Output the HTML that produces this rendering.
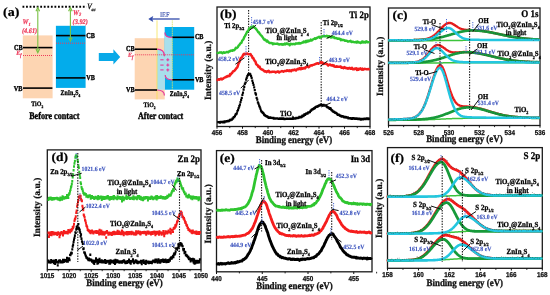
<!DOCTYPE html>
<html><head><meta charset="utf-8"><title>XPS figure</title>
<style>
html,body{margin:0;padding:0;background:#fff;}
body{width:550px;height:295px;overflow:hidden;}
svg{display:block;}
</style></head>
<body>
<svg width="550" height="295" viewBox="0 0 550 295" text-rendering="geometricPrecision">
<rect width="550" height="295" fill="#fff"/>
<text transform="translate(3,16.4) scale(1,0.9)" font-size="14" text-anchor="start" fill="#000" font-family="'Liberation Serif', 'Times New Roman', serif" font-weight="bold" font-style="normal"  stroke="#000" stroke-width="0.25">(a)</text>
<line x1="22.5" y1="6.8" x2="86.5" y2="6.8" stroke="#000" stroke-width="1.9" stroke-dasharray="1.8 1.75"/>
<text transform="translate(87.2,8.6) scale(1,1.12)" font-size="7.2" text-anchor="start" fill="#000" font-family="'Liberation Serif', 'Times New Roman', serif" font-weight="normal" font-style="italic"  stroke="#000" stroke-width="0.25">V<tspan font-size="4.2" dy="2.1">ac</tspan></text>
<rect x="22.8" y="35.4" width="29.8" height="62.9" fill="#fdd5b2"/>
<rect x="55.9" y="25.8" width="29.7" height="62.1" fill="#03aceb"/>
<line x1="22.9" y1="47.6" x2="52.4" y2="47.6" stroke="#000" stroke-width="1.6" />
<line x1="22.9" y1="88.1" x2="52.4" y2="88.1" stroke="#000" stroke-width="1.6" />
<line x1="56" y1="35.6" x2="85.4" y2="35.6" stroke="#000" stroke-width="1.6" />
<line x1="56" y1="77.9" x2="85.4" y2="77.9" stroke="#000" stroke-width="1.6" />
<line x1="23" y1="55.5" x2="52" y2="55.5" stroke="#ee3a5a" stroke-width="1.0" stroke-dasharray="1 1"/>
<line x1="56" y1="43.2" x2="85.4" y2="43.2" stroke="#ee3a5a" stroke-width="1.0" stroke-dasharray="1 1"/>
<line x1="37.8" y1="9.5" x2="37.8" y2="50.6" stroke="#79c143" stroke-width="1.1" />
<polyline points="36,11.3 37.8,7.6 39.6,11.3" fill="none" stroke="#79c143" stroke-width="1.2"/>
<polyline points="36,49 37.8,52.6 39.6,49" fill="none" stroke="#79c143" stroke-width="1.2"/>
<line x1="70.4" y1="9.5" x2="70.4" y2="39" stroke="#79c143" stroke-width="1.1" />
<polyline points="68.6,11.3 70.4,7.6 72.2,11.3" fill="none" stroke="#79c143" stroke-width="1.2"/>
<polyline points="68.6,37.4 70.4,41 72.2,37.4" fill="none" stroke="#79c143" stroke-width="1.2"/>
<text transform="translate(22.6,24) scale(1,1.12)" font-size="6.6" text-anchor="start" fill="#ee3a5a" font-family="'Liberation Serif', 'Times New Roman', serif" font-weight="bold" font-style="italic"  stroke="#ee3a5a" stroke-width="0.2">W<tspan font-size="4.4" dy="1.4">1</tspan></text>
<text transform="translate(22,33) scale(1,1.12)" font-size="6.3" text-anchor="start" fill="#ee3a5a" font-family="'Liberation Serif', 'Times New Roman', serif" font-weight="bold" font-style="italic"  stroke="#ee3a5a" stroke-width="0.2">(4.61)</text>
<text transform="translate(73,14.8) scale(1,1.12)" font-size="6.6" text-anchor="start" fill="#ee3a5a" font-family="'Liberation Serif', 'Times New Roman', serif" font-weight="bold" font-style="italic"  stroke="#ee3a5a" stroke-width="0.2">W<tspan font-size="4.4" dy="1.4">2</tspan></text>
<text transform="translate(72.6,24) scale(1,1.12)" font-size="6.3" text-anchor="start" fill="#ee3a5a" font-family="'Liberation Serif', 'Times New Roman', serif" font-weight="bold" font-style="italic"  stroke="#ee3a5a" stroke-width="0.2">(3.92)</text>
<text transform="translate(22.6,49.9) scale(1,1.22)" font-size="6.2" text-anchor="end" fill="#000" font-family="'Liberation Serif', 'Times New Roman', serif" font-weight="bold" font-style="normal"  stroke="#000" stroke-width="0.3">CB</text>
<text transform="translate(16.2,55) scale(1,1.12)" font-size="5.8" text-anchor="start" fill="#ee3a5a" font-family="'Liberation Serif', 'Times New Roman', serif" font-weight="bold" font-style="italic"  stroke="#ee3a5a" stroke-width="0.2">E<tspan font-size="4.6" dy="1.8">f</tspan></text>
<text transform="translate(22.3,90.6) scale(1,1.22)" font-size="6.2" text-anchor="end" fill="#000" font-family="'Liberation Serif', 'Times New Roman', serif" font-weight="bold" font-style="normal"  stroke="#000" stroke-width="0.3">VB</text>
<text transform="translate(86.2,37.9) scale(1,1.22)" font-size="6.2" text-anchor="start" fill="#000" font-family="'Liberation Serif', 'Times New Roman', serif" font-weight="bold" font-style="normal"  stroke="#000" stroke-width="0.3">CB</text>
<text transform="translate(86.2,80.3) scale(1,1.22)" font-size="6.2" text-anchor="start" fill="#000" font-family="'Liberation Serif', 'Times New Roman', serif" font-weight="bold" font-style="normal"  stroke="#000" stroke-width="0.3">VB</text>
<text transform="translate(60.6,95) scale(1,1.25)" font-size="5.9" text-anchor="start" fill="#000" font-family="'Liberation Serif', 'Times New Roman', serif" font-weight="bold" font-style="normal"  stroke="#000" stroke-width="0.25">ZnIn<tspan font-size="3.54" dy="1.77">2</tspan><tspan dy="-1.77">S</tspan><tspan font-size="3.54" dy="1.77">4</tspan></text>
<text transform="translate(31.2,106.2) scale(1,1.12)" font-size="6.0" text-anchor="start" fill="#000" font-family="'Liberation Serif', 'Times New Roman', serif" font-weight="bold" font-style="normal"  stroke="#000" stroke-width="0.25">TiO<tspan font-size="3.6" dy="1.8">2</tspan></text>
<text transform="translate(29.2,118.7) scale(1,1.22)" font-size="8.15" text-anchor="start" fill="#000" font-family="'Liberation Serif', 'Times New Roman', serif" font-weight="bold" font-style="normal"  stroke="#000" stroke-width="0.3">Before contact</text>
<polygon points="98.8,52.9 113.4,52.9 113.4,49.2 120.2,56.9 113.4,64.6 113.4,60.9 98.8,60.9" fill="#08a9e8"/>
<rect x="134.7" y="38.2" width="30" height="61.2" fill="#fdd5b2"/>
<rect x="164.7" y="27.0" width="29.5" height="62.7" fill="#03aceb"/>
<path d="M157,49.2 Q164.7,49.2 164.7,56 L164.7,89.7 L157,89.7 Z" fill="#a8dfec"/>
<path d="M164.7,32.5 Q164.7,37.3 172.3,37.3 L172.3,80 Q164.7,80 164.7,75 Z" fill="#a8dfec"/>
<line x1="157" y1="20.4" x2="157" y2="99.4" stroke="#f6e24c" stroke-width="0.75" />
<line x1="172.3" y1="20.4" x2="172.3" y2="89.7" stroke="#d8e36a" stroke-width="0.9" stroke-dasharray="1.2 0.6"/>
<line x1="134.8" y1="49.2" x2="157" y2="49.2" stroke="#000" stroke-width="1.6" />
<line x1="134.8" y1="90" x2="157" y2="90" stroke="#000" stroke-width="1.6" />
<line x1="172.3" y1="37.3" x2="194.1" y2="37.3" stroke="#000" stroke-width="1.6" />
<line x1="172.3" y1="79.8" x2="194.1" y2="79.8" stroke="#000" stroke-width="1.6" />
<path d="M157,49.2 Q164.4,49.2 164.4,56.2" fill="none" stroke="#e4399b" stroke-width="1.2"/>
<path d="M157,90 Q164.4,90 164.4,95.6" fill="none" stroke="#e4399b" stroke-width="1.2"/>
<path d="M164.9,32.4 Q164.9,37.3 172.3,37.3" fill="none" stroke="#e4399b" stroke-width="1.2"/>
<path d="M165.2,75 Q165.2,79.8 172.3,79.8" fill="none" stroke="#e4399b" stroke-width="1.2"/>
<line x1="134.8" y1="54.8" x2="194.1" y2="54.8" stroke="#ee3a5a" stroke-width="1.0" stroke-dasharray="1 1"/>
<line x1="160.3" y1="59.8" x2="163.6" y2="59.8" stroke="#e4399b" stroke-width="1.1" />
<line x1="166.3" y1="59.8" x2="169.3" y2="59.8" stroke="#e4399b" stroke-width="1.1" />
<line x1="167.8" y1="58.3" x2="167.8" y2="61.3" stroke="#e4399b" stroke-width="1.1" />
<line x1="160.3" y1="65.1" x2="163.6" y2="65.1" stroke="#e4399b" stroke-width="1.1" />
<line x1="166.3" y1="65.1" x2="169.3" y2="65.1" stroke="#e4399b" stroke-width="1.1" />
<line x1="167.8" y1="63.6" x2="167.8" y2="66.6" stroke="#e4399b" stroke-width="1.1" />
<line x1="160.3" y1="69.9" x2="163.6" y2="69.9" stroke="#e4399b" stroke-width="1.1" />
<line x1="166.3" y1="69.9" x2="169.3" y2="69.9" stroke="#e4399b" stroke-width="1.1" />
<line x1="167.8" y1="68.4" x2="167.8" y2="71.4" stroke="#e4399b" stroke-width="1.1" />
<line x1="151" y1="19" x2="179.6" y2="19" stroke="#3049aa" stroke-width="1.3" />
<polygon points="148.8,19 152.8,16.6 151.8,19 152.8,21.4" fill="#3049aa" stroke="#3049aa" stroke-width="0.6"/>
<text transform="translate(159.9,17) scale(1,1.12)" font-size="6.4" text-anchor="start" fill="#3049aa" font-family="'Liberation Serif', 'Times New Roman', serif" font-weight="normal" font-style="normal"  stroke="#3049aa" stroke-width="0.1">IEF</text>
<text transform="translate(134.6,51) scale(1,1.22)" font-size="6.2" text-anchor="end" fill="#000" font-family="'Liberation Serif', 'Times New Roman', serif" font-weight="bold" font-style="normal"  stroke="#000" stroke-width="0.3">CB</text>
<text transform="translate(127.9,57.2) scale(1,1.12)" font-size="5.8" text-anchor="start" fill="#ee3a5a" font-family="'Liberation Serif', 'Times New Roman', serif" font-weight="bold" font-style="italic"  stroke="#ee3a5a" stroke-width="0.2">E<tspan font-size="4.6" dy="1.8">f</tspan></text>
<text transform="translate(134.6,92.4) scale(1,1.22)" font-size="6.2" text-anchor="end" fill="#000" font-family="'Liberation Serif', 'Times New Roman', serif" font-weight="bold" font-style="normal"  stroke="#000" stroke-width="0.3">VB</text>
<text transform="translate(194.9,39.2) scale(1,1.22)" font-size="6.2" text-anchor="start" fill="#000" font-family="'Liberation Serif', 'Times New Roman', serif" font-weight="bold" font-style="normal"  stroke="#000" stroke-width="0.3">CB</text>
<text transform="translate(194.9,82) scale(1,1.22)" font-size="6.2" text-anchor="start" fill="#000" font-family="'Liberation Serif', 'Times New Roman', serif" font-weight="bold" font-style="normal"  stroke="#000" stroke-width="0.3">VB</text>
<text transform="translate(169.8,96.2) scale(1,1.25)" font-size="5.8" text-anchor="start" fill="#000" font-family="'Liberation Serif', 'Times New Roman', serif" font-weight="bold" font-style="normal"  stroke="#000" stroke-width="0.25">ZnIn<tspan font-size="3.48" dy="1.74">2</tspan><tspan dy="-1.74">S</tspan><tspan font-size="3.48" dy="1.74">4</tspan></text>
<text transform="translate(143.6,106.5) scale(1,1.12)" font-size="6.0" text-anchor="start" fill="#000" font-family="'Liberation Serif', 'Times New Roman', serif" font-weight="bold" font-style="normal"  stroke="#000" stroke-width="0.25">TiO<tspan font-size="3.6" dy="1.8">2</tspan></text>
<text transform="translate(138,119.3) scale(1,1.22)" font-size="8.05" text-anchor="start" fill="#000" font-family="'Liberation Serif', 'Times New Roman', serif" font-weight="bold" font-style="normal"  stroke="#000" stroke-width="0.3">After contact</text>
<rect x="217" y="7" width="153" height="119.5" fill="none" stroke="#1a1a1a" stroke-width="1.3"/>
<line x1="217" y1="126.5" x2="217" y2="128.7" stroke="#111" stroke-width="1" />
<line x1="242.5" y1="126.5" x2="242.5" y2="128.7" stroke="#111" stroke-width="1" />
<line x1="268" y1="126.5" x2="268" y2="128.7" stroke="#111" stroke-width="1" />
<line x1="293.5" y1="126.5" x2="293.5" y2="128.7" stroke="#111" stroke-width="1" />
<line x1="319" y1="126.5" x2="319" y2="128.7" stroke="#111" stroke-width="1" />
<line x1="344.5" y1="126.5" x2="344.5" y2="128.7" stroke="#111" stroke-width="1" />
<line x1="370" y1="126.5" x2="370" y2="128.7" stroke="#111" stroke-width="1" />
<line x1="229.75" y1="126.5" x2="229.75" y2="128.1" stroke="#111" stroke-width="0.9" />
<line x1="255.25" y1="126.5" x2="255.25" y2="128.1" stroke="#111" stroke-width="0.9" />
<line x1="280.75" y1="126.5" x2="280.75" y2="128.1" stroke="#111" stroke-width="0.9" />
<line x1="306.25" y1="126.5" x2="306.25" y2="128.1" stroke="#111" stroke-width="0.9" />
<line x1="331.75" y1="126.5" x2="331.75" y2="128.1" stroke="#111" stroke-width="0.9" />
<line x1="357.25" y1="126.5" x2="357.25" y2="128.1" stroke="#111" stroke-width="0.9" />
<text transform="translate(217,135.4) scale(1,1.12)" font-size="6.3" text-anchor="middle" fill="#111" font-family="'Liberation Sans', Arial, sans-serif" font-weight="bold" font-style="normal"  stroke="#111" stroke-width="0.25">456</text>
<text transform="translate(242.5,135.4) scale(1,1.12)" font-size="6.3" text-anchor="middle" fill="#111" font-family="'Liberation Sans', Arial, sans-serif" font-weight="bold" font-style="normal"  stroke="#111" stroke-width="0.25">458</text>
<text transform="translate(268,135.4) scale(1,1.12)" font-size="6.3" text-anchor="middle" fill="#111" font-family="'Liberation Sans', Arial, sans-serif" font-weight="bold" font-style="normal"  stroke="#111" stroke-width="0.25">460</text>
<text transform="translate(293.5,135.4) scale(1,1.12)" font-size="6.3" text-anchor="middle" fill="#111" font-family="'Liberation Sans', Arial, sans-serif" font-weight="bold" font-style="normal"  stroke="#111" stroke-width="0.25">462</text>
<text transform="translate(319,135.4) scale(1,1.12)" font-size="6.3" text-anchor="middle" fill="#111" font-family="'Liberation Sans', Arial, sans-serif" font-weight="bold" font-style="normal"  stroke="#111" stroke-width="0.25">464</text>
<text transform="translate(344.5,135.4) scale(1,1.12)" font-size="6.3" text-anchor="middle" fill="#111" font-family="'Liberation Sans', Arial, sans-serif" font-weight="bold" font-style="normal"  stroke="#111" stroke-width="0.25">466</text>
<text transform="translate(370,135.4) scale(1,1.12)" font-size="6.3" text-anchor="middle" fill="#111" font-family="'Liberation Sans', Arial, sans-serif" font-weight="bold" font-style="normal"  stroke="#111" stroke-width="0.25">468</text>
<text transform="translate(294,142.9) scale(1,1.12)" font-size="8.9" text-anchor="middle" fill="#111" font-family="'Liberation Serif', 'Times New Roman', serif" font-weight="bold" font-style="normal"  stroke="#111" stroke-width="0.3">Binding energy (eV)</text>
<text x="0" y="0" font-size="9.5" text-anchor="middle" fill="#111" stroke="#111" stroke-width="0.25" font-family="'Liberation Serif', 'Times New Roman', serif" font-weight="bold" transform="translate(211.3,70.4) rotate(-90)">Intensity (a.u.)</text>
<line x1="248.6" y1="10" x2="248.6" y2="75" stroke="#1a1a1a" stroke-width="1.1" stroke-dasharray="1.4 1.3"/>
<line x1="321.2" y1="22" x2="321.2" y2="105" stroke="#1a1a1a" stroke-width="1.1" stroke-dasharray="1.4 1.3"/>
<polyline points="217.6,52.89 218.3,53 219,52.72 219.7,52.41 220.4,52.58 221.1,52.3 221.8,52.74 222.5,53.28 223.2,52.41 223.9,52.3 224.6,52.74 225.3,52.62 226,52.43 226.7,51.88 227.4,52.19 228.1,52.41 228.8,51.36 229.5,51.61 230.2,50.79 230.9,50.86 231.6,50.39 232.3,50.84 233,50.07 233.7,50.41 234.4,49.96 235.1,49.35 235.8,47.79 236.5,48.1 237.2,47.68 237.9,47.04 238.6,45.52 239.3,45.13 240,43.97 240.7,43.05 241.4,42.82 242.1,40.85 242.8,40.01 243.5,39.18 244.2,37.25 244.9,36.17 245.6,34.97 246.3,33.67 247,31.84 247.7,31.24 248.4,30.72 249.1,28.43 249.8,28.67 250.5,27.65 251.2,26.8 251.9,27.68 252.6,27.02 253.3,26.24 254,27.12 254.7,27.82 255.4,28.1 256.1,29.23 256.8,29.73 257.5,30.97 258.2,32.26 258.9,32.28 259.6,33.65 260.3,34.31 261,35.52 261.7,35.82 262.4,36.94 263.1,37.91 263.8,39.15 264.5,39.93 265.2,39.44 265.9,40.23 266.6,41.38 267.3,40.63 268,41.7 268.7,42.21 269.4,43.11 270.1,43.11 270.8,42.87 271.5,43.03 272.2,43.24 272.9,44.18 273.6,43.41 274.3,43.57 275,43.95 275.7,43.8 276.4,43.83 277.1,43.47 277.8,44.01 278.5,43.86 279.2,44.61 279.9,44.41 280.6,44.13 281.3,44.46 282,44.03 282.7,44.67 283.4,44.21 284.1,44.48 284.8,43.64 285.5,44.38 286.2,43.47 286.9,43.31 287.6,44.08 288.3,43.8 289,44.27 289.7,45.18 290.4,43.78 291.1,43.84 291.8,44.19 292.5,44.28 293.2,43.93 293.9,43.87 294.6,44.23 295.3,44.08 296,43.31 296.7,43.67 297.4,43.63 298.1,43.05 298.8,43.54 299.5,42.93 300.2,43.63 300.9,43.15 301.6,42.97 302.3,42.51 303,42.56 303.7,41.55 304.4,41.76 305.1,42.24 305.8,40.92 306.5,42.06 307.2,40.67 307.9,41.57 308.6,40.62 309.3,41.11 310,40.57 310.7,39.57 311.4,40.57 312.1,40.39 312.8,39.45 313.5,39.1 314.2,38.89 314.9,38.26 315.6,38.94 316.3,37.96 317,37.94 317.7,37.38 318.4,37.23 319.1,36.74 319.8,37.69 320.5,36.88 321.2,37.23 321.9,36.67 322.6,36.25 323.3,36.32 324,36.16 324.7,36.37 325.4,36.18 326.1,36.22 326.8,35.76 327.5,36.07 328.2,37.25 328.9,36.29 329.6,36.23 330.3,36.98 331,37.59 331.7,36.46 332.4,37.18 333.1,37.16 333.8,36.83 334.5,38.14 335.2,37.99 335.9,38.23 336.6,38.06 337.3,38.8 338,38.55 338.7,38.92 339.4,38.68 340.1,38.82 340.8,40.15 341.5,39.5 342.2,40.03 342.9,40.06 343.6,40.03 344.3,40.16 345,40.81 345.7,40.53 346.4,40.73 347.1,40.93 347.8,41.57 348.5,41.46 349.2,41.42 349.9,41.09 350.6,40.81 351.3,41.94 352,42.03 352.7,41.6 353.4,41.97 354.1,42.13 354.8,42.21 355.5,42.3 356.2,41.72 356.9,42.65 357.6,41.44 358.3,42.43 359,42.29 359.7,42.49 360.4,42.97 361.1,42.81 361.8,41.65 362.5,41.42 363.2,42.57 363.9,41.76 364.6,42.22 365.3,42.62 366,41.51 366.7,41.31 367.4,42.39 368.1,42.3 368.8,42.18" fill="none" stroke="#2ec52e" stroke-width="2.4" stroke-linejoin="round" stroke-linecap="round" />
<polyline points="217.6,80.09 218.3,79.58 219,79.16 219.7,79.62 220.4,79.1 221.1,78.64 221.8,79.4 222.5,78.88 223.2,78.79 223.9,77.84 224.6,77.66 225.3,77.16 226,76.85 226.7,76.95 227.4,76.1 228.1,76.18 228.8,75.71 229.5,75.98 230.2,73.93 230.9,74.39 231.6,73.34 232.3,72.73 233,71.41 233.7,71.14 234.4,70.95 235.1,69.82 235.8,69.08 236.5,68 237.2,67.59 237.9,65.72 238.6,63.19 239.3,62.25 240,60.12 240.7,58.04 241.4,57.73 242.1,57.21 242.8,55.62 243.5,54.21 244.2,53.71 244.9,54.4 245.6,53.81 246.3,53.66 247,53.58 247.7,53.66 248.4,54.14 249.1,54.23 249.8,54.33 250.5,54.11 251.2,55.53 251.9,56.02 252.6,57.98 253.3,58.03 254,59.63 254.7,60.85 255.4,61.43 256.1,63.92 256.8,64.84 257.5,65 258.2,66.54 258.9,67.23 259.6,66.62 260.3,68.56 261,69 261.7,69.57 262.4,69.47 263.1,70.17 263.8,70.53 264.5,71.44 265.2,71.29 265.9,71.31 266.6,72.1 267.3,71.22 268,71.34 268.7,70.75 269.4,72.32 270.1,72.08 270.8,72.1 271.5,72.02 272.2,71.79 272.9,71.86 273.6,71.67 274.3,71.7 275,71.82 275.7,72.48 276.4,72.05 277.1,71.76 277.8,71.5 278.5,71.45 279.2,72.42 279.9,71.88 280.6,71.64 281.3,71.39 282,70.99 282.7,71.4 283.4,71.75 284.1,71.11 284.8,71.11 285.5,71.03 286.2,71.1 286.9,70.25 287.6,70.78 288.3,70.42 289,71.12 289.7,70.29 290.4,70.81 291.1,71.15 291.8,70.22 292.5,69.99 293.2,70.23 293.9,70.03 294.6,69.46 295.3,69.99 296,70.55 296.7,69.39 297.4,69.27 298.1,68.74 298.8,69.2 299.5,68.34 300.2,68.24 300.9,69.15 301.6,67.99 302.3,68.71 303,68.74 303.7,67.99 304.4,67.94 305.1,68.39 305.8,67.23 306.5,66.87 307.2,66.34 307.9,66.76 308.6,67.18 309.3,66.71 310,65.61 310.7,65.4 311.4,65.3 312.1,65.4 312.8,64.92 313.5,64.87 314.2,64.66 314.9,64.13 315.6,63.94 316.3,63.75 317,63.33 317.7,63.35 318.4,63.77 319.1,63.08 319.8,62.83 320.5,62.11 321.2,63.15 321.9,62.24 322.6,62.65 323.3,63.83 324,63.92 324.7,63.68 325.4,63.13 326.1,63.9 326.8,63.93 327.5,64.7 328.2,65.61 328.9,64.87 329.6,64.6 330.3,64.6 331,65.28 331.7,65.4 332.4,65.12 333.1,65.85 333.8,65.42 334.5,66.58 335.2,66.69 335.9,66.84 336.6,66.27 337.3,66.85 338,66.69 338.7,66.71 339.4,66.86 340.1,66.56 340.8,66.62 341.5,67.75 342.2,67.42 342.9,67.72 343.6,68.18 344.3,67.06 345,67.58 345.7,68.11 346.4,68.29 347.1,68.03 347.8,68.73 348.5,68.43 349.2,67.85 349.9,68.03 350.6,68.86 351.3,68.75 352,67.74 352.7,69.25 353.4,68.96 354.1,69.34 354.8,68.61 355.5,68.7 356.2,68.37 356.9,70.06 357.6,68.88 358.3,69.71 359,68.75 359.7,69.15 360.4,68.36 361.1,68.97 361.8,69.62 362.5,68.65 363.2,69.72 363.9,69.42 364.6,68.82 365.3,69.08 366,69.12 366.7,69.33 367.4,69.12 368.1,69 368.8,69.25" fill="none" stroke="#f51d1d" stroke-width="2.5" stroke-linejoin="round" stroke-linecap="round" />
<path d="M217.15,121.04h2.1v2.3h-2.1zM217.77,120.91h2.1v2.3h-2.1zM218.39,121.23h2.1v2.3h-2.1zM219.01,121.45h2.1v2.3h-2.1zM219.63,120.67h2.1v2.3h-2.1zM220.25,121.06h2.1v2.3h-2.1zM220.87,120.8h2.1v2.3h-2.1zM221.49,120.63h2.1v2.3h-2.1zM222.11,121.1h2.1v2.3h-2.1zM222.73,120.6h2.1v2.3h-2.1zM223.35,121.11h2.1v2.3h-2.1zM223.97,120.32h2.1v2.3h-2.1zM224.59,120.56h2.1v2.3h-2.1zM225.21,120.26h2.1v2.3h-2.1zM225.83,119.96h2.1v2.3h-2.1zM226.45,120.21h2.1v2.3h-2.1zM227.07,119.81h2.1v2.3h-2.1zM227.69,119.85h2.1v2.3h-2.1zM228.31,119.43h2.1v2.3h-2.1zM228.93,118.86h2.1v2.3h-2.1zM229.55,118.86h2.1v2.3h-2.1zM230.17,118.56h2.1v2.3h-2.1zM230.79,118.44h2.1v2.3h-2.1zM231.41,117.42h2.1v2.3h-2.1zM232.03,117.15h2.1v2.3h-2.1zM232.65,116.03h2.1v2.3h-2.1zM233.27,116.04h2.1v2.3h-2.1zM233.89,114.7h2.1v2.3h-2.1zM234.51,113.55h2.1v2.3h-2.1zM235.13,113.01h2.1v2.3h-2.1zM235.75,112.15h2.1v2.3h-2.1zM236.37,110.01h2.1v2.3h-2.1zM236.99,108.63h2.1v2.3h-2.1zM237.61,107.05h2.1v2.3h-2.1zM238.23,105.09h2.1v2.3h-2.1zM238.85,103.54h2.1v2.3h-2.1zM239.47,101.01h2.1v2.3h-2.1zM240.09,98.72h2.1v2.3h-2.1zM240.71,96.67h2.1v2.3h-2.1zM241.33,93.71h2.1v2.3h-2.1zM241.95,91.43h2.1v2.3h-2.1zM242.57,88.33h2.1v2.3h-2.1zM243.19,85.58h2.1v2.3h-2.1zM243.81,82.78h2.1v2.3h-2.1zM244.43,81.41h2.1v2.3h-2.1zM245.05,78.47h2.1v2.3h-2.1zM245.67,76.64h2.1v2.3h-2.1zM246.29,74.91h2.1v2.3h-2.1zM246.91,73.76h2.1v2.3h-2.1zM247.53,73h2.1v2.3h-2.1zM248.15,73.35h2.1v2.3h-2.1zM248.77,72.82h2.1v2.3h-2.1zM249.39,73.54h2.1v2.3h-2.1zM250.01,75.06h2.1v2.3h-2.1zM250.63,76.72h2.1v2.3h-2.1zM251.25,79.43h2.1v2.3h-2.1zM251.87,81.77h2.1v2.3h-2.1zM252.49,83.71h2.1v2.3h-2.1zM253.11,86.14h2.1v2.3h-2.1zM253.73,89.04h2.1v2.3h-2.1zM254.35,92.12h2.1v2.3h-2.1zM254.97,93.34h2.1v2.3h-2.1zM255.59,96.73h2.1v2.3h-2.1zM256.21,98.5h2.1v2.3h-2.1zM256.83,101.24h2.1v2.3h-2.1zM257.45,102.55h2.1v2.3h-2.1zM258.07,104.57h2.1v2.3h-2.1zM258.69,105.83h2.1v2.3h-2.1zM259.31,107.44h2.1v2.3h-2.1zM259.93,109.44h2.1v2.3h-2.1zM260.55,110.41h2.1v2.3h-2.1zM261.17,111.05h2.1v2.3h-2.1zM261.79,111.79h2.1v2.3h-2.1zM262.41,112.24h2.1v2.3h-2.1zM263.03,113.34h2.1v2.3h-2.1zM263.65,114.01h2.1v2.3h-2.1zM264.27,114.48h2.1v2.3h-2.1zM264.89,114.89h2.1v2.3h-2.1zM265.51,114.93h2.1v2.3h-2.1zM266.13,115.55h2.1v2.3h-2.1zM266.75,115.82h2.1v2.3h-2.1zM267.37,116.44h2.1v2.3h-2.1zM267.99,116.81h2.1v2.3h-2.1zM268.61,116.37h2.1v2.3h-2.1zM269.23,116.33h2.1v2.3h-2.1zM269.85,116.67h2.1v2.3h-2.1zM270.47,116.63h2.1v2.3h-2.1zM271.09,116.69h2.1v2.3h-2.1zM271.71,116.99h2.1v2.3h-2.1zM272.33,116.78h2.1v2.3h-2.1zM272.95,117.35h2.1v2.3h-2.1zM273.57,117.21h2.1v2.3h-2.1zM274.19,117.38h2.1v2.3h-2.1zM274.81,117.31h2.1v2.3h-2.1zM275.43,117.2h2.1v2.3h-2.1zM276.05,117.18h2.1v2.3h-2.1zM276.67,117.44h2.1v2.3h-2.1zM277.29,117.39h2.1v2.3h-2.1zM277.91,117.67h2.1v2.3h-2.1zM278.53,117.63h2.1v2.3h-2.1zM279.15,117.25h2.1v2.3h-2.1zM279.77,117.71h2.1v2.3h-2.1zM280.39,117.32h2.1v2.3h-2.1zM281.01,117.56h2.1v2.3h-2.1zM281.63,117.67h2.1v2.3h-2.1zM282.25,117.16h2.1v2.3h-2.1zM282.87,117.82h2.1v2.3h-2.1zM283.49,117.85h2.1v2.3h-2.1zM284.11,117.77h2.1v2.3h-2.1zM284.73,117.69h2.1v2.3h-2.1zM285.35,117.71h2.1v2.3h-2.1zM285.97,117.52h2.1v2.3h-2.1zM286.59,117.73h2.1v2.3h-2.1zM287.21,117.63h2.1v2.3h-2.1zM287.83,117.81h2.1v2.3h-2.1zM288.45,117.4h2.1v2.3h-2.1zM289.07,117.8h2.1v2.3h-2.1zM289.69,117.74h2.1v2.3h-2.1zM290.31,117.61h2.1v2.3h-2.1zM290.93,117.48h2.1v2.3h-2.1zM291.55,117.72h2.1v2.3h-2.1zM292.17,116.99h2.1v2.3h-2.1zM292.79,117.56h2.1v2.3h-2.1zM293.41,117.41h2.1v2.3h-2.1zM294.03,117.33h2.1v2.3h-2.1zM294.65,117.25h2.1v2.3h-2.1zM295.27,116.82h2.1v2.3h-2.1zM295.89,116.81h2.1v2.3h-2.1zM296.51,116.94h2.1v2.3h-2.1zM297.13,116.72h2.1v2.3h-2.1zM297.75,116.48h2.1v2.3h-2.1zM298.37,115.77h2.1v2.3h-2.1zM298.99,116.18h2.1v2.3h-2.1zM299.61,116.15h2.1v2.3h-2.1zM300.23,115.86h2.1v2.3h-2.1zM300.85,115.36h2.1v2.3h-2.1zM301.47,114.55h2.1v2.3h-2.1zM302.09,115h2.1v2.3h-2.1zM302.71,114.36h2.1v2.3h-2.1zM303.33,113.31h2.1v2.3h-2.1zM303.95,113.82h2.1v2.3h-2.1zM304.57,112.89h2.1v2.3h-2.1zM305.19,112.56h2.1v2.3h-2.1zM305.81,112.35h2.1v2.3h-2.1zM306.43,112.5h2.1v2.3h-2.1zM307.05,111.57h2.1v2.3h-2.1zM307.67,111.32h2.1v2.3h-2.1zM308.29,111.3h2.1v2.3h-2.1zM308.91,110.79h2.1v2.3h-2.1zM309.53,109.8h2.1v2.3h-2.1zM310.15,109.28h2.1v2.3h-2.1zM310.77,108.5h2.1v2.3h-2.1zM311.39,108.19h2.1v2.3h-2.1zM312.01,108.05h2.1v2.3h-2.1zM312.63,107.58h2.1v2.3h-2.1zM313.25,107.04h2.1v2.3h-2.1zM313.87,106.87h2.1v2.3h-2.1zM314.49,105.92h2.1v2.3h-2.1zM315.11,105.74h2.1v2.3h-2.1zM315.73,105.62h2.1v2.3h-2.1zM316.35,105.24h2.1v2.3h-2.1zM316.97,105.09h2.1v2.3h-2.1zM317.59,104.63h2.1v2.3h-2.1zM318.21,104.2h2.1v2.3h-2.1zM318.83,104.23h2.1v2.3h-2.1zM319.45,103.7h2.1v2.3h-2.1zM320.07,103.44h2.1v2.3h-2.1zM320.69,104.08h2.1v2.3h-2.1zM321.31,103.92h2.1v2.3h-2.1zM321.93,104.11h2.1v2.3h-2.1zM322.55,103.64h2.1v2.3h-2.1zM323.17,104.21h2.1v2.3h-2.1zM323.79,104.36h2.1v2.3h-2.1zM324.41,104.54h2.1v2.3h-2.1zM325.03,104.42h2.1v2.3h-2.1zM325.65,105.33h2.1v2.3h-2.1zM326.27,106.06h2.1v2.3h-2.1zM326.89,106.29h2.1v2.3h-2.1zM327.51,106.4h2.1v2.3h-2.1zM328.13,107h2.1v2.3h-2.1zM328.75,107.67h2.1v2.3h-2.1zM329.37,107.07h2.1v2.3h-2.1zM329.99,108.32h2.1v2.3h-2.1zM330.61,108.98h2.1v2.3h-2.1zM331.23,109.48h2.1v2.3h-2.1zM331.85,110.25h2.1v2.3h-2.1zM332.47,110.53h2.1v2.3h-2.1zM333.09,110.73h2.1v2.3h-2.1zM333.71,111.17h2.1v2.3h-2.1zM334.33,111.74h2.1v2.3h-2.1zM334.95,111.76h2.1v2.3h-2.1zM335.57,112.31h2.1v2.3h-2.1zM336.19,112.98h2.1v2.3h-2.1zM336.81,113.67h2.1v2.3h-2.1zM337.43,113.38h2.1v2.3h-2.1zM338.05,113.75h2.1v2.3h-2.1zM338.67,114.14h2.1v2.3h-2.1zM339.29,114.79h2.1v2.3h-2.1zM339.91,114.66h2.1v2.3h-2.1zM340.53,115.37h2.1v2.3h-2.1zM341.15,114.89h2.1v2.3h-2.1zM341.77,115.35h2.1v2.3h-2.1zM342.39,115.56h2.1v2.3h-2.1zM343.01,116.06h2.1v2.3h-2.1zM343.63,116.32h2.1v2.3h-2.1zM344.25,115.72h2.1v2.3h-2.1zM344.87,116.05h2.1v2.3h-2.1zM345.49,116.57h2.1v2.3h-2.1zM346.11,116.4h2.1v2.3h-2.1zM346.73,116.25h2.1v2.3h-2.1zM347.35,117.13h2.1v2.3h-2.1zM347.97,117.06h2.1v2.3h-2.1zM348.59,117.15h2.1v2.3h-2.1zM349.21,116.94h2.1v2.3h-2.1zM349.83,117.46h2.1v2.3h-2.1zM350.45,117.14h2.1v2.3h-2.1zM351.07,117.6h2.1v2.3h-2.1zM351.69,117.05h2.1v2.3h-2.1zM352.31,117.12h2.1v2.3h-2.1zM352.93,117.48h2.1v2.3h-2.1zM353.55,117.24h2.1v2.3h-2.1zM354.17,117.69h2.1v2.3h-2.1zM354.79,117.6h2.1v2.3h-2.1zM355.41,117.27h2.1v2.3h-2.1zM356.03,117.59h2.1v2.3h-2.1zM356.65,117.49h2.1v2.3h-2.1zM357.27,117.89h2.1v2.3h-2.1zM357.89,117.45h2.1v2.3h-2.1zM358.51,117.52h2.1v2.3h-2.1zM359.13,118.03h2.1v2.3h-2.1zM359.75,118.36h2.1v2.3h-2.1zM360.37,118.3h2.1v2.3h-2.1zM360.99,117.73h2.1v2.3h-2.1zM361.61,117.79h2.1v2.3h-2.1zM362.23,118.2h2.1v2.3h-2.1zM362.85,117.71h2.1v2.3h-2.1zM363.47,117.46h2.1v2.3h-2.1zM364.09,117.8h2.1v2.3h-2.1zM364.71,117.91h2.1v2.3h-2.1zM365.33,117.54h2.1v2.3h-2.1zM365.95,117.3h2.1v2.3h-2.1zM366.57,117.37h2.1v2.3h-2.1zM367.19,118.01h2.1v2.3h-2.1zM367.81,117.59h2.1v2.3h-2.1z" fill="#000"/>
<line x1="251.6" y1="17" x2="251.6" y2="27" stroke="#3b5bd0" stroke-width="0.9" stroke-dasharray="1.2 1.2"/>
<line x1="246" y1="46" x2="246" y2="57" stroke="#3b5bd0" stroke-width="0.9" stroke-dasharray="1.2 1.2"/>
<line x1="324" y1="29" x2="324" y2="37" stroke="#3b5bd0" stroke-width="0.9" stroke-dasharray="1.2 1.2"/>
<line x1="319.5" y1="57" x2="319.5" y2="64" stroke="#3b5bd0" stroke-width="0.9" stroke-dasharray="1.2 1.2"/>
<text transform="translate(220,18.2) scale(1,0.9)" font-size="13.5" text-anchor="start" fill="#000" font-family="'Liberation Serif', 'Times New Roman', serif" font-weight="bold" font-style="normal"  stroke="#000" stroke-width="0.25">(b)</text>
<text transform="translate(368.8,18.4) scale(1,1.12)" font-size="8.8" text-anchor="end" fill="#000" font-family="'Liberation Serif', 'Times New Roman', serif" font-weight="bold" font-style="normal"  stroke="#000" stroke-width="0.25">Ti 2p</text>
<text transform="translate(224.2,27.8) scale(1,1.12)" font-size="6.7" text-anchor="start" fill="#000" font-family="'Liberation Serif', 'Times New Roman', serif" font-weight="bold" font-style="normal"  stroke="#000" stroke-width="0.25">Ti 2p<tspan font-size="4.02" dy="2.01">3/2</tspan></text>
<text transform="translate(252.7,24.2) scale(1,1.12)" font-size="5.8" text-anchor="start" fill="#3a52bd" font-family="'Liberation Serif', 'Times New Roman', serif" font-weight="bold" font-style="normal"  stroke="#3a52bd" stroke-width="0.12">458.7 eV</text>
<line x1="249.2" y1="30.5" x2="256" y2="25.2" stroke="#111" stroke-width="1.0" />
<text transform="translate(265.6,33.2) scale(1,1.12)" font-size="6.9" text-anchor="start" fill="#000" font-family="'Liberation Serif', 'Times New Roman', serif" font-weight="bold" font-style="normal"  stroke="#000" stroke-width="0.25">TiO<tspan font-size="4.14" dy="2.07">2</tspan><tspan dy="-2.07">@ZnIn</tspan><tspan font-size="4.14" dy="2.07">2</tspan><tspan dy="-2.07">S</tspan><tspan font-size="4.14" dy="2.07">4</tspan></text>
<text transform="translate(276.4,40.4) scale(1,1.12)" font-size="6.8" text-anchor="start" fill="#000" font-family="'Liberation Serif', 'Times New Roman', serif" font-weight="bold" font-style="normal"  stroke="#000" stroke-width="0.25">in light</text>
<text transform="translate(322.8,24.9) scale(1,1.12)" font-size="6.7" text-anchor="start" fill="#000" font-family="'Liberation Serif', 'Times New Roman', serif" font-weight="bold" font-style="normal"  stroke="#000" stroke-width="0.25">Ti 2p<tspan font-size="4.02" dy="2.01">1/2</tspan></text>
<text transform="translate(331.7,35) scale(1,1.12)" font-size="5.8" text-anchor="start" fill="#3a52bd" font-family="'Liberation Serif', 'Times New Roman', serif" font-weight="bold" font-style="normal"  stroke="#3a52bd" stroke-width="0.12">464.4 eV</text>
<line x1="326.6" y1="38.5" x2="332.6" y2="35.4" stroke="#111" stroke-width="1.0" />
<text transform="translate(218,60.6) scale(1,1.12)" font-size="5.8" text-anchor="start" fill="#3a52bd" font-family="'Liberation Serif', 'Times New Roman', serif" font-weight="bold" font-style="normal"  stroke="#3a52bd" stroke-width="0.12">458.2 eV</text>
<line x1="235.4" y1="64.2" x2="244.5" y2="57.8" stroke="#111" stroke-width="1.0" />
<text transform="translate(265.2,63.8) scale(1,1.12)" font-size="6.9" text-anchor="start" fill="#000" font-family="'Liberation Serif', 'Times New Roman', serif" font-weight="bold" font-style="normal"  stroke="#000" stroke-width="0.25">TiO<tspan font-size="4.14" dy="2.07">2</tspan><tspan dy="-2.07">@ZnIn</tspan><tspan font-size="4.14" dy="2.07">2</tspan><tspan dy="-2.07">S</tspan><tspan font-size="4.14" dy="2.07">4</tspan></text>
<text transform="translate(328.7,61.6) scale(1,1.12)" font-size="5.8" text-anchor="start" fill="#3a52bd" font-family="'Liberation Serif', 'Times New Roman', serif" font-weight="bold" font-style="normal"  stroke="#3a52bd" stroke-width="0.12">463.9 eV</text>
<line x1="320.5" y1="66.2" x2="327.7" y2="60.9" stroke="#111" stroke-width="1.0" />
<text transform="translate(219,94.6) scale(1,1.12)" font-size="5.8" text-anchor="start" fill="#3a52bd" font-family="'Liberation Serif', 'Times New Roman', serif" font-weight="bold" font-style="normal"  stroke="#3a52bd" stroke-width="0.12">458.5 eV</text>
<line x1="240.8" y1="88.2" x2="248.6" y2="80" stroke="#111" stroke-width="1.0" />
<text transform="translate(326.6,101.2) scale(1,1.12)" font-size="5.8" text-anchor="start" fill="#3a52bd" font-family="'Liberation Serif', 'Times New Roman', serif" font-weight="bold" font-style="normal"  stroke="#3a52bd" stroke-width="0.12">464.2 eV</text>
<line x1="321.2" y1="107" x2="330.7" y2="102.9" stroke="#111" stroke-width="1.0" />
<text transform="translate(280,116.2) scale(1,1.12)" font-size="6.9" text-anchor="start" fill="#000" font-family="'Liberation Serif', 'Times New Roman', serif" font-weight="bold" font-style="normal"  stroke="#000" stroke-width="0.25">TiO<tspan font-size="4.14" dy="2.07">2</tspan></text>
<rect x="388.5" y="8" width="151.5" height="117.5" fill="none" stroke="#1a1a1a" stroke-width="1.3"/>
<line x1="388.5" y1="125.5" x2="388.5" y2="127.7" stroke="#111" stroke-width="1" />
<line x1="418.8" y1="125.5" x2="418.8" y2="127.7" stroke="#111" stroke-width="1" />
<line x1="449.1" y1="125.5" x2="449.1" y2="127.7" stroke="#111" stroke-width="1" />
<line x1="479.4" y1="125.5" x2="479.4" y2="127.7" stroke="#111" stroke-width="1" />
<line x1="509.7" y1="125.5" x2="509.7" y2="127.7" stroke="#111" stroke-width="1" />
<line x1="540" y1="125.5" x2="540" y2="127.7" stroke="#111" stroke-width="1" />
<line x1="403.65" y1="125.5" x2="403.65" y2="127.1" stroke="#111" stroke-width="0.9" />
<line x1="433.95" y1="125.5" x2="433.95" y2="127.1" stroke="#111" stroke-width="0.9" />
<line x1="464.25" y1="125.5" x2="464.25" y2="127.1" stroke="#111" stroke-width="0.9" />
<line x1="494.55" y1="125.5" x2="494.55" y2="127.1" stroke="#111" stroke-width="0.9" />
<line x1="524.85" y1="125.5" x2="524.85" y2="127.1" stroke="#111" stroke-width="0.9" />
<text transform="translate(388.5,134.8) scale(1,1.12)" font-size="6.3" text-anchor="middle" fill="#111" font-family="'Liberation Sans', Arial, sans-serif" font-weight="bold" font-style="normal"  stroke="#111" stroke-width="0.25">526</text>
<text transform="translate(418.8,134.8) scale(1,1.12)" font-size="6.3" text-anchor="middle" fill="#111" font-family="'Liberation Sans', Arial, sans-serif" font-weight="bold" font-style="normal"  stroke="#111" stroke-width="0.25">528</text>
<text transform="translate(449.1,134.8) scale(1,1.12)" font-size="6.3" text-anchor="middle" fill="#111" font-family="'Liberation Sans', Arial, sans-serif" font-weight="bold" font-style="normal"  stroke="#111" stroke-width="0.25">530</text>
<text transform="translate(479.4,134.8) scale(1,1.12)" font-size="6.3" text-anchor="middle" fill="#111" font-family="'Liberation Sans', Arial, sans-serif" font-weight="bold" font-style="normal"  stroke="#111" stroke-width="0.25">532</text>
<text transform="translate(509.7,134.8) scale(1,1.12)" font-size="6.3" text-anchor="middle" fill="#111" font-family="'Liberation Sans', Arial, sans-serif" font-weight="bold" font-style="normal"  stroke="#111" stroke-width="0.25">534</text>
<text transform="translate(540,134.8) scale(1,1.12)" font-size="6.3" text-anchor="middle" fill="#111" font-family="'Liberation Sans', Arial, sans-serif" font-weight="bold" font-style="normal"  stroke="#111" stroke-width="0.25">536</text>
<text transform="translate(464.4,142.2) scale(1,1.12)" font-size="8.9" text-anchor="middle" fill="#111" font-family="'Liberation Serif', 'Times New Roman', serif" font-weight="bold" font-style="normal"  stroke="#111" stroke-width="0.3">Binding energy (eV)</text>
<text x="0" y="0" font-size="9.5" text-anchor="middle" fill="#111" stroke="#111" stroke-width="0.25" font-family="'Liberation Serif', 'Times New Roman', serif" font-weight="bold" transform="translate(382.6,66.2) rotate(-90)">Intensity (a.u.)</text>
<polyline points="389.3,40.34 389.9,40.34 390.5,40.34 391.1,40.34 391.7,40.34 392.3,40.34 392.9,40.33 393.5,40.33 394.1,40.33 394.7,40.33 395.3,40.33 395.9,40.32 396.5,40.32 397.1,40.32 397.7,40.31 398.3,40.31 398.9,40.31 399.5,40.3 400.1,40.3 400.7,40.3 401.3,40.29 401.9,40.29 402.5,40.28 403.1,40.28 403.7,40.27 404.3,40.26 404.9,40.26 405.5,40.25 406.1,40.24 406.7,40.23 407.3,40.23 407.9,40.22 408.5,40.21 409.1,40.2 409.7,40.18 410.3,40.17 410.9,40.16 411.5,40.14 412.1,40.13 412.7,40.11 413.3,40.09 413.9,40.07 414.5,40.05 415.1,40.03 415.7,40 416.3,39.98 416.9,39.95 417.5,39.92 418.1,39.88 418.7,39.85 419.3,39.8 419.9,39.76 420.5,39.71 421.1,39.66 421.7,39.6 422.3,39.53 422.9,39.46 423.5,39.38 424.1,39.29 424.7,39.18 425.3,39.07 425.9,38.95 426.5,38.81 427.1,38.66 427.7,38.49 428.3,38.3 428.9,38.09 429.5,37.86 430.1,37.61 430.7,37.33 431.3,37.03 431.9,36.7 432.5,36.34 433.1,35.96 433.7,35.54 434.3,35.1 434.9,34.62 435.5,34.12 436.1,33.59 436.7,33.03 437.3,32.46 437.9,31.86 438.5,31.24 439.1,30.61 439.7,29.97 440.3,29.32 440.9,28.67 441.5,28.03 442.1,27.4 442.7,26.79 443.3,26.2 443.9,25.64 444.5,25.12 445.1,24.65 445.7,24.22 446.3,23.84 446.9,23.52 447.5,23.27 448.1,23.07 448.7,22.95 449.3,22.91 449.9,22.94 450.5,23.05 451.1,23.22 451.7,23.44 452.3,23.71 452.9,24.03 453.5,24.37 454.1,24.74 454.7,25.13 455.3,25.53 455.9,25.93 456.5,26.32 457.1,26.71 457.7,27.08 458.3,27.43 458.9,27.76 459.5,28.07 460.1,28.35 460.7,28.61 461.3,28.84 461.9,29.04 462.5,29.22 463.1,29.38 463.7,29.51 464.3,29.62 464.9,29.71 465.5,29.79 466.1,29.85 466.7,29.9 467.3,29.94 467.9,29.97 468.5,30 469.1,30.02 469.7,30.05 470.3,30.07 470.9,30.09 471.5,30.11 472.1,30.13 472.7,30.16 473.3,30.19 473.9,30.22 474.5,30.25 475.1,30.28 475.7,30.32 476.3,30.36 476.9,30.4 477.5,30.45 478.1,30.5 478.7,30.56 479.3,30.61 479.9,30.68 480.5,30.74 481.1,30.81 481.7,30.88 482.3,30.96 482.9,31.04 483.5,31.12 484.1,31.21 484.7,31.3 485.3,31.39 485.9,31.49 486.5,31.59 487.1,31.69 487.7,31.79 488.3,31.9 488.9,32.01 489.5,32.12 490.1,32.23 490.7,32.35 491.3,32.47 491.9,32.59 492.5,32.71 493.1,32.83 493.7,32.96 494.3,33.08 494.9,33.21 495.5,33.33 496.1,33.46 496.7,33.59 497.3,33.72 497.9,33.85 498.5,33.98 499.1,34.11 499.7,34.24 500.3,34.37 500.9,34.5 501.5,34.62 502.1,34.75 502.7,34.88 503.3,35.01 503.9,35.13 504.5,35.26 505.1,35.38 505.7,35.51 506.3,35.63 506.9,35.75 507.5,35.87 508.1,35.99 508.7,36.1 509.3,36.22 509.9,36.33 510.5,36.44 511.1,36.55 511.7,36.66 512.3,36.77 512.9,36.87 513.5,36.97 514.1,37.07 514.7,37.17 515.3,37.27 515.9,37.36 516.5,37.46 517.1,37.55 517.7,37.64 518.3,37.72 518.9,37.81 519.5,37.89 520.1,37.97 520.7,38.04 521.3,38.12 521.9,38.19 522.5,38.27 523.1,38.33 523.7,38.4 524.3,38.47 524.9,38.53 525.5,38.59 526.1,38.65 526.7,38.71 527.3,38.77 527.9,38.82 528.5,38.87 529.1,38.92 529.7,38.97 530.3,39.02 530.9,39.06 531.5,39.1 532.1,39.15 532.7,39.19 533.3,39.23 533.9,39.26 534.5,39.3 535.1,39.33 535.7,39.37 536.3,39.4 536.9,39.43 537.5,39.46 538.1,39.48 538.7,39.51" fill="none" stroke="#f51d1d" stroke-width="2.4" stroke-linejoin="round" stroke-linecap="round" />
<polyline points="389.3,40.7 389.9,40.7 390.5,40.7 391.1,40.7 391.7,40.7 392.3,40.7 392.9,40.7 393.5,40.7 394.1,40.7 394.7,40.7 395.3,40.7 395.9,40.7 396.5,40.7 397.1,40.7 397.7,40.7 398.3,40.7 398.9,40.7 399.5,40.7 400.1,40.7 400.7,40.7 401.3,40.7 401.9,40.7 402.5,40.7 403.1,40.7 403.7,40.7 404.3,40.7 404.9,40.69 405.5,40.69 406.1,40.69 406.7,40.69 407.3,40.69 407.9,40.69 408.5,40.69 409.1,40.69 409.7,40.69 410.3,40.69 410.9,40.69 411.5,40.69 412.1,40.69 412.7,40.69 413.3,40.69 413.9,40.69 414.5,40.69 415.1,40.69 415.7,40.68 416.3,40.68 416.9,40.68 417.5,40.68 418.1,40.68 418.7,40.68 419.3,40.68 419.9,40.68 420.5,40.68 421.1,40.67 421.7,40.67 422.3,40.67 422.9,40.67 423.5,40.67 424.1,40.67 424.7,40.66 425.3,40.66 425.9,40.66 426.5,40.66 427.1,40.66 427.7,40.65 428.3,40.65 428.9,40.65 429.5,40.65 430.1,40.64 430.7,40.64 431.3,40.64 431.9,40.63 432.5,40.63 433.1,40.63 433.7,40.62 434.3,40.62 434.9,40.62 435.5,40.61 436.1,40.61 436.7,40.6 437.3,40.6 437.9,40.59 438.5,40.59 439.1,40.58 439.7,40.58 440.3,40.57 440.9,40.57 441.5,40.56 442.1,40.56 442.7,40.55 443.3,40.55 443.9,40.54 444.5,40.53 445.1,40.53 445.7,40.52 446.3,40.52 446.9,40.51 447.5,40.5 448.1,40.5 448.7,40.49 449.3,40.49 449.9,40.48 450.5,40.48 451.1,40.47 451.7,40.46 452.3,40.46 452.9,40.45 453.5,40.45 454.1,40.44 454.7,40.44 455.3,40.43 455.9,40.42 456.5,40.42 457.1,40.41 457.7,40.41 458.3,40.41 458.9,40.4 459.5,40.4 460.1,40.39 460.7,40.39 461.3,40.38 461.9,40.38 462.5,40.38 463.1,40.37 463.7,40.37 464.3,40.37 464.9,40.36 465.5,40.36 466.1,40.36 466.7,40.35 467.3,40.35 467.9,40.35 468.5,40.35 469.1,40.34 469.7,40.34 470.3,40.34 470.9,40.34 471.5,40.33 472.1,40.33 472.7,40.33 473.3,40.33 473.9,40.33 474.5,40.33 475.1,40.32 475.7,40.32 476.3,40.32 476.9,40.32 477.5,40.32 478.1,40.32 478.7,40.32 479.3,40.32 479.9,40.32 480.5,40.31 481.1,40.31 481.7,40.31 482.3,40.31 482.9,40.31 483.5,40.31 484.1,40.31 484.7,40.31 485.3,40.31 485.9,40.31 486.5,40.31 487.1,40.31 487.7,40.31 488.3,40.31 488.9,40.31 489.5,40.31 490.1,40.31 490.7,40.31 491.3,40.31 491.9,40.3 492.5,40.3 493.1,40.3 493.7,40.3 494.3,40.3 494.9,40.3 495.5,40.3 496.1,40.3 496.7,40.3 497.3,40.3 497.9,40.3 498.5,40.3 499.1,40.3 499.7,40.3 500.3,40.3 500.9,40.3 501.5,40.3 502.1,40.3 502.7,40.3 503.3,40.3 503.9,40.3 504.5,40.3 505.1,40.3 505.7,40.3 506.3,40.3 506.9,40.3 507.5,40.3 508.1,40.3 508.7,40.3 509.3,40.3 509.9,40.3 510.5,40.3 511.1,40.3 511.7,40.3 512.3,40.3 512.9,40.3 513.5,40.3 514.1,40.3 514.7,40.3 515.3,40.3 515.9,40.3 516.5,40.3 517.1,40.3 517.7,40.3 518.3,40.3 518.9,40.3 519.5,40.3 520.1,40.3 520.7,40.3 521.3,40.3 521.9,40.3 522.5,40.3 523.1,40.3 523.7,40.3 524.3,40.3 524.9,40.3 525.5,40.3 526.1,40.3 526.7,40.3 527.3,40.3 527.9,40.3 528.5,40.3 529.1,40.3 529.7,40.3 530.3,40.3 530.9,40.3 531.5,40.3 532.1,40.3 532.7,40.3 533.3,40.3 533.9,40.3 534.5,40.3 535.1,40.3 535.7,40.3 536.3,40.3 536.9,40.3 537.5,40.3 538.1,40.3 538.7,40.3" fill="none" stroke="#3cc43c" stroke-width="1.5" stroke-linejoin="round" stroke-linecap="round" />
<polyline points="389.3,40.4 389.9,40.4 390.5,40.4 391.1,40.4 391.7,40.39 392.3,40.39 392.9,40.39 393.5,40.39 394.1,40.39 394.7,40.39 395.3,40.39 395.9,40.39 396.5,40.39 397.1,40.39 397.7,40.38 398.3,40.38 398.9,40.38 399.5,40.38 400.1,40.38 400.7,40.38 401.3,40.37 401.9,40.37 402.5,40.37 403.1,40.36 403.7,40.36 404.3,40.36 404.9,40.35 405.5,40.35 406.1,40.34 406.7,40.34 407.3,40.33 407.9,40.32 408.5,40.32 409.1,40.31 409.7,40.3 410.3,40.29 410.9,40.28 411.5,40.27 412.1,40.26 412.7,40.25 413.3,40.24 413.9,40.22 414.5,40.21 415.1,40.19 415.7,40.17 416.3,40.15 416.9,40.13 417.5,40.11 418.1,40.09 418.7,40.07 419.3,40.04 419.9,40.01 420.5,39.98 421.1,39.95 421.7,39.92 422.3,39.88 422.9,39.84 423.5,39.8 424.1,39.76 424.7,39.71 425.3,39.67 425.9,39.62 426.5,39.56 427.1,39.51 427.7,39.45 428.3,39.39 428.9,39.32 429.5,39.25 430.1,39.18 430.7,39.11 431.3,39.03 431.9,38.95 432.5,38.86 433.1,38.77 433.7,38.68 434.3,38.58 434.9,38.48 435.5,38.38 436.1,38.27 436.7,38.16 437.3,38.04 437.9,37.92 438.5,37.8 439.1,37.67 439.7,37.54 440.3,37.41 440.9,37.27 441.5,37.13 442.1,36.98 442.7,36.84 443.3,36.68 443.9,36.53 444.5,36.37 445.1,36.21 445.7,36.05 446.3,35.88 446.9,35.71 447.5,35.54 448.1,35.37 448.7,35.2 449.3,35.02 449.9,34.85 450.5,34.67 451.1,34.49 451.7,34.32 452.3,34.14 452.9,33.96 453.5,33.79 454.1,33.61 454.7,33.44 455.3,33.27 455.9,33.1 456.5,32.93 457.1,32.77 457.7,32.6 458.3,32.45 458.9,32.29 459.5,32.14 460.1,32 460.7,31.86 461.3,31.72 461.9,31.59 462.5,31.46 463.1,31.35 463.7,31.23 464.3,31.13 464.9,31.03 465.5,30.94 466.1,30.85 466.7,30.77 467.3,30.7 467.9,30.64 468.5,30.59 469.1,30.54 469.7,30.5 470.3,30.47 470.9,30.45 471.5,30.44 472.1,30.43 472.7,30.43 473.3,30.44 473.9,30.45 474.5,30.47 475.1,30.49 475.7,30.51 476.3,30.54 476.9,30.58 477.5,30.61 478.1,30.66 478.7,30.71 479.3,30.76 479.9,30.81 480.5,30.87 481.1,30.94 481.7,31.01 482.3,31.08 482.9,31.15 483.5,31.23 484.1,31.32 484.7,31.4 485.3,31.49 485.9,31.59 486.5,31.68 487.1,31.78 487.7,31.88 488.3,31.99 488.9,32.09 489.5,32.2 490.1,32.32 490.7,32.43 491.3,32.54 491.9,32.66 492.5,32.78 493.1,32.9 493.7,33.02 494.3,33.15 494.9,33.27 495.5,33.4 496.1,33.52 496.7,33.65 497.3,33.78 497.9,33.91 498.5,34.03 499.1,34.16 499.7,34.29 500.3,34.42 500.9,34.55 501.5,34.68 502.1,34.8 502.7,34.93 503.3,35.06 503.9,35.18 504.5,35.31 505.1,35.43 505.7,35.55 506.3,35.67 506.9,35.79 507.5,35.91 508.1,36.03 508.7,36.14 509.3,36.26 509.9,36.37 510.5,36.48 511.1,36.59 511.7,36.7 512.3,36.8 512.9,36.91 513.5,37.01 514.1,37.11 514.7,37.21 515.3,37.3 515.9,37.4 516.5,37.49 517.1,37.58 517.7,37.67 518.3,37.75 518.9,37.83 519.5,37.92 520.1,38 520.7,38.07 521.3,38.15 521.9,38.22 522.5,38.29 523.1,38.36 523.7,38.43 524.3,38.49 524.9,38.56 525.5,38.62 526.1,38.68 526.7,38.73 527.3,38.79 527.9,38.84 528.5,38.89 529.1,38.94 529.7,38.99 530.3,39.04 530.9,39.08 531.5,39.13 532.1,39.17 532.7,39.21 533.3,39.25 533.9,39.28 534.5,39.32 535.1,39.35 535.7,39.38 536.3,39.42 536.9,39.45 537.5,39.47 538.1,39.5 538.7,39.53" fill="none" stroke="#179a3a" stroke-width="2.7" stroke-linejoin="round" stroke-linecap="round" />
<polyline points="389.3,40.35 389.9,40.35 390.5,40.34 391.1,40.34 391.7,40.34 392.3,40.34 392.9,40.34 393.5,40.34 394.1,40.34 394.7,40.34 395.3,40.33 395.9,40.33 396.5,40.33 397.1,40.33 397.7,40.33 398.3,40.33 398.9,40.32 399.5,40.32 400.1,40.32 400.7,40.32 401.3,40.32 401.9,40.31 402.5,40.31 403.1,40.31 403.7,40.31 404.3,40.3 404.9,40.3 405.5,40.3 406.1,40.29 406.7,40.29 407.3,40.29 407.9,40.28 408.5,40.28 409.1,40.28 409.7,40.27 410.3,40.27 410.9,40.26 411.5,40.26 412.1,40.26 412.7,40.25 413.3,40.24 413.9,40.24 414.5,40.23 415.1,40.22 415.7,40.22 416.3,40.21 416.9,40.2 417.5,40.19 418.1,40.17 418.7,40.16 419.3,40.14 419.9,40.13 420.5,40.11 421.1,40.08 421.7,40.05 422.3,40.02 422.9,39.98 423.5,39.94 424.1,39.89 424.7,39.83 425.3,39.77 425.9,39.69 426.5,39.61 427.1,39.51 427.7,39.39 428.3,39.26 428.9,39.12 429.5,38.95 430.1,38.77 430.7,38.56 431.3,38.34 431.9,38.09 432.5,37.81 433.1,37.51 433.7,37.18 434.3,36.83 434.9,36.45 435.5,36.05 436.1,35.63 436.7,35.18 437.3,34.71 437.9,34.22 438.5,33.73 439.1,33.22 439.7,32.7 440.3,32.18 440.9,31.67 441.5,31.16 442.1,30.68 442.7,30.21 443.3,29.76 443.9,29.36 444.5,28.99 445.1,28.66 445.7,28.39 446.3,28.18 446.9,28.02 447.5,27.93 448.1,27.9 448.7,27.95 449.3,28.07 449.9,28.28 450.5,28.55 451.1,28.89 451.7,29.29 452.3,29.73 452.9,30.22 453.5,30.73 454.1,31.27 454.7,31.83 455.3,32.39 455.9,32.95 456.5,33.51 457.1,34.06 457.7,34.58 458.3,35.09 458.9,35.57 459.5,36.02 460.1,36.45 460.7,36.84 461.3,37.2 461.9,37.53 462.5,37.83 463.1,38.1 463.7,38.34 464.3,38.56 464.9,38.75 465.5,38.91 466.1,39.06 466.7,39.18 467.3,39.29 467.9,39.38 468.5,39.46 469.1,39.53 469.7,39.58 470.3,39.63 470.9,39.67 471.5,39.71 472.1,39.73 472.7,39.76 473.3,39.78 473.9,39.8 474.5,39.81 475.1,39.82 475.7,39.83 476.3,39.84 476.9,39.85 477.5,39.86 478.1,39.86 478.7,39.87 479.3,39.87 479.9,39.88 480.5,39.88 481.1,39.89 481.7,39.89 482.3,39.89 482.9,39.9 483.5,39.9 484.1,39.9 484.7,39.91 485.3,39.91 485.9,39.91 486.5,39.91 487.1,39.92 487.7,39.92 488.3,39.92 488.9,39.92 489.5,39.92 490.1,39.93 490.7,39.93 491.3,39.93 491.9,39.93 492.5,39.93 493.1,39.93 493.7,39.94 494.3,39.94 494.9,39.94 495.5,39.94 496.1,39.94 496.7,39.94 497.3,39.94 497.9,39.94 498.5,39.95 499.1,39.95 499.7,39.95 500.3,39.95 500.9,39.95 501.5,39.95 502.1,39.95 502.7,39.95 503.3,39.95 503.9,39.95 504.5,39.96 505.1,39.96 505.7,39.96 506.3,39.96 506.9,39.96 507.5,39.96 508.1,39.96 508.7,39.96 509.3,39.96 509.9,39.96 510.5,39.96 511.1,39.96 511.7,39.96 512.3,39.97 512.9,39.97 513.5,39.97 514.1,39.97 514.7,39.97 515.3,39.97 515.9,39.97 516.5,39.97 517.1,39.97 517.7,39.97 518.3,39.97 518.9,39.97 519.5,39.97 520.1,39.97 520.7,39.97 521.3,39.97 521.9,39.97 522.5,39.97 523.1,39.97 523.7,39.97 524.3,39.97 524.9,39.98 525.5,39.98 526.1,39.98 526.7,39.98 527.3,39.98 527.9,39.98 528.5,39.98 529.1,39.98 529.7,39.98 530.3,39.98 530.9,39.98 531.5,39.98 532.1,39.98 532.7,39.98 533.3,39.98 533.9,39.98 534.5,39.98 535.1,39.98 535.7,39.98 536.3,39.98 536.9,39.98 537.5,39.98 538.1,39.98 538.7,39.98" fill="none" stroke="#24c6e0" stroke-width="2.5" stroke-linejoin="round" stroke-linecap="round" />
<g fill="#333"><circle cx="389.3" cy="40.26" r="0.4"/><circle cx="391.1" cy="40.47" r="0.4"/><circle cx="392.9" cy="40.71" r="0.4"/><circle cx="394.7" cy="40.13" r="0.4"/><circle cx="396.5" cy="40.62" r="0.4"/><circle cx="398.3" cy="39.78" r="0.4"/><circle cx="400.1" cy="40.08" r="0.4"/><circle cx="401.9" cy="39.67" r="0.4"/><circle cx="403.7" cy="40.95" r="0.4"/><circle cx="405.5" cy="40.23" r="0.4"/><circle cx="407.3" cy="39.78" r="0.4"/><circle cx="409.1" cy="39.98" r="0.4"/><circle cx="410.9" cy="40.02" r="0.4"/><circle cx="412.7" cy="40.53" r="0.4"/><circle cx="414.5" cy="39.09" r="0.4"/><circle cx="416.3" cy="39.36" r="0.4"/><circle cx="418.1" cy="39.66" r="0.4"/><circle cx="419.9" cy="41.28" r="0.4"/><circle cx="421.7" cy="40.17" r="0.4"/><circle cx="423.5" cy="39.31" r="0.4"/><circle cx="425.3" cy="39.5" r="0.4"/><circle cx="427.1" cy="39.89" r="0.4"/><circle cx="428.9" cy="37.95" r="0.4"/><circle cx="430.7" cy="37.11" r="0.4"/><circle cx="432.5" cy="37.07" r="0.4"/><circle cx="434.3" cy="35.39" r="0.4"/><circle cx="436.1" cy="33.99" r="0.4"/><circle cx="437.9" cy="31.55" r="0.4"/><circle cx="439.7" cy="31.12" r="0.4"/><circle cx="441.5" cy="29.06" r="0.4"/><circle cx="443.3" cy="26.54" r="0.4"/><circle cx="445.1" cy="25.06" r="0.4"/><circle cx="446.9" cy="22.31" r="0.4"/><circle cx="448.7" cy="23.34" r="0.4"/><circle cx="450.5" cy="22.93" r="0.4"/><circle cx="452.3" cy="23.97" r="0.4"/><circle cx="454.1" cy="25.15" r="0.4"/><circle cx="455.9" cy="25.72" r="0.4"/><circle cx="457.7" cy="26.06" r="0.4"/><circle cx="459.5" cy="28.29" r="0.4"/><circle cx="461.3" cy="28.39" r="0.4"/><circle cx="463.1" cy="29.18" r="0.4"/><circle cx="464.9" cy="29.35" r="0.4"/><circle cx="466.7" cy="29.7" r="0.4"/><circle cx="468.5" cy="28.62" r="0.4"/><circle cx="470.3" cy="30.8" r="0.4"/><circle cx="472.1" cy="30.29" r="0.4"/><circle cx="473.9" cy="30.89" r="0.4"/><circle cx="475.7" cy="31.51" r="0.4"/><circle cx="477.5" cy="30.46" r="0.4"/><circle cx="479.3" cy="29.53" r="0.4"/><circle cx="481.1" cy="30.27" r="0.4"/><circle cx="482.9" cy="30.31" r="0.4"/><circle cx="484.7" cy="31" r="0.4"/><circle cx="486.5" cy="31.63" r="0.4"/><circle cx="488.3" cy="30.7" r="0.4"/><circle cx="490.1" cy="32.44" r="0.4"/><circle cx="491.9" cy="31.68" r="0.4"/><circle cx="493.7" cy="33.13" r="0.4"/><circle cx="495.5" cy="33.27" r="0.4"/><circle cx="497.3" cy="33.53" r="0.4"/><circle cx="499.1" cy="34.06" r="0.4"/><circle cx="500.9" cy="34.17" r="0.4"/><circle cx="502.7" cy="34.51" r="0.4"/><circle cx="504.5" cy="34.25" r="0.4"/><circle cx="506.3" cy="35.61" r="0.4"/><circle cx="508.1" cy="37.09" r="0.4"/><circle cx="509.9" cy="37.52" r="0.4"/><circle cx="511.7" cy="37.45" r="0.4"/><circle cx="513.5" cy="37.4" r="0.4"/><circle cx="515.3" cy="36.86" r="0.4"/><circle cx="517.1" cy="38.41" r="0.4"/><circle cx="518.9" cy="37.77" r="0.4"/><circle cx="520.7" cy="38" r="0.4"/><circle cx="522.5" cy="38.09" r="0.4"/><circle cx="524.3" cy="38.52" r="0.4"/><circle cx="526.1" cy="38.39" r="0.4"/><circle cx="527.9" cy="38.77" r="0.4"/><circle cx="529.7" cy="38.32" r="0.4"/><circle cx="531.5" cy="38.88" r="0.4"/><circle cx="533.3" cy="40.59" r="0.4"/><circle cx="535.1" cy="39.29" r="0.4"/><circle cx="536.9" cy="39.28" r="0.4"/><circle cx="538.7" cy="39.83" r="0.4"/></g>
<polyline points="389.3,62.82 389.9,62.81 390.5,62.81 391.1,62.81 391.7,62.81 392.3,62.8 392.9,62.8 393.5,62.8 394.1,62.79 394.7,62.79 395.3,62.79 395.9,62.78 396.5,62.78 397.1,62.77 397.7,62.77 398.3,62.76 398.9,62.76 399.5,62.75 400.1,62.74 400.7,62.74 401.3,62.73 401.9,62.72 402.5,62.71 403.1,62.7 403.7,62.69 404.3,62.68 404.9,62.67 405.5,62.65 406.1,62.64 406.7,62.62 407.3,62.61 407.9,62.59 408.5,62.57 409.1,62.54 409.7,62.52 410.3,62.49 410.9,62.45 411.5,62.41 412.1,62.37 412.7,62.32 413.3,62.26 413.9,62.2 414.5,62.12 415.1,62.04 415.7,61.94 416.3,61.83 416.9,61.7 417.5,61.55 418.1,61.38 418.7,61.18 419.3,60.96 419.9,60.71 420.5,60.43 421.1,60.12 421.7,59.77 422.3,59.38 422.9,58.96 423.5,58.49 424.1,57.98 424.7,57.44 425.3,56.85 425.9,56.22 426.5,55.56 427.1,54.87 427.7,54.15 428.3,53.41 428.9,52.64 429.5,51.87 430.1,51.1 430.7,50.34 431.3,49.59 431.9,48.87 432.5,48.18 433.1,47.54 433.7,46.96 434.3,46.44 434.9,45.99 435.5,45.63 436.1,45.35 436.7,45.17 437.3,45.06 437.9,45.04 438.5,45.09 439.1,45.22 439.7,45.41 440.3,45.66 440.9,45.96 441.5,46.3 442.1,46.68 442.7,47.09 443.3,47.51 443.9,47.94 444.5,48.38 445.1,48.81 445.7,49.23 446.3,49.64 446.9,50.03 447.5,50.39 448.1,50.73 448.7,51.04 449.3,51.32 449.9,51.57 450.5,51.78 451.1,51.97 451.7,52.12 452.3,52.25 452.9,52.35 453.5,52.43 454.1,52.48 454.7,52.51 455.3,52.52 455.9,52.52 456.5,52.5 457.1,52.48 457.7,52.44 458.3,52.4 458.9,52.35 459.5,52.31 460.1,52.26 460.7,52.21 461.3,52.16 461.9,52.12 462.5,52.08 463.1,52.05 463.7,52.03 464.3,52.01 464.9,52 465.5,52 466.1,52.01 466.7,52.02 467.3,52.04 467.9,52.06 468.5,52.09 469.1,52.12 469.7,52.16 470.3,52.2 470.9,52.25 471.5,52.3 472.1,52.36 472.7,52.42 473.3,52.49 473.9,52.56 474.5,52.63 475.1,52.72 475.7,52.8 476.3,52.89 476.9,52.99 477.5,53.08 478.1,53.19 478.7,53.29 479.3,53.4 479.9,53.52 480.5,53.63 481.1,53.75 481.7,53.88 482.3,54 482.9,54.13 483.5,54.26 484.1,54.4 484.7,54.53 485.3,54.67 485.9,54.81 486.5,54.95 487.1,55.09 487.7,55.23 488.3,55.38 488.9,55.52 489.5,55.67 490.1,55.81 490.7,55.96 491.3,56.11 491.9,56.26 492.5,56.4 493.1,56.55 493.7,56.69 494.3,56.84 494.9,56.98 495.5,57.13 496.1,57.27 496.7,57.41 497.3,57.55 497.9,57.69 498.5,57.83 499.1,57.97 499.7,58.1 500.3,58.23 500.9,58.36 501.5,58.49 502.1,58.62 502.7,58.74 503.3,58.86 503.9,58.98 504.5,59.1 505.1,59.22 505.7,59.33 506.3,59.44 506.9,59.55 507.5,59.65 508.1,59.76 508.7,59.86 509.3,59.96 509.9,60.05 510.5,60.15 511.1,60.24 511.7,60.32 512.3,60.41 512.9,60.49 513.5,60.57 514.1,60.65 514.7,60.73 515.3,60.8 515.9,60.87 516.5,60.94 517.1,61.01 517.7,61.07 518.3,61.13 518.9,61.19 519.5,61.25 520.1,61.3 520.7,61.35 521.3,61.41 521.9,61.45 522.5,61.5 523.1,61.55 523.7,61.59 524.3,61.63 524.9,61.67 525.5,61.71 526.1,61.74 526.7,61.78 527.3,61.81 527.9,61.84 528.5,61.87 529.1,61.9 529.7,61.93 530.3,61.96 530.9,61.98 531.5,62 532.1,62.03 532.7,62.05 533.3,62.07 533.9,62.09 534.5,62.1 535.1,62.12 535.7,62.14 536.3,62.15 536.9,62.17 537.5,62.18 538.1,62.19 538.7,62.21" fill="none" stroke="#f51d1d" stroke-width="2.4" stroke-linejoin="round" stroke-linecap="round" />
<polyline points="389.3,63.2 389.9,63.2 390.5,63.2 391.1,63.19 391.7,63.19 392.3,63.19 392.9,63.19 393.5,63.19 394.1,63.19 394.7,63.19 395.3,63.19 395.9,63.19 396.5,63.19 397.1,63.19 397.7,63.19 398.3,63.19 398.9,63.19 399.5,63.19 400.1,63.19 400.7,63.19 401.3,63.19 401.9,63.18 402.5,63.18 403.1,63.18 403.7,63.18 404.3,63.18 404.9,63.18 405.5,63.18 406.1,63.18 406.7,63.18 407.3,63.17 407.9,63.17 408.5,63.17 409.1,63.17 409.7,63.17 410.3,63.17 410.9,63.16 411.5,63.16 412.1,63.16 412.7,63.16 413.3,63.16 413.9,63.15 414.5,63.15 415.1,63.15 415.7,63.14 416.3,63.14 416.9,63.14 417.5,63.14 418.1,63.13 418.7,63.13 419.3,63.12 419.9,63.12 420.5,63.12 421.1,63.11 421.7,63.11 422.3,63.1 422.9,63.1 423.5,63.09 424.1,63.09 424.7,63.08 425.3,63.08 425.9,63.07 426.5,63.07 427.1,63.06 427.7,63.05 428.3,63.05 428.9,63.04 429.5,63.04 430.1,63.03 430.7,63.02 431.3,63.01 431.9,63.01 432.5,63 433.1,62.99 433.7,62.99 434.3,62.98 434.9,62.97 435.5,62.96 436.1,62.96 436.7,62.95 437.3,62.94 437.9,62.93 438.5,62.93 439.1,62.92 439.7,62.91 440.3,62.9 440.9,62.9 441.5,62.89 442.1,62.88 442.7,62.88 443.3,62.87 443.9,62.86 444.5,62.86 445.1,62.85 445.7,62.84 446.3,62.84 446.9,62.83 447.5,62.83 448.1,62.82 448.7,62.81 449.3,62.81 449.9,62.8 450.5,62.8 451.1,62.8 451.7,62.79 452.3,62.79 452.9,62.78 453.5,62.78 454.1,62.77 454.7,62.77 455.3,62.77 455.9,62.76 456.5,62.76 457.1,62.76 457.7,62.75 458.3,62.75 458.9,62.75 459.5,62.75 460.1,62.74 460.7,62.74 461.3,62.74 461.9,62.74 462.5,62.73 463.1,62.73 463.7,62.73 464.3,62.73 464.9,62.73 465.5,62.73 466.1,62.72 466.7,62.72 467.3,62.72 467.9,62.72 468.5,62.72 469.1,62.72 469.7,62.72 470.3,62.72 470.9,62.72 471.5,62.71 472.1,62.71 472.7,62.71 473.3,62.71 473.9,62.71 474.5,62.71 475.1,62.71 475.7,62.71 476.3,62.71 476.9,62.71 477.5,62.71 478.1,62.71 478.7,62.71 479.3,62.71 479.9,62.71 480.5,62.71 481.1,62.71 481.7,62.71 482.3,62.71 482.9,62.7 483.5,62.7 484.1,62.7 484.7,62.7 485.3,62.7 485.9,62.7 486.5,62.7 487.1,62.7 487.7,62.7 488.3,62.7 488.9,62.7 489.5,62.7 490.1,62.7 490.7,62.7 491.3,62.7 491.9,62.7 492.5,62.7 493.1,62.7 493.7,62.7 494.3,62.7 494.9,62.7 495.5,62.7 496.1,62.7 496.7,62.7 497.3,62.7 497.9,62.7 498.5,62.7 499.1,62.7 499.7,62.7 500.3,62.7 500.9,62.7 501.5,62.7 502.1,62.7 502.7,62.7 503.3,62.7 503.9,62.7 504.5,62.7 505.1,62.7 505.7,62.7 506.3,62.7 506.9,62.7 507.5,62.7 508.1,62.7 508.7,62.7 509.3,62.7 509.9,62.7 510.5,62.7 511.1,62.7 511.7,62.7 512.3,62.7 512.9,62.7 513.5,62.7 514.1,62.7 514.7,62.7 515.3,62.7 515.9,62.7 516.5,62.7 517.1,62.7 517.7,62.7 518.3,62.7 518.9,62.7 519.5,62.7 520.1,62.7 520.7,62.7 521.3,62.7 521.9,62.7 522.5,62.7 523.1,62.7 523.7,62.7 524.3,62.7 524.9,62.7 525.5,62.7 526.1,62.7 526.7,62.7 527.3,62.7 527.9,62.7 528.5,62.7 529.1,62.7 529.7,62.7 530.3,62.7 530.9,62.7 531.5,62.7 532.1,62.7 532.7,62.7 533.3,62.7 533.9,62.7 534.5,62.7 535.1,62.7 535.7,62.7 536.3,62.7 536.9,62.7 537.5,62.7 538.1,62.7 538.7,62.7" fill="none" stroke="#3cc43c" stroke-width="1.5" stroke-linejoin="round" stroke-linecap="round" />
<polyline points="389.3,62.89 389.9,62.89 390.5,62.89 391.1,62.89 391.7,62.89 392.3,62.89 392.9,62.89 393.5,62.89 394.1,62.89 394.7,62.89 395.3,62.88 395.9,62.88 396.5,62.88 397.1,62.88 397.7,62.88 398.3,62.87 398.9,62.87 399.5,62.87 400.1,62.87 400.7,62.86 401.3,62.86 401.9,62.86 402.5,62.85 403.1,62.85 403.7,62.84 404.3,62.84 404.9,62.83 405.5,62.82 406.1,62.82 406.7,62.81 407.3,62.8 407.9,62.79 408.5,62.78 409.1,62.77 409.7,62.76 410.3,62.75 410.9,62.73 411.5,62.72 412.1,62.7 412.7,62.68 413.3,62.66 413.9,62.64 414.5,62.62 415.1,62.6 415.7,62.57 416.3,62.55 416.9,62.52 417.5,62.48 418.1,62.45 418.7,62.41 419.3,62.38 419.9,62.33 420.5,62.29 421.1,62.24 421.7,62.19 422.3,62.14 422.9,62.09 423.5,62.03 424.1,61.96 424.7,61.9 425.3,61.83 425.9,61.75 426.5,61.67 427.1,61.59 427.7,61.51 428.3,61.42 428.9,61.32 429.5,61.22 430.1,61.12 430.7,61.01 431.3,60.9 431.9,60.78 432.5,60.66 433.1,60.53 433.7,60.4 434.3,60.26 434.9,60.12 435.5,59.97 436.1,59.82 436.7,59.67 437.3,59.51 437.9,59.34 438.5,59.17 439.1,59 439.7,58.82 440.3,58.64 440.9,58.46 441.5,58.27 442.1,58.08 442.7,57.89 443.3,57.69 443.9,57.49 444.5,57.29 445.1,57.09 445.7,56.89 446.3,56.69 446.9,56.48 447.5,56.28 448.1,56.07 448.7,55.87 449.3,55.67 449.9,55.47 450.5,55.27 451.1,55.07 451.7,54.88 452.3,54.69 452.9,54.5 453.5,54.32 454.1,54.15 454.7,53.97 455.3,53.81 455.9,53.65 456.5,53.5 457.1,53.35 457.7,53.21 458.3,53.08 458.9,52.96 459.5,52.84 460.1,52.74 460.7,52.64 461.3,52.56 461.9,52.48 462.5,52.41 463.1,52.36 463.7,52.31 464.3,52.27 464.9,52.25 465.5,52.23 466.1,52.22 466.7,52.23 467.3,52.24 467.9,52.25 468.5,52.27 469.1,52.29 469.7,52.32 470.3,52.36 470.9,52.4 471.5,52.45 472.1,52.5 472.7,52.56 473.3,52.62 473.9,52.69 474.5,52.76 475.1,52.84 475.7,52.92 476.3,53.01 476.9,53.1 477.5,53.2 478.1,53.3 478.7,53.4 479.3,53.51 479.9,53.62 480.5,53.73 481.1,53.85 481.7,53.97 482.3,54.09 482.9,54.22 483.5,54.35 484.1,54.48 484.7,54.61 485.3,54.75 485.9,54.88 486.5,55.02 487.1,55.16 487.7,55.31 488.3,55.45 488.9,55.59 489.5,55.74 490.1,55.88 490.7,56.03 491.3,56.17 491.9,56.32 492.5,56.46 493.1,56.61 493.7,56.75 494.3,56.9 494.9,57.04 495.5,57.18 496.1,57.32 496.7,57.47 497.3,57.6 497.9,57.74 498.5,57.88 499.1,58.01 499.7,58.15 500.3,58.28 500.9,58.41 501.5,58.54 502.1,58.66 502.7,58.79 503.3,58.91 503.9,59.03 504.5,59.14 505.1,59.26 505.7,59.37 506.3,59.48 506.9,59.59 507.5,59.69 508.1,59.8 508.7,59.9 509.3,59.99 509.9,60.09 510.5,60.18 511.1,60.27 511.7,60.36 512.3,60.44 512.9,60.53 513.5,60.61 514.1,60.68 514.7,60.76 515.3,60.83 515.9,60.9 516.5,60.97 517.1,61.03 517.7,61.1 518.3,61.16 518.9,61.22 519.5,61.27 520.1,61.33 520.7,61.38 521.3,61.43 521.9,61.48 522.5,61.53 523.1,61.57 523.7,61.61 524.3,61.66 524.9,61.7 525.5,61.73 526.1,61.77 526.7,61.8 527.3,61.84 527.9,61.87 528.5,61.9 529.1,61.92 529.7,61.95 530.3,61.98 530.9,62 531.5,62.03 532.1,62.05 532.7,62.07 533.3,62.09 533.9,62.11 534.5,62.13 535.1,62.14 535.7,62.16 536.3,62.17 536.9,62.19 537.5,62.2 538.1,62.21 538.7,62.23" fill="none" stroke="#179a3a" stroke-width="2.7" stroke-linejoin="round" stroke-linecap="round" />
<polyline points="389.3,62.82 389.9,62.82 390.5,62.82 391.1,62.81 391.7,62.81 392.3,62.81 392.9,62.81 393.5,62.8 394.1,62.8 394.7,62.8 395.3,62.79 395.9,62.79 396.5,62.79 397.1,62.78 397.7,62.78 398.3,62.78 398.9,62.77 399.5,62.77 400.1,62.76 400.7,62.76 401.3,62.75 401.9,62.75 402.5,62.74 403.1,62.74 403.7,62.73 404.3,62.72 404.9,62.72 405.5,62.71 406.1,62.7 406.7,62.69 407.3,62.68 407.9,62.67 408.5,62.65 409.1,62.64 409.7,62.62 410.3,62.61 410.9,62.58 411.5,62.56 412.1,62.53 412.7,62.5 413.3,62.45 413.9,62.41 414.5,62.35 415.1,62.29 415.7,62.21 416.3,62.12 416.9,62.02 417.5,61.9 418.1,61.76 418.7,61.6 419.3,61.41 419.9,61.2 420.5,60.96 421.1,60.69 421.7,60.38 422.3,60.04 422.9,59.67 423.5,59.26 424.1,58.81 424.7,58.32 425.3,57.8 425.9,57.24 426.5,56.66 427.1,56.04 427.7,55.4 428.3,54.74 428.9,54.07 429.5,53.39 430.1,52.71 430.7,52.05 431.3,51.41 431.9,50.8 432.5,50.23 433.1,49.71 433.7,49.25 434.3,48.86 434.9,48.55 435.5,48.32 436.1,48.19 436.7,48.15 437.3,48.2 437.9,48.33 438.5,48.55 439.1,48.84 439.7,49.2 440.3,49.62 440.9,50.1 441.5,50.62 442.1,51.18 442.7,51.77 443.3,52.39 443.9,53.01 444.5,53.64 445.1,54.27 445.7,54.88 446.3,55.49 446.9,56.08 447.5,56.64 448.1,57.17 448.7,57.68 449.3,58.16 449.9,58.6 450.5,59.01 451.1,59.39 451.7,59.73 452.3,60.05 452.9,60.33 453.5,60.58 454.1,60.81 454.7,61.01 455.3,61.18 455.9,61.33 456.5,61.47 457.1,61.58 457.7,61.68 458.3,61.77 458.9,61.84 459.5,61.91 460.1,61.96 460.7,62.01 461.3,62.04 461.9,62.08 462.5,62.11 463.1,62.13 463.7,62.15 464.3,62.17 464.9,62.18 465.5,62.19 466.1,62.21 466.7,62.21 467.3,62.22 467.9,62.23 468.5,62.24 469.1,62.24 469.7,62.25 470.3,62.25 470.9,62.26 471.5,62.26 472.1,62.27 472.7,62.27 473.3,62.28 473.9,62.28 474.5,62.28 475.1,62.29 475.7,62.29 476.3,62.29 476.9,62.29 477.5,62.3 478.1,62.3 478.7,62.3 479.3,62.3 479.9,62.31 480.5,62.31 481.1,62.31 481.7,62.31 482.3,62.32 482.9,62.32 483.5,62.32 484.1,62.32 484.7,62.32 485.3,62.32 485.9,62.33 486.5,62.33 487.1,62.33 487.7,62.33 488.3,62.33 488.9,62.33 489.5,62.33 490.1,62.34 490.7,62.34 491.3,62.34 491.9,62.34 492.5,62.34 493.1,62.34 493.7,62.34 494.3,62.34 494.9,62.35 495.5,62.35 496.1,62.35 496.7,62.35 497.3,62.35 497.9,62.35 498.5,62.35 499.1,62.35 499.7,62.35 500.3,62.35 500.9,62.35 501.5,62.36 502.1,62.36 502.7,62.36 503.3,62.36 503.9,62.36 504.5,62.36 505.1,62.36 505.7,62.36 506.3,62.36 506.9,62.36 507.5,62.36 508.1,62.36 508.7,62.36 509.3,62.36 509.9,62.36 510.5,62.36 511.1,62.37 511.7,62.37 512.3,62.37 512.9,62.37 513.5,62.37 514.1,62.37 514.7,62.37 515.3,62.37 515.9,62.37 516.5,62.37 517.1,62.37 517.7,62.37 518.3,62.37 518.9,62.37 519.5,62.37 520.1,62.37 520.7,62.37 521.3,62.37 521.9,62.37 522.5,62.37 523.1,62.37 523.7,62.37 524.3,62.37 524.9,62.38 525.5,62.38 526.1,62.38 526.7,62.38 527.3,62.38 527.9,62.38 528.5,62.38 529.1,62.38 529.7,62.38 530.3,62.38 530.9,62.38 531.5,62.38 532.1,62.38 532.7,62.38 533.3,62.38 533.9,62.38 534.5,62.38 535.1,62.38 535.7,62.38 536.3,62.38 536.9,62.38 537.5,62.38 538.1,62.38 538.7,62.38" fill="none" stroke="#24c6e0" stroke-width="2.5" stroke-linejoin="round" stroke-linecap="round" />
<g fill="#333"><circle cx="389.3" cy="63.24" r="0.4"/><circle cx="391.1" cy="62.14" r="0.4"/><circle cx="392.9" cy="62.68" r="0.4"/><circle cx="394.7" cy="63.34" r="0.4"/><circle cx="396.5" cy="62.94" r="0.4"/><circle cx="398.3" cy="62.83" r="0.4"/><circle cx="400.1" cy="63.67" r="0.4"/><circle cx="401.9" cy="62.31" r="0.4"/><circle cx="403.7" cy="62.74" r="0.4"/><circle cx="405.5" cy="62.34" r="0.4"/><circle cx="407.3" cy="63.5" r="0.4"/><circle cx="409.1" cy="61.37" r="0.4"/><circle cx="410.9" cy="62.05" r="0.4"/><circle cx="412.7" cy="62" r="0.4"/><circle cx="414.5" cy="62.52" r="0.4"/><circle cx="416.3" cy="62.19" r="0.4"/><circle cx="418.1" cy="62.21" r="0.4"/><circle cx="419.9" cy="59.77" r="0.4"/><circle cx="421.7" cy="60.22" r="0.4"/><circle cx="423.5" cy="58.31" r="0.4"/><circle cx="425.3" cy="56.45" r="0.4"/><circle cx="427.1" cy="55.19" r="0.4"/><circle cx="428.9" cy="52.09" r="0.4"/><circle cx="430.7" cy="49.09" r="0.4"/><circle cx="432.5" cy="47.96" r="0.4"/><circle cx="434.3" cy="45.54" r="0.4"/><circle cx="436.1" cy="44.96" r="0.4"/><circle cx="437.9" cy="45.26" r="0.4"/><circle cx="439.7" cy="45.6" r="0.4"/><circle cx="441.5" cy="47.26" r="0.4"/><circle cx="443.3" cy="47.39" r="0.4"/><circle cx="445.1" cy="47.89" r="0.4"/><circle cx="446.9" cy="49.57" r="0.4"/><circle cx="448.7" cy="50.49" r="0.4"/><circle cx="450.5" cy="51.05" r="0.4"/><circle cx="452.3" cy="52.51" r="0.4"/><circle cx="454.1" cy="52.09" r="0.4"/><circle cx="455.9" cy="51.33" r="0.4"/><circle cx="457.7" cy="52.86" r="0.4"/><circle cx="459.5" cy="52.24" r="0.4"/><circle cx="461.3" cy="52.38" r="0.4"/><circle cx="463.1" cy="52.11" r="0.4"/><circle cx="464.9" cy="52.38" r="0.4"/><circle cx="466.7" cy="52.04" r="0.4"/><circle cx="468.5" cy="52.83" r="0.4"/><circle cx="470.3" cy="52.45" r="0.4"/><circle cx="472.1" cy="52.59" r="0.4"/><circle cx="473.9" cy="52.8" r="0.4"/><circle cx="475.7" cy="51.93" r="0.4"/><circle cx="477.5" cy="52.99" r="0.4"/><circle cx="479.3" cy="53.25" r="0.4"/><circle cx="481.1" cy="53.88" r="0.4"/><circle cx="482.9" cy="53.32" r="0.4"/><circle cx="484.7" cy="55.51" r="0.4"/><circle cx="486.5" cy="55.01" r="0.4"/><circle cx="488.3" cy="54.65" r="0.4"/><circle cx="490.1" cy="54.79" r="0.4"/><circle cx="491.9" cy="56.09" r="0.4"/><circle cx="493.7" cy="56.64" r="0.4"/><circle cx="495.5" cy="56.7" r="0.4"/><circle cx="497.3" cy="57.61" r="0.4"/><circle cx="499.1" cy="57.58" r="0.4"/><circle cx="500.9" cy="58.69" r="0.4"/><circle cx="502.7" cy="58.31" r="0.4"/><circle cx="504.5" cy="59.08" r="0.4"/><circle cx="506.3" cy="60.03" r="0.4"/><circle cx="508.1" cy="61.3" r="0.4"/><circle cx="509.9" cy="59.45" r="0.4"/><circle cx="511.7" cy="60.05" r="0.4"/><circle cx="513.5" cy="60.07" r="0.4"/><circle cx="515.3" cy="61.27" r="0.4"/><circle cx="517.1" cy="60.32" r="0.4"/><circle cx="518.9" cy="60.9" r="0.4"/><circle cx="520.7" cy="61.34" r="0.4"/><circle cx="522.5" cy="60.91" r="0.4"/><circle cx="524.3" cy="61.06" r="0.4"/><circle cx="526.1" cy="61.46" r="0.4"/><circle cx="527.9" cy="60.58" r="0.4"/><circle cx="529.7" cy="61.06" r="0.4"/><circle cx="531.5" cy="61.76" r="0.4"/><circle cx="533.3" cy="62.16" r="0.4"/><circle cx="535.1" cy="62.01" r="0.4"/><circle cx="536.9" cy="61.1" r="0.4"/><circle cx="538.7" cy="61.93" r="0.4"/></g>
<polyline points="389.3,119.44 389.9,119.43 390.5,119.42 391.1,119.41 391.7,119.4 392.3,119.39 392.9,119.38 393.5,119.37 394.1,119.36 394.7,119.35 395.3,119.34 395.9,119.32 396.5,119.31 397.1,119.29 397.7,119.28 398.3,119.26 398.9,119.25 399.5,119.23 400.1,119.21 400.7,119.19 401.3,119.17 401.9,119.15 402.5,119.12 403.1,119.1 403.7,119.07 404.3,119.04 404.9,119 405.5,118.96 406.1,118.92 406.7,118.87 407.3,118.82 407.9,118.76 408.5,118.7 409.1,118.62 409.7,118.54 410.3,118.44 410.9,118.33 411.5,118.21 412.1,118.06 412.7,117.9 413.3,117.71 413.9,117.5 414.5,117.26 415.1,116.99 415.7,116.68 416.3,116.32 416.9,115.93 417.5,115.48 418.1,114.98 418.7,114.42 419.3,113.8 419.9,113.1 420.5,112.34 421.1,111.5 421.7,110.57 422.3,109.57 422.9,108.47 423.5,107.29 424.1,106.02 424.7,104.65 425.3,103.2 425.9,101.65 426.5,100.02 427.1,98.31 427.7,96.53 428.3,94.68 428.9,92.76 429.5,90.8 430.1,88.81 430.7,86.79 431.3,84.76 431.9,82.73 432.5,80.73 433.1,78.77 433.7,76.87 434.3,75.05 434.9,73.33 435.5,71.72 436.1,70.25 436.7,68.94 437.3,67.8 437.9,66.84 438.5,66.09 439.1,65.54 439.7,65.21 440.3,65.13 440.9,65.35 441.5,65.87 442.1,66.67 442.7,67.72 443.3,69.01 443.9,70.49 444.5,72.15 445.1,73.95 445.7,75.85 446.3,77.83 446.9,79.85 447.5,81.89 448.1,83.92 448.7,85.92 449.3,87.87 449.9,89.75 450.5,91.54 451.1,93.23 451.7,94.82 452.3,96.29 452.9,97.64 453.5,98.88 454.1,99.99 454.7,100.99 455.3,101.87 455.9,102.65 456.5,103.32 457.1,103.91 457.7,104.4 458.3,104.82 458.9,105.17 459.5,105.45 460.1,105.69 460.7,105.87 461.3,106.02 461.9,106.13 462.5,106.22 463.1,106.29 463.7,106.34 464.3,106.38 464.9,106.42 465.5,106.45 466.1,106.47 466.7,106.5 467.3,106.54 467.9,106.58 468.5,106.62 469.1,106.67 469.7,106.72 470.3,106.77 470.9,106.83 471.5,106.9 472.1,106.97 472.7,107.05 473.3,107.14 473.9,107.23 474.5,107.33 475.1,107.43 475.7,107.54 476.3,107.66 476.9,107.78 477.5,107.91 478.1,108.05 478.7,108.19 479.3,108.33 479.9,108.48 480.5,108.64 481.1,108.8 481.7,108.96 482.3,109.13 482.9,109.3 483.5,109.47 484.1,109.65 484.7,109.83 485.3,110.01 485.9,110.19 486.5,110.37 487.1,110.56 487.7,110.75 488.3,110.93 488.9,111.12 489.5,111.31 490.1,111.49 490.7,111.68 491.3,111.86 491.9,112.05 492.5,112.23 493.1,112.41 493.7,112.59 494.3,112.77 494.9,112.94 495.5,113.12 496.1,113.29 496.7,113.46 497.3,113.62 497.9,113.78 498.5,113.94 499.1,114.1 499.7,114.25 500.3,114.4 500.9,114.54 501.5,114.68 502.1,114.82 502.7,114.95 503.3,115.08 503.9,115.21 504.5,115.33 505.1,115.45 505.7,115.56 506.3,115.67 506.9,115.78 507.5,115.88 508.1,115.98 508.7,116.08 509.3,116.17 509.9,116.26 510.5,116.34 511.1,116.42 511.7,116.5 512.3,116.58 512.9,116.65 513.5,116.71 514.1,116.78 514.7,116.84 515.3,116.9 515.9,116.96 516.5,117.01 517.1,117.06 517.7,117.11 518.3,117.15 518.9,117.2 519.5,117.24 520.1,117.28 520.7,117.31 521.3,117.35 521.9,117.38 522.5,117.41 523.1,117.44 523.7,117.47 524.3,117.49 524.9,117.52 525.5,117.54 526.1,117.56 526.7,117.58 527.3,117.6 527.9,117.62 528.5,117.63 529.1,117.65 529.7,117.66 530.3,117.68 530.9,117.69 531.5,117.7 532.1,117.71 532.7,117.72 533.3,117.73 533.9,117.74 534.5,117.75 535.1,117.76 535.7,117.76 536.3,117.77 536.9,117.78 537.5,117.78 538.1,117.79 538.7,117.79" fill="none" stroke="#f51d1d" stroke-width="2.4" stroke-linejoin="round" stroke-linecap="round" />
<polyline points="389.3,120.09 389.9,120.09 390.5,120.09 391.1,120.09 391.7,120.08 392.3,120.08 392.9,120.08 393.5,120.08 394.1,120.08 394.7,120.08 395.3,120.08 395.9,120.08 396.5,120.08 397.1,120.07 397.7,120.07 398.3,120.07 398.9,120.07 399.5,120.07 400.1,120.06 400.7,120.06 401.3,120.06 401.9,120.06 402.5,120.06 403.1,120.05 403.7,120.05 404.3,120.05 404.9,120.04 405.5,120.04 406.1,120.04 406.7,120.03 407.3,120.03 407.9,120.02 408.5,120.02 409.1,120.02 409.7,120.01 410.3,120.01 410.9,120 411.5,119.99 412.1,119.99 412.7,119.98 413.3,119.97 413.9,119.97 414.5,119.96 415.1,119.95 415.7,119.94 416.3,119.93 416.9,119.93 417.5,119.92 418.1,119.91 418.7,119.89 419.3,119.88 419.9,119.87 420.5,119.86 421.1,119.85 421.7,119.83 422.3,119.82 422.9,119.8 423.5,119.79 424.1,119.77 424.7,119.76 425.3,119.74 425.9,119.72 426.5,119.7 427.1,119.68 427.7,119.66 428.3,119.64 428.9,119.62 429.5,119.6 430.1,119.58 430.7,119.55 431.3,119.53 431.9,119.51 432.5,119.48 433.1,119.46 433.7,119.43 434.3,119.4 434.9,119.38 435.5,119.35 436.1,119.32 436.7,119.3 437.3,119.27 437.9,119.24 438.5,119.21 439.1,119.18 439.7,119.15 440.3,119.13 440.9,119.1 441.5,119.07 442.1,119.04 442.7,119.01 443.3,118.99 443.9,118.96 444.5,118.93 445.1,118.9 445.7,118.88 446.3,118.85 446.9,118.83 447.5,118.8 448.1,118.78 448.7,118.75 449.3,118.73 449.9,118.71 450.5,118.69 451.1,118.66 451.7,118.64 452.3,118.62 452.9,118.6 453.5,118.58 454.1,118.57 454.7,118.55 455.3,118.53 455.9,118.52 456.5,118.5 457.1,118.49 457.7,118.47 458.3,118.46 458.9,118.45 459.5,118.43 460.1,118.42 460.7,118.41 461.3,118.4 461.9,118.39 462.5,118.38 463.1,118.37 463.7,118.36 464.3,118.35 464.9,118.34 465.5,118.34 466.1,118.33 466.7,118.32 467.3,118.31 467.9,118.31 468.5,118.3 469.1,118.3 469.7,118.29 470.3,118.29 470.9,118.28 471.5,118.28 472.1,118.27 472.7,118.27 473.3,118.26 473.9,118.26 474.5,118.26 475.1,118.25 475.7,118.25 476.3,118.25 476.9,118.25 477.5,118.24 478.1,118.24 478.7,118.24 479.3,118.24 479.9,118.23 480.5,118.23 481.1,118.23 481.7,118.23 482.3,118.23 482.9,118.23 483.5,118.22 484.1,118.22 484.7,118.22 485.3,118.22 485.9,118.22 486.5,118.22 487.1,118.22 487.7,118.22 488.3,118.21 488.9,118.21 489.5,118.21 490.1,118.21 490.7,118.21 491.3,118.21 491.9,118.21 492.5,118.21 493.1,118.21 493.7,118.21 494.3,118.21 494.9,118.21 495.5,118.21 496.1,118.21 496.7,118.21 497.3,118.21 497.9,118.21 498.5,118.21 499.1,118.21 499.7,118.2 500.3,118.2 500.9,118.2 501.5,118.2 502.1,118.2 502.7,118.2 503.3,118.2 503.9,118.2 504.5,118.2 505.1,118.2 505.7,118.2 506.3,118.2 506.9,118.2 507.5,118.2 508.1,118.2 508.7,118.2 509.3,118.2 509.9,118.2 510.5,118.2 511.1,118.2 511.7,118.2 512.3,118.2 512.9,118.2 513.5,118.2 514.1,118.2 514.7,118.2 515.3,118.2 515.9,118.2 516.5,118.2 517.1,118.2 517.7,118.2 518.3,118.2 518.9,118.2 519.5,118.2 520.1,118.2 520.7,118.2 521.3,118.2 521.9,118.2 522.5,118.2 523.1,118.2 523.7,118.2 524.3,118.2 524.9,118.2 525.5,118.2 526.1,118.2 526.7,118.2 527.3,118.2 527.9,118.2 528.5,118.2 529.1,118.2 529.7,118.2 530.3,118.2 530.9,118.2 531.5,118.2 532.1,118.2 532.7,118.2 533.3,118.2 533.9,118.2 534.5,118.2 535.1,118.2 535.7,118.2 536.3,118.2 536.9,118.2 537.5,118.2 538.1,118.2 538.7,118.2" fill="none" stroke="#3cc43c" stroke-width="1.5" stroke-linejoin="round" stroke-linecap="round" />
<polyline points="389.3,119.79 389.9,119.79 390.5,119.79 391.1,119.79 391.7,119.78 392.3,119.78 392.9,119.78 393.5,119.78 394.1,119.78 394.7,119.78 395.3,119.78 395.9,119.78 396.5,119.77 397.1,119.77 397.7,119.77 398.3,119.77 398.9,119.77 399.5,119.76 400.1,119.76 400.7,119.76 401.3,119.76 401.9,119.75 402.5,119.75 403.1,119.75 403.7,119.74 404.3,119.74 404.9,119.73 405.5,119.73 406.1,119.72 406.7,119.72 407.3,119.71 407.9,119.7 408.5,119.7 409.1,119.69 409.7,119.68 410.3,119.67 410.9,119.66 411.5,119.65 412.1,119.64 412.7,119.63 413.3,119.62 413.9,119.6 414.5,119.59 415.1,119.57 415.7,119.55 416.3,119.53 416.9,119.51 417.5,119.49 418.1,119.46 418.7,119.44 419.3,119.41 419.9,119.38 420.5,119.35 421.1,119.31 421.7,119.27 422.3,119.23 422.9,119.19 423.5,119.15 424.1,119.1 424.7,119.04 425.3,118.99 425.9,118.93 426.5,118.87 427.1,118.8 427.7,118.73 428.3,118.65 428.9,118.57 429.5,118.49 430.1,118.4 430.7,118.3 431.3,118.2 431.9,118.1 432.5,117.99 433.1,117.87 433.7,117.75 434.3,117.62 434.9,117.49 435.5,117.35 436.1,117.21 436.7,117.06 437.3,116.9 437.9,116.73 438.5,116.57 439.1,116.39 439.7,116.21 440.3,116.02 440.9,115.83 441.5,115.63 442.1,115.43 442.7,115.22 443.3,115 443.9,114.78 444.5,114.56 445.1,114.33 445.7,114.1 446.3,113.86 446.9,113.63 447.5,113.38 448.1,113.14 448.7,112.89 449.3,112.65 449.9,112.4 450.5,112.15 451.1,111.9 451.7,111.65 452.3,111.41 452.9,111.16 453.5,110.92 454.1,110.68 454.7,110.45 455.3,110.22 455.9,109.99 456.5,109.77 457.1,109.56 457.7,109.35 458.3,109.15 458.9,108.96 459.5,108.78 460.1,108.61 460.7,108.44 461.3,108.29 461.9,108.15 462.5,108.02 463.1,107.9 463.7,107.79 464.3,107.7 464.9,107.62 465.5,107.55 466.1,107.49 466.7,107.45 467.3,107.42 467.9,107.41 468.5,107.4 469.1,107.41 469.7,107.42 470.3,107.45 470.9,107.48 471.5,107.52 472.1,107.57 472.7,107.62 473.3,107.69 473.9,107.76 474.5,107.84 475.1,107.93 475.7,108.03 476.3,108.13 476.9,108.24 477.5,108.35 478.1,108.47 478.7,108.6 479.3,108.74 479.9,108.87 480.5,109.02 481.1,109.17 481.7,109.32 482.3,109.48 482.9,109.64 483.5,109.8 484.1,109.97 484.7,110.14 485.3,110.31 485.9,110.49 486.5,110.67 487.1,110.84 487.7,111.02 488.3,111.2 488.9,111.38 489.5,111.56 490.1,111.75 490.7,111.93 491.3,112.11 491.9,112.28 492.5,112.46 493.1,112.64 493.7,112.81 494.3,112.99 494.9,113.16 495.5,113.33 496.1,113.49 496.7,113.65 497.3,113.82 497.9,113.97 498.5,114.13 499.1,114.28 499.7,114.43 500.3,114.57 500.9,114.71 501.5,114.85 502.1,114.98 502.7,115.12 503.3,115.24 503.9,115.36 504.5,115.48 505.1,115.6 505.7,115.71 506.3,115.82 506.9,115.92 507.5,116.02 508.1,116.12 508.7,116.21 509.3,116.3 509.9,116.39 510.5,116.47 511.1,116.55 511.7,116.63 512.3,116.7 512.9,116.77 513.5,116.83 514.1,116.9 514.7,116.96 515.3,117.01 515.9,117.07 516.5,117.12 517.1,117.17 517.7,117.22 518.3,117.26 518.9,117.3 519.5,117.34 520.1,117.38 520.7,117.41 521.3,117.45 521.9,117.48 522.5,117.51 523.1,117.53 523.7,117.56 524.3,117.59 524.9,117.61 525.5,117.63 526.1,117.65 526.7,117.67 527.3,117.69 527.9,117.7 528.5,117.72 529.1,117.73 529.7,117.74 530.3,117.76 530.9,117.77 531.5,117.78 532.1,117.79 532.7,117.8 533.3,117.81 533.9,117.81 534.5,117.82 535.1,117.83 535.7,117.83 536.3,117.84 536.9,117.85 537.5,117.85 538.1,117.85 538.7,117.86" fill="none" stroke="#179a3a" stroke-width="2.7" stroke-linejoin="round" stroke-linecap="round" />
<polyline points="389.3,119.44 389.9,119.43 390.5,119.42 391.1,119.41 391.7,119.4 392.3,119.39 392.9,119.38 393.5,119.37 394.1,119.36 394.7,119.35 395.3,119.34 395.9,119.32 396.5,119.31 397.1,119.3 397.7,119.28 398.3,119.27 398.9,119.25 399.5,119.23 400.1,119.21 400.7,119.19 401.3,119.17 401.9,119.15 402.5,119.13 403.1,119.1 403.7,119.08 404.3,119.05 404.9,119.01 405.5,118.98 406.1,118.94 406.7,118.89 407.3,118.84 407.9,118.78 408.5,118.72 409.1,118.65 409.7,118.57 410.3,118.48 410.9,118.37 411.5,118.25 412.1,118.11 412.7,117.95 413.3,117.77 413.9,117.57 414.5,117.34 415.1,117.07 415.7,116.77 416.3,116.43 416.9,116.04 417.5,115.61 418.1,115.12 418.7,114.58 419.3,113.97 419.9,113.3 420.5,112.55 421.1,111.73 421.7,110.83 422.3,109.85 422.9,108.79 423.5,107.63 424.1,106.39 424.7,105.06 425.3,103.65 425.9,102.14 426.5,100.56 427.1,98.9 427.7,97.16 428.3,95.37 428.9,93.51 429.5,91.62 430.1,89.69 430.7,87.74 431.3,85.78 431.9,83.84 432.5,81.93 433.1,80.06 433.7,78.25 434.3,76.53 434.9,74.92 435.5,73.42 436.1,72.07 436.7,70.88 437.3,69.87 437.9,69.05 438.5,68.43 439.1,68.04 439.7,67.86 440.3,67.94 440.9,68.32 441.5,69.01 442.1,69.98 442.7,71.22 443.3,72.69 443.9,74.37 444.5,76.22 445.1,78.22 445.7,80.33 446.3,82.51 446.9,84.75 447.5,87.01 448.1,89.26 448.7,91.48 449.3,93.65 449.9,95.76 450.5,97.77 451.1,99.69 451.7,101.51 452.3,103.2 452.9,104.78 453.5,106.24 454.1,107.57 454.7,108.79 455.3,109.89 455.9,110.87 456.5,111.75 457.1,112.53 457.7,113.22 458.3,113.82 458.9,114.35 459.5,114.81 460.1,115.2 460.7,115.54 461.3,115.83 461.9,116.07 462.5,116.28 463.1,116.46 463.7,116.61 464.3,116.73 464.9,116.84 465.5,116.93 466.1,117.01 466.7,117.07 467.3,117.13 467.9,117.18 468.5,117.22 469.1,117.25 469.7,117.28 470.3,117.31 470.9,117.33 471.5,117.36 472.1,117.38 472.7,117.39 473.3,117.41 473.9,117.43 474.5,117.44 475.1,117.46 475.7,117.47 476.3,117.48 476.9,117.49 477.5,117.5 478.1,117.51 478.7,117.52 479.3,117.53 479.9,117.54 480.5,117.55 481.1,117.56 481.7,117.57 482.3,117.58 482.9,117.58 483.5,117.59 484.1,117.6 484.7,117.61 485.3,117.61 485.9,117.62 486.5,117.63 487.1,117.63 487.7,117.64 488.3,117.64 488.9,117.65 489.5,117.65 490.1,117.66 490.7,117.66 491.3,117.67 491.9,117.67 492.5,117.68 493.1,117.68 493.7,117.69 494.3,117.69 494.9,117.7 495.5,117.7 496.1,117.7 496.7,117.71 497.3,117.71 497.9,117.71 498.5,117.72 499.1,117.72 499.7,117.72 500.3,117.73 500.9,117.73 501.5,117.73 502.1,117.74 502.7,117.74 503.3,117.74 503.9,117.75 504.5,117.75 505.1,117.75 505.7,117.75 506.3,117.76 506.9,117.76 507.5,117.76 508.1,117.76 508.7,117.77 509.3,117.77 509.9,117.77 510.5,117.77 511.1,117.77 511.7,117.78 512.3,117.78 512.9,117.78 513.5,117.78 514.1,117.78 514.7,117.78 515.3,117.79 515.9,117.79 516.5,117.79 517.1,117.79 517.7,117.79 518.3,117.79 518.9,117.8 519.5,117.8 520.1,117.8 520.7,117.8 521.3,117.8 521.9,117.8 522.5,117.8 523.1,117.81 523.7,117.81 524.3,117.81 524.9,117.81 525.5,117.81 526.1,117.81 526.7,117.81 527.3,117.81 527.9,117.82 528.5,117.82 529.1,117.82 529.7,117.82 530.3,117.82 530.9,117.82 531.5,117.82 532.1,117.82 532.7,117.82 533.3,117.83 533.9,117.83 534.5,117.83 535.1,117.83 535.7,117.83 536.3,117.83 536.9,117.83 537.5,117.83 538.1,117.83 538.7,117.83" fill="none" stroke="#24c6e0" stroke-width="2.5" stroke-linejoin="round" stroke-linecap="round" />
<g fill="#333"><circle cx="389.3" cy="119.92" r="0.4"/><circle cx="391.1" cy="119.75" r="0.4"/><circle cx="392.9" cy="119.34" r="0.4"/><circle cx="394.7" cy="118.82" r="0.4"/><circle cx="396.5" cy="119.69" r="0.4"/><circle cx="398.3" cy="118.92" r="0.4"/><circle cx="400.1" cy="118.51" r="0.4"/><circle cx="401.9" cy="118.67" r="0.4"/><circle cx="403.7" cy="119.94" r="0.4"/><circle cx="405.5" cy="119.1" r="0.4"/><circle cx="407.3" cy="119.52" r="0.4"/><circle cx="409.1" cy="118.34" r="0.4"/><circle cx="410.9" cy="118.9" r="0.4"/><circle cx="412.7" cy="117.54" r="0.4"/><circle cx="414.5" cy="117.17" r="0.4"/><circle cx="416.3" cy="117.82" r="0.4"/><circle cx="418.1" cy="115.44" r="0.4"/><circle cx="419.9" cy="112.8" r="0.4"/><circle cx="421.7" cy="110.52" r="0.4"/><circle cx="423.5" cy="107.49" r="0.4"/><circle cx="425.3" cy="103.92" r="0.4"/><circle cx="427.1" cy="98.02" r="0.4"/><circle cx="428.9" cy="91.72" r="0.4"/><circle cx="430.7" cy="86.62" r="0.4"/><circle cx="432.5" cy="80.74" r="0.4"/><circle cx="434.3" cy="75.12" r="0.4"/><circle cx="436.1" cy="71.04" r="0.4"/><circle cx="437.9" cy="67.03" r="0.4"/><circle cx="439.7" cy="65.7" r="0.4"/><circle cx="441.5" cy="65.21" r="0.4"/><circle cx="443.3" cy="69.53" r="0.4"/><circle cx="445.1" cy="75.2" r="0.4"/><circle cx="446.9" cy="80.31" r="0.4"/><circle cx="448.7" cy="86.08" r="0.4"/><circle cx="450.5" cy="91.63" r="0.4"/><circle cx="452.3" cy="97.36" r="0.4"/><circle cx="454.1" cy="99.43" r="0.4"/><circle cx="455.9" cy="102.58" r="0.4"/><circle cx="457.7" cy="104.68" r="0.4"/><circle cx="459.5" cy="105.9" r="0.4"/><circle cx="461.3" cy="105.76" r="0.4"/><circle cx="463.1" cy="106.47" r="0.4"/><circle cx="464.9" cy="106.25" r="0.4"/><circle cx="466.7" cy="106.58" r="0.4"/><circle cx="468.5" cy="106.54" r="0.4"/><circle cx="470.3" cy="106.09" r="0.4"/><circle cx="472.1" cy="106.96" r="0.4"/><circle cx="473.9" cy="107.75" r="0.4"/><circle cx="475.7" cy="106.96" r="0.4"/><circle cx="477.5" cy="107.77" r="0.4"/><circle cx="479.3" cy="108.73" r="0.4"/><circle cx="481.1" cy="108.16" r="0.4"/><circle cx="482.9" cy="109.41" r="0.4"/><circle cx="484.7" cy="109.19" r="0.4"/><circle cx="486.5" cy="111.05" r="0.4"/><circle cx="488.3" cy="112.32" r="0.4"/><circle cx="490.1" cy="112.71" r="0.4"/><circle cx="491.9" cy="111.92" r="0.4"/><circle cx="493.7" cy="113.04" r="0.4"/><circle cx="495.5" cy="113.19" r="0.4"/><circle cx="497.3" cy="113.68" r="0.4"/><circle cx="499.1" cy="115.02" r="0.4"/><circle cx="500.9" cy="113.75" r="0.4"/><circle cx="502.7" cy="115.58" r="0.4"/><circle cx="504.5" cy="115.3" r="0.4"/><circle cx="506.3" cy="116.52" r="0.4"/><circle cx="508.1" cy="116.09" r="0.4"/><circle cx="509.9" cy="115.85" r="0.4"/><circle cx="511.7" cy="116.67" r="0.4"/><circle cx="513.5" cy="117.16" r="0.4"/><circle cx="515.3" cy="116.92" r="0.4"/><circle cx="517.1" cy="117.35" r="0.4"/><circle cx="518.9" cy="116.88" r="0.4"/><circle cx="520.7" cy="116.03" r="0.4"/><circle cx="522.5" cy="117.95" r="0.4"/><circle cx="524.3" cy="117.91" r="0.4"/><circle cx="526.1" cy="117.65" r="0.4"/><circle cx="527.9" cy="117.66" r="0.4"/><circle cx="529.7" cy="118.29" r="0.4"/><circle cx="531.5" cy="117.43" r="0.4"/><circle cx="533.3" cy="117.31" r="0.4"/><circle cx="535.1" cy="117.64" r="0.4"/><circle cx="536.9" cy="118.49" r="0.4"/><circle cx="538.7" cy="116.96" r="0.4"/></g>
<line x1="440" y1="23" x2="440" y2="66" stroke="#1a1a1a" stroke-width="1.1" stroke-dasharray="1.4 1.3"/>
<line x1="469.6" y1="20" x2="469.6" y2="110" stroke="#1a1a1a" stroke-width="1.1" stroke-dasharray="1.4 1.3"/>
<line x1="446.5" y1="19" x2="446.5" y2="32" stroke="#3b5bd0" stroke-width="0.9" stroke-dasharray="1.2 1.2"/>
<line x1="436" y1="42" x2="436" y2="49" stroke="#3b5bd0" stroke-width="0.9" stroke-dasharray="1.2 1.2"/>
<line x1="441" y1="62" x2="441" y2="69" stroke="#3b5bd0" stroke-width="0.9" stroke-dasharray="1.2 1.2"/>
<line x1="472.8" y1="22" x2="472.8" y2="30" stroke="#3b5bd0" stroke-width="0.9" stroke-dasharray="1.2 1.2"/>
<line x1="466" y1="46" x2="466" y2="53" stroke="#3b5bd0" stroke-width="0.9" stroke-dasharray="1.2 1.2"/>
<text transform="translate(392.6,18.9) scale(1,0.9)" font-size="13.5" text-anchor="start" fill="#000" font-family="'Liberation Serif', 'Times New Roman', serif" font-weight="bold" font-style="normal"  stroke="#000" stroke-width="0.25">(c)</text>
<text transform="translate(538.4,16.7) scale(1,1.12)" font-size="9.0" text-anchor="end" fill="#000" font-family="'Liberation Serif', 'Times New Roman', serif" font-weight="bold" font-style="normal"  stroke="#000" stroke-width="0.25">O 1s</text>
<text transform="translate(422.8,23.6) scale(1,1.12)" font-size="6.6" text-anchor="start" fill="#000" font-family="'Liberation Serif', 'Times New Roman', serif" font-weight="bold" font-style="normal"  stroke="#000" stroke-width="0.25">Ti-O</text>
<text transform="translate(414.4,31.3) scale(1,1.12)" font-size="5.8" text-anchor="start" fill="#3a52bd" font-family="'Liberation Serif', 'Times New Roman', serif" font-weight="bold" font-style="normal"  stroke="#3a52bd" stroke-width="0.12">529.8 eV</text>
<line x1="431.5" y1="24.5" x2="444.5" y2="29.5" stroke="#111" stroke-width="1.0" />
<text transform="translate(478.2,23) scale(1,1.12)" font-size="6.7" text-anchor="start" fill="#000" font-family="'Liberation Serif', 'Times New Roman', serif" font-weight="bold" font-style="normal"  stroke="#000" stroke-width="0.25">OH</text>
<text transform="translate(476.2,30.2) scale(1,1.12)" font-size="5.8" text-anchor="start" fill="#3a52bd" font-family="'Liberation Serif', 'Times New Roman', serif" font-weight="bold" font-style="normal"  stroke="#3a52bd" stroke-width="0.12">531.6 eV</text>
<line x1="479" y1="23.5" x2="472.8" y2="31.5" stroke="#111" stroke-width="1.0" />
<text transform="translate(496.6,26.8) scale(1,1.12)" font-size="6.9" text-anchor="start" fill="#000" font-family="'Liberation Serif', 'Times New Roman', serif" font-weight="bold" font-style="normal"  stroke="#000" stroke-width="0.25">TiO<tspan font-size="4.14" dy="2.07">2</tspan><tspan dy="-2.07">@ZnIn</tspan><tspan font-size="4.14" dy="2.07">2</tspan><tspan dy="-2.07">S</tspan><tspan font-size="4.14" dy="2.07">4</tspan></text>
<text transform="translate(505.8,35) scale(1,1.12)" font-size="6.8" text-anchor="start" fill="#000" font-family="'Liberation Serif', 'Times New Roman', serif" font-weight="bold" font-style="normal"  stroke="#000" stroke-width="0.25">in light</text>
<text transform="translate(413.8,48.9) scale(1,1.12)" font-size="6.6" text-anchor="start" fill="#000" font-family="'Liberation Serif', 'Times New Roman', serif" font-weight="bold" font-style="normal"  stroke="#000" stroke-width="0.25">Ti-O</text>
<text transform="translate(406.4,55) scale(1,1.12)" font-size="5.8" text-anchor="start" fill="#3a52bd" font-family="'Liberation Serif', 'Times New Roman', serif" font-weight="bold" font-style="normal"  stroke="#3a52bd" stroke-width="0.12">529.1 eV</text>
<line x1="424" y1="49.5" x2="434.5" y2="53.5" stroke="#111" stroke-width="1.0" />
<text transform="translate(477,47.8) scale(1,1.12)" font-size="6.7" text-anchor="start" fill="#000" font-family="'Liberation Serif', 'Times New Roman', serif" font-weight="bold" font-style="normal"  stroke="#000" stroke-width="0.25">OH</text>
<text transform="translate(474.2,53.6) scale(1,1.12)" font-size="5.8" text-anchor="start" fill="#3a52bd" font-family="'Liberation Serif', 'Times New Roman', serif" font-weight="bold" font-style="normal"  stroke="#3a52bd" stroke-width="0.12">531.1 eV</text>
<line x1="477.5" y1="48.8" x2="469" y2="55" stroke="#111" stroke-width="1.0" />
<text transform="translate(497.6,56.2) scale(1,1.12)" font-size="6.9" text-anchor="start" fill="#000" font-family="'Liberation Serif', 'Times New Roman', serif" font-weight="bold" font-style="normal"  stroke="#000" stroke-width="0.25">TiO<tspan font-size="4.14" dy="2.07">2</tspan><tspan dy="-2.07">@ZnIn</tspan><tspan font-size="4.14" dy="2.07">2</tspan><tspan dy="-2.07">S</tspan><tspan font-size="4.14" dy="2.07">4</tspan></text>
<text transform="translate(415.2,74.6) scale(1,1.12)" font-size="6.6" text-anchor="start" fill="#000" font-family="'Liberation Serif', 'Times New Roman', serif" font-weight="bold" font-style="normal"  stroke="#000" stroke-width="0.25">Ti-O</text>
<text transform="translate(410,81.3) scale(1,1.12)" font-size="5.8" text-anchor="start" fill="#3a52bd" font-family="'Liberation Serif', 'Times New Roman', serif" font-weight="bold" font-style="normal"  stroke="#3a52bd" stroke-width="0.12">529.4 eV</text>
<line x1="426" y1="74.6" x2="437" y2="71.5" stroke="#111" stroke-width="1.0" />
<text transform="translate(477.8,99) scale(1,1.12)" font-size="6.7" text-anchor="start" fill="#000" font-family="'Liberation Serif', 'Times New Roman', serif" font-weight="bold" font-style="normal"  stroke="#000" stroke-width="0.25">OH</text>
<text transform="translate(477.8,105.4) scale(1,1.12)" font-size="5.8" text-anchor="start" fill="#3a52bd" font-family="'Liberation Serif', 'Times New Roman', serif" font-weight="bold" font-style="normal"  stroke="#3a52bd" stroke-width="0.12">531.4 eV</text>
<line x1="479.5" y1="98.8" x2="471" y2="110" stroke="#111" stroke-width="1.0" />
<text transform="translate(514.6,112) scale(1,1.12)" font-size="6.9" text-anchor="start" fill="#000" font-family="'Liberation Serif', 'Times New Roman', serif" font-weight="bold" font-style="normal"  stroke="#000" stroke-width="0.25">TiO<tspan font-size="4.14" dy="2.07">2</tspan></text>
<rect x="47.3" y="149.9" width="153.7" height="119.7" fill="none" stroke="#1a1a1a" stroke-width="1.3"/>
<line x1="47.3" y1="269.6" x2="47.3" y2="271.8" stroke="#111" stroke-width="1" />
<line x1="69.26" y1="269.6" x2="69.26" y2="271.8" stroke="#111" stroke-width="1" />
<line x1="91.21" y1="269.6" x2="91.21" y2="271.8" stroke="#111" stroke-width="1" />
<line x1="113.17" y1="269.6" x2="113.17" y2="271.8" stroke="#111" stroke-width="1" />
<line x1="135.13" y1="269.6" x2="135.13" y2="271.8" stroke="#111" stroke-width="1" />
<line x1="157.09" y1="269.6" x2="157.09" y2="271.8" stroke="#111" stroke-width="1" />
<line x1="179.04" y1="269.6" x2="179.04" y2="271.8" stroke="#111" stroke-width="1" />
<line x1="201" y1="269.6" x2="201" y2="271.8" stroke="#111" stroke-width="1" />
<line x1="58.28" y1="269.6" x2="58.28" y2="271.2" stroke="#111" stroke-width="0.9" />
<line x1="80.24" y1="269.6" x2="80.24" y2="271.2" stroke="#111" stroke-width="0.9" />
<line x1="102.19" y1="269.6" x2="102.19" y2="271.2" stroke="#111" stroke-width="0.9" />
<line x1="124.15" y1="269.6" x2="124.15" y2="271.2" stroke="#111" stroke-width="0.9" />
<line x1="146.11" y1="269.6" x2="146.11" y2="271.2" stroke="#111" stroke-width="0.9" />
<line x1="168.06" y1="269.6" x2="168.06" y2="271.2" stroke="#111" stroke-width="0.9" />
<line x1="190.02" y1="269.6" x2="190.02" y2="271.2" stroke="#111" stroke-width="0.9" />
<text transform="translate(47.3,278.2) scale(1,1.12)" font-size="6.3" text-anchor="middle" fill="#111" font-family="'Liberation Sans', Arial, sans-serif" font-weight="bold" font-style="normal"  stroke="#111" stroke-width="0.25">1015</text>
<text transform="translate(69.26,278.2) scale(1,1.12)" font-size="6.3" text-anchor="middle" fill="#111" font-family="'Liberation Sans', Arial, sans-serif" font-weight="bold" font-style="normal"  stroke="#111" stroke-width="0.25">1020</text>
<text transform="translate(91.21,278.2) scale(1,1.12)" font-size="6.3" text-anchor="middle" fill="#111" font-family="'Liberation Sans', Arial, sans-serif" font-weight="bold" font-style="normal"  stroke="#111" stroke-width="0.25">1025</text>
<text transform="translate(113.17,278.2) scale(1,1.12)" font-size="6.3" text-anchor="middle" fill="#111" font-family="'Liberation Sans', Arial, sans-serif" font-weight="bold" font-style="normal"  stroke="#111" stroke-width="0.25">1030</text>
<text transform="translate(135.13,278.2) scale(1,1.12)" font-size="6.3" text-anchor="middle" fill="#111" font-family="'Liberation Sans', Arial, sans-serif" font-weight="bold" font-style="normal"  stroke="#111" stroke-width="0.25">1035</text>
<text transform="translate(157.09,278.2) scale(1,1.12)" font-size="6.3" text-anchor="middle" fill="#111" font-family="'Liberation Sans', Arial, sans-serif" font-weight="bold" font-style="normal"  stroke="#111" stroke-width="0.25">1040</text>
<text transform="translate(179.04,278.2) scale(1,1.12)" font-size="6.3" text-anchor="middle" fill="#111" font-family="'Liberation Sans', Arial, sans-serif" font-weight="bold" font-style="normal"  stroke="#111" stroke-width="0.25">1045</text>
<text transform="translate(201,278.2) scale(1,1.12)" font-size="6.3" text-anchor="middle" fill="#111" font-family="'Liberation Sans', Arial, sans-serif" font-weight="bold" font-style="normal"  stroke="#111" stroke-width="0.25">1050</text>
<text transform="translate(124.5,286.2) scale(1,1.12)" font-size="8.9" text-anchor="middle" fill="#111" font-family="'Liberation Serif', 'Times New Roman', serif" font-weight="bold" font-style="normal"  stroke="#111" stroke-width="0.3">Binding energy (eV)</text>
<text x="0" y="0" font-size="9.5" text-anchor="middle" fill="#111" stroke="#111" stroke-width="0.25" font-family="'Liberation Serif', 'Times New Roman', serif" font-weight="bold" transform="translate(39.9,207.4) rotate(-90)">Intensity (a.u.)</text>
<path d="M47.5,198.4h2v2.5h-2zM47.94,197.02h2v2.5h-2zM48.38,196.67h2v2.5h-2zM48.82,196.88h2v2.5h-2zM49.26,197.4h2v2.5h-2zM49.7,196.49h2v2.5h-2zM50.14,197.19h2v2.5h-2zM50.58,198.14h2v2.5h-2zM51.02,198.33h2v2.5h-2zM51.46,197.1h2v2.5h-2zM51.9,197.71h2v2.5h-2zM52.34,197.93h2v2.5h-2zM52.78,196.9h2v2.5h-2zM53.22,197.64h2v2.5h-2zM53.66,197.33h2v2.5h-2zM54.1,196.94h2v2.5h-2zM54.54,196.95h2v2.5h-2zM54.98,197.35h2v2.5h-2zM55.42,197.31h2v2.5h-2zM55.86,196.84h2v2.5h-2zM56.3,196.92h2v2.5h-2zM56.74,198.05h2v2.5h-2zM57.18,197.35h2v2.5h-2zM57.62,197.83h2v2.5h-2zM58.06,198.33h2v2.5h-2zM58.5,197.55h2v2.5h-2zM58.94,198.78h2v2.5h-2zM59.38,196.42h2v2.5h-2zM59.82,197.6h2v2.5h-2zM60.26,196.72h2v2.5h-2zM60.7,198.3h2v2.5h-2zM61.14,198.13h2v2.5h-2zM61.58,195.34h2v2.5h-2zM62.02,196.01h2v2.5h-2zM62.46,197.17h2v2.5h-2zM62.9,197.19h2v2.5h-2zM63.34,197.07h2v2.5h-2zM63.78,196.36h2v2.5h-2zM64.22,196.65h2v2.5h-2zM64.66,196.67h2v2.5h-2zM65.1,195.96h2v2.5h-2zM65.54,196.41h2v2.5h-2zM65.98,193.9h2v2.5h-2zM66.42,195.76h2v2.5h-2zM66.86,194.13h2v2.5h-2zM67.3,196.45h2v2.5h-2zM67.74,193.61h2v2.5h-2zM68.18,192.3h2v2.5h-2zM68.62,192.23h2v2.5h-2zM69.06,189.98h2v2.5h-2zM69.5,188.41h2v2.5h-2zM69.94,186.01h2v2.5h-2zM70.38,184.91h2v2.5h-2zM70.82,182.69h2v2.5h-2zM71.26,180.12h2v2.5h-2zM71.7,175.98h2v2.5h-2zM72.14,173.37h2v2.5h-2zM72.58,168.96h2v2.5h-2zM73.02,165.25h2v2.5h-2zM73.46,162.31h2v2.5h-2zM73.9,159.64h2v2.5h-2zM74.34,156.19h2v2.5h-2zM74.78,154.73h2v2.5h-2zM75.22,154.27h2v2.5h-2zM75.66,154.92h2v2.5h-2zM76.1,155.52h2v2.5h-2zM76.54,159.05h2v2.5h-2zM76.98,160.62h2v2.5h-2zM77.42,164.31h2v2.5h-2zM77.86,166.6h2v2.5h-2zM78.3,170.8h2v2.5h-2zM78.74,174.09h2v2.5h-2zM79.18,176.58h2v2.5h-2zM79.62,181.3h2v2.5h-2zM80.06,182.68h2v2.5h-2zM80.5,186.05h2v2.5h-2zM80.94,187.45h2v2.5h-2zM81.38,187.96h2v2.5h-2zM81.82,189.61h2v2.5h-2zM82.26,191.42h2v2.5h-2zM82.7,192.11h2v2.5h-2zM83.14,192.88h2v2.5h-2zM83.58,193.25h2v2.5h-2zM84.02,192.61h2v2.5h-2zM84.46,193h2v2.5h-2zM84.9,193h2v2.5h-2zM85.34,195.19h2v2.5h-2zM85.78,194.57h2v2.5h-2zM86.22,194.74h2v2.5h-2zM86.66,195.25h2v2.5h-2zM87.1,195.74h2v2.5h-2zM87.54,194.56h2v2.5h-2zM87.98,194.4h2v2.5h-2zM88.42,194.99h2v2.5h-2zM88.86,194.33h2v2.5h-2zM89.3,195.2h2v2.5h-2zM89.74,197.17h2v2.5h-2zM90.18,195.24h2v2.5h-2zM90.62,196.57h2v2.5h-2zM91.06,195.09h2v2.5h-2zM91.5,196.39h2v2.5h-2zM91.94,195.96h2v2.5h-2zM92.38,196.19h2v2.5h-2zM92.82,196.69h2v2.5h-2zM93.26,197.61h2v2.5h-2zM93.7,196.47h2v2.5h-2zM94.14,196.45h2v2.5h-2zM94.58,195.65h2v2.5h-2zM95.02,196.84h2v2.5h-2zM95.46,196.24h2v2.5h-2zM95.9,197.07h2v2.5h-2zM96.34,196.43h2v2.5h-2zM96.78,197.79h2v2.5h-2zM97.22,195.01h2v2.5h-2zM97.66,196.29h2v2.5h-2zM98.1,197.19h2v2.5h-2zM98.54,196.28h2v2.5h-2zM98.98,195.96h2v2.5h-2zM99.42,196.37h2v2.5h-2zM99.86,195.55h2v2.5h-2zM100.3,196.68h2v2.5h-2zM100.74,198.43h2v2.5h-2zM101.18,197.47h2v2.5h-2zM101.62,195.79h2v2.5h-2zM102.06,195.98h2v2.5h-2zM102.5,196.34h2v2.5h-2zM102.94,197.4h2v2.5h-2zM103.38,196.04h2v2.5h-2zM103.82,196.15h2v2.5h-2zM104.26,197.34h2v2.5h-2zM104.7,197.33h2v2.5h-2zM105.14,196.41h2v2.5h-2zM105.58,195.86h2v2.5h-2zM106.02,195.54h2v2.5h-2zM106.46,196.18h2v2.5h-2zM106.9,195.04h2v2.5h-2zM107.34,197.28h2v2.5h-2zM107.78,196.25h2v2.5h-2zM108.22,197.09h2v2.5h-2zM108.66,198.13h2v2.5h-2zM109.1,197.62h2v2.5h-2zM109.54,195.88h2v2.5h-2zM109.98,197.4h2v2.5h-2zM110.42,197.62h2v2.5h-2zM110.86,196.19h2v2.5h-2zM111.3,196.04h2v2.5h-2zM111.74,196.68h2v2.5h-2zM112.18,195.56h2v2.5h-2zM112.62,197.87h2v2.5h-2zM113.06,194.97h2v2.5h-2zM113.5,195.94h2v2.5h-2zM113.94,196.58h2v2.5h-2zM114.38,196.61h2v2.5h-2zM114.82,196.91h2v2.5h-2zM115.26,196.99h2v2.5h-2zM115.7,196.63h2v2.5h-2zM116.14,197.64h2v2.5h-2zM116.58,195.19h2v2.5h-2zM117.02,196.79h2v2.5h-2zM117.46,196.26h2v2.5h-2zM117.9,197.06h2v2.5h-2zM118.34,196.97h2v2.5h-2zM118.78,196.12h2v2.5h-2zM119.22,196.32h2v2.5h-2zM119.66,197.4h2v2.5h-2zM120.1,197.07h2v2.5h-2zM120.54,196.3h2v2.5h-2zM120.98,199.88h2v2.5h-2zM121.42,198.54h2v2.5h-2zM121.86,195.72h2v2.5h-2zM122.3,197.04h2v2.5h-2zM122.74,198.7h2v2.5h-2zM123.18,197.4h2v2.5h-2zM123.62,196.98h2v2.5h-2zM124.06,196.66h2v2.5h-2zM124.5,196.41h2v2.5h-2zM124.94,196.66h2v2.5h-2zM125.38,194.42h2v2.5h-2zM125.82,197.38h2v2.5h-2zM126.26,196.52h2v2.5h-2zM126.7,196.49h2v2.5h-2zM127.14,195.92h2v2.5h-2zM127.58,196.79h2v2.5h-2zM128.02,196.15h2v2.5h-2zM128.46,196.69h2v2.5h-2zM128.9,197.61h2v2.5h-2zM129.34,197.1h2v2.5h-2zM129.78,197.2h2v2.5h-2zM130.22,197.09h2v2.5h-2zM130.66,196.87h2v2.5h-2zM131.1,196.73h2v2.5h-2zM131.54,196.59h2v2.5h-2zM131.98,197.39h2v2.5h-2zM132.42,195.33h2v2.5h-2zM132.86,197.83h2v2.5h-2zM133.3,196.85h2v2.5h-2zM133.74,196.26h2v2.5h-2zM134.18,196.46h2v2.5h-2zM134.62,196.32h2v2.5h-2zM135.06,196.94h2v2.5h-2zM135.5,196.28h2v2.5h-2zM135.94,197.68h2v2.5h-2zM136.38,196.24h2v2.5h-2zM136.82,195.12h2v2.5h-2zM137.26,196.27h2v2.5h-2zM137.7,195.31h2v2.5h-2zM138.14,195.02h2v2.5h-2zM138.58,197.61h2v2.5h-2zM139.02,197.3h2v2.5h-2zM139.46,195.81h2v2.5h-2zM139.9,196.24h2v2.5h-2zM140.34,198.15h2v2.5h-2zM140.78,197.05h2v2.5h-2zM141.22,196.81h2v2.5h-2zM141.66,197.6h2v2.5h-2zM142.1,198.65h2v2.5h-2zM142.54,197.78h2v2.5h-2zM142.98,196.3h2v2.5h-2zM143.42,197.07h2v2.5h-2zM143.86,197.26h2v2.5h-2zM144.3,196.34h2v2.5h-2zM144.74,196h2v2.5h-2zM145.18,196.56h2v2.5h-2zM145.62,196.08h2v2.5h-2zM146.06,196.74h2v2.5h-2zM146.5,196.86h2v2.5h-2zM146.94,199.08h2v2.5h-2zM147.38,196.14h2v2.5h-2zM147.82,196.68h2v2.5h-2zM148.26,196.65h2v2.5h-2zM148.7,197.1h2v2.5h-2zM149.14,197.55h2v2.5h-2zM149.58,196.39h2v2.5h-2zM150.02,196.14h2v2.5h-2zM150.46,195.52h2v2.5h-2zM150.9,196.05h2v2.5h-2zM151.34,197.14h2v2.5h-2zM151.78,196.77h2v2.5h-2zM152.22,197.76h2v2.5h-2zM152.66,196.44h2v2.5h-2zM153.1,196.74h2v2.5h-2zM153.54,197.09h2v2.5h-2zM153.98,196.26h2v2.5h-2zM154.42,196.51h2v2.5h-2zM154.86,195.32h2v2.5h-2zM155.3,197.3h2v2.5h-2zM155.74,197.88h2v2.5h-2zM156.18,195.02h2v2.5h-2zM156.62,196.39h2v2.5h-2zM157.06,196.8h2v2.5h-2zM157.5,196.34h2v2.5h-2zM157.94,196.01h2v2.5h-2zM158.38,196.55h2v2.5h-2zM158.82,196.58h2v2.5h-2zM159.26,196.51h2v2.5h-2zM159.7,195.14h2v2.5h-2zM160.14,195.95h2v2.5h-2zM160.58,195.87h2v2.5h-2zM161.02,196.08h2v2.5h-2zM161.46,196.64h2v2.5h-2zM161.9,196.92h2v2.5h-2zM162.34,197.09h2v2.5h-2zM162.78,196.01h2v2.5h-2zM163.22,197.03h2v2.5h-2zM163.66,197.17h2v2.5h-2zM164.1,197.09h2v2.5h-2zM164.54,197.22h2v2.5h-2zM164.98,195.99h2v2.5h-2zM165.42,195.88h2v2.5h-2zM165.86,196.51h2v2.5h-2zM166.3,194.73h2v2.5h-2zM166.74,195.74h2v2.5h-2zM167.18,194.98h2v2.5h-2zM167.62,194.85h2v2.5h-2zM168.06,193.51h2v2.5h-2zM168.5,193.79h2v2.5h-2zM168.94,194h2v2.5h-2zM169.38,194.18h2v2.5h-2zM169.82,193.66h2v2.5h-2zM170.26,192.18h2v2.5h-2zM170.7,191.33h2v2.5h-2zM171.14,189.98h2v2.5h-2zM171.58,189.86h2v2.5h-2zM172.02,188.44h2v2.5h-2zM172.46,187.98h2v2.5h-2zM172.9,189.35h2v2.5h-2zM173.34,185.15h2v2.5h-2zM173.78,182.86h2v2.5h-2zM174.22,182.16h2v2.5h-2zM174.66,181.11h2v2.5h-2zM175.1,179.78h2v2.5h-2zM175.54,180.79h2v2.5h-2zM175.98,179.29h2v2.5h-2zM176.42,177.52h2v2.5h-2zM176.86,178.93h2v2.5h-2zM177.3,179.43h2v2.5h-2zM177.74,178.5h2v2.5h-2zM178.18,178.77h2v2.5h-2zM178.62,179.73h2v2.5h-2zM179.06,181.06h2v2.5h-2zM179.5,182.31h2v2.5h-2zM179.94,183.8h2v2.5h-2zM180.38,184.95h2v2.5h-2zM180.82,186.53h2v2.5h-2zM181.26,187.35h2v2.5h-2zM181.7,187.93h2v2.5h-2zM182.14,187.35h2v2.5h-2zM182.58,189.4h2v2.5h-2zM183.02,190.66h2v2.5h-2zM183.46,190.98h2v2.5h-2zM183.9,192.71h2v2.5h-2zM184.34,192.44h2v2.5h-2zM184.78,192.61h2v2.5h-2zM185.22,194.91h2v2.5h-2zM185.66,194.77h2v2.5h-2zM186.1,194.82h2v2.5h-2zM186.54,195.67h2v2.5h-2zM186.98,196.04h2v2.5h-2zM187.42,195.72h2v2.5h-2zM187.86,193.81h2v2.5h-2zM188.3,195.3h2v2.5h-2zM188.74,195.59h2v2.5h-2zM189.18,195.3h2v2.5h-2zM189.62,196.27h2v2.5h-2zM190.06,197.09h2v2.5h-2zM190.5,195.89h2v2.5h-2zM190.94,195.46h2v2.5h-2zM191.38,197.87h2v2.5h-2zM191.82,195.88h2v2.5h-2zM192.26,195.5h2v2.5h-2zM192.7,196.63h2v2.5h-2zM193.14,196.8h2v2.5h-2zM193.58,195.97h2v2.5h-2zM194.02,197.12h2v2.5h-2zM194.46,196.18h2v2.5h-2zM194.9,196.02h2v2.5h-2zM195.34,196.71h2v2.5h-2zM195.78,197.17h2v2.5h-2zM196.22,196.13h2v2.5h-2zM196.66,196.87h2v2.5h-2zM197.1,196.57h2v2.5h-2zM197.54,198.77h2v2.5h-2zM197.98,196.13h2v2.5h-2zM198.42,197.71h2v2.5h-2zM198.86,196.64h2v2.5h-2z" fill="#2ec52e"/>
<path d="M47.5,231.39h2v2.5h-2zM47.94,235.55h2v2.5h-2zM48.38,233.49h2v2.5h-2zM48.82,233.38h2v2.5h-2zM49.26,231.65h2v2.5h-2zM49.7,231.29h2v2.5h-2zM50.14,231.72h2v2.5h-2zM50.58,233.65h2v2.5h-2zM51.02,230.95h2v2.5h-2zM51.46,232.23h2v2.5h-2zM51.9,231.18h2v2.5h-2zM52.34,231.23h2v2.5h-2zM52.78,232.92h2v2.5h-2zM53.22,231.63h2v2.5h-2zM53.66,232.11h2v2.5h-2zM54.1,232.66h2v2.5h-2zM54.54,232.8h2v2.5h-2zM54.98,231.87h2v2.5h-2zM55.42,232.16h2v2.5h-2zM55.86,232.02h2v2.5h-2zM56.3,233.5h2v2.5h-2zM56.74,232.61h2v2.5h-2zM57.18,231.19h2v2.5h-2zM57.62,232.06h2v2.5h-2zM58.06,232.61h2v2.5h-2zM58.5,235.69h2v2.5h-2zM58.94,233.47h2v2.5h-2zM59.38,233.09h2v2.5h-2zM59.82,231.54h2v2.5h-2zM60.26,231.87h2v2.5h-2zM60.7,230.9h2v2.5h-2zM61.14,232.1h2v2.5h-2zM61.58,231.99h2v2.5h-2zM62.02,234h2v2.5h-2zM62.46,231.89h2v2.5h-2zM62.9,230.1h2v2.5h-2zM63.34,231.2h2v2.5h-2zM63.78,231.79h2v2.5h-2zM64.22,230.65h2v2.5h-2zM64.66,230.91h2v2.5h-2zM65.1,231.26h2v2.5h-2zM65.54,231.77h2v2.5h-2zM65.98,231.29h2v2.5h-2zM66.42,230.64h2v2.5h-2zM66.86,231.88h2v2.5h-2zM67.3,229.08h2v2.5h-2zM67.74,230.61h2v2.5h-2zM68.18,229.74h2v2.5h-2zM68.62,230.01h2v2.5h-2zM69.06,230.91h2v2.5h-2zM69.5,228.77h2v2.5h-2zM69.94,229.61h2v2.5h-2zM70.38,229.73h2v2.5h-2zM70.82,228.23h2v2.5h-2zM71.26,227.94h2v2.5h-2zM71.7,225.9h2v2.5h-2zM72.14,226.69h2v2.5h-2zM72.58,225.16h2v2.5h-2zM73.02,222.86h2v2.5h-2zM73.46,219.43h2v2.5h-2zM73.9,217.91h2v2.5h-2zM74.34,217.22h2v2.5h-2zM74.78,215.3h2v2.5h-2zM75.22,211.51h2v2.5h-2zM75.66,209.51h2v2.5h-2zM76.1,205.27h2v2.5h-2zM76.54,202.92h2v2.5h-2zM76.98,200.6h2v2.5h-2zM77.42,198.78h2v2.5h-2zM77.86,195.52h2v2.5h-2zM78.3,196.38h2v2.5h-2zM78.74,196.22h2v2.5h-2zM79.18,194.46h2v2.5h-2zM79.62,195.12h2v2.5h-2zM80.06,197.87h2v2.5h-2zM80.5,198.91h2v2.5h-2zM80.94,199.73h2v2.5h-2zM81.38,204.71h2v2.5h-2zM81.82,206.75h2v2.5h-2zM82.26,208.86h2v2.5h-2zM82.7,213.51h2v2.5h-2zM83.14,214.4h2v2.5h-2zM83.58,216.01h2v2.5h-2zM84.02,218.84h2v2.5h-2zM84.46,219.86h2v2.5h-2zM84.9,221.8h2v2.5h-2zM85.34,224.22h2v2.5h-2zM85.78,224.76h2v2.5h-2zM86.22,225.94h2v2.5h-2zM86.66,228.55h2v2.5h-2zM87.1,228.66h2v2.5h-2zM87.54,229.23h2v2.5h-2zM87.98,229.51h2v2.5h-2zM88.42,229.88h2v2.5h-2zM88.86,230.98h2v2.5h-2zM89.3,230.06h2v2.5h-2zM89.74,231.77h2v2.5h-2zM90.18,229.69h2v2.5h-2zM90.62,230.39h2v2.5h-2zM91.06,229.6h2v2.5h-2zM91.5,230.52h2v2.5h-2zM91.94,231.3h2v2.5h-2zM92.38,232.11h2v2.5h-2zM92.82,230.48h2v2.5h-2zM93.26,231.07h2v2.5h-2zM93.7,230.83h2v2.5h-2zM94.14,230.57h2v2.5h-2zM94.58,230.25h2v2.5h-2zM95.02,231.28h2v2.5h-2zM95.46,229.88h2v2.5h-2zM95.9,231.39h2v2.5h-2zM96.34,231.35h2v2.5h-2zM96.78,230.83h2v2.5h-2zM97.22,230.58h2v2.5h-2zM97.66,230.3h2v2.5h-2zM98.1,232.93h2v2.5h-2zM98.54,228.87h2v2.5h-2zM98.98,232.72h2v2.5h-2zM99.42,231.97h2v2.5h-2zM99.86,231.22h2v2.5h-2zM100.3,229.62h2v2.5h-2zM100.74,232.37h2v2.5h-2zM101.18,232.94h2v2.5h-2zM101.62,230.82h2v2.5h-2zM102.06,231.34h2v2.5h-2zM102.5,232.43h2v2.5h-2zM102.94,231.87h2v2.5h-2zM103.38,233.21h2v2.5h-2zM103.82,231.17h2v2.5h-2zM104.26,232.07h2v2.5h-2zM104.7,230.64h2v2.5h-2zM105.14,236.15h2v2.5h-2zM105.58,231.08h2v2.5h-2zM106.02,229.9h2v2.5h-2zM106.46,231.58h2v2.5h-2zM106.9,231.57h2v2.5h-2zM107.34,233.22h2v2.5h-2zM107.78,231.43h2v2.5h-2zM108.22,231.69h2v2.5h-2zM108.66,232.19h2v2.5h-2zM109.1,232.99h2v2.5h-2zM109.54,231.67h2v2.5h-2zM109.98,232.56h2v2.5h-2zM110.42,232.15h2v2.5h-2zM110.86,233.43h2v2.5h-2zM111.3,231.8h2v2.5h-2zM111.74,231.77h2v2.5h-2zM112.18,231.02h2v2.5h-2zM112.62,232.73h2v2.5h-2zM113.06,230.65h2v2.5h-2zM113.5,232.7h2v2.5h-2zM113.94,232.53h2v2.5h-2zM114.38,231.69h2v2.5h-2zM114.82,231.16h2v2.5h-2zM115.26,231.59h2v2.5h-2zM115.7,232.16h2v2.5h-2zM116.14,232.38h2v2.5h-2zM116.58,229.63h2v2.5h-2zM117.02,232.58h2v2.5h-2zM117.46,231.34h2v2.5h-2zM117.9,231.98h2v2.5h-2zM118.34,230.54h2v2.5h-2zM118.78,232.41h2v2.5h-2zM119.22,231.92h2v2.5h-2zM119.66,231.47h2v2.5h-2zM120.1,232.73h2v2.5h-2zM120.54,232.36h2v2.5h-2zM120.98,229.55h2v2.5h-2zM121.42,231.84h2v2.5h-2zM121.86,230.64h2v2.5h-2zM122.3,232.66h2v2.5h-2zM122.74,233.8h2v2.5h-2zM123.18,231.4h2v2.5h-2zM123.62,231.87h2v2.5h-2zM124.06,231.62h2v2.5h-2zM124.5,232.1h2v2.5h-2zM124.94,232.13h2v2.5h-2zM125.38,232.85h2v2.5h-2zM125.82,231.03h2v2.5h-2zM126.26,233.08h2v2.5h-2zM126.7,231.08h2v2.5h-2zM127.14,232.04h2v2.5h-2zM127.58,232.68h2v2.5h-2zM128.02,232.39h2v2.5h-2zM128.46,231.07h2v2.5h-2zM128.9,231.26h2v2.5h-2zM129.34,231.46h2v2.5h-2zM129.78,231.79h2v2.5h-2zM130.22,232.74h2v2.5h-2zM130.66,230.79h2v2.5h-2zM131.1,232.2h2v2.5h-2zM131.54,232.32h2v2.5h-2zM131.98,232.27h2v2.5h-2zM132.42,231.56h2v2.5h-2zM132.86,233.04h2v2.5h-2zM133.3,232.22h2v2.5h-2zM133.74,232.51h2v2.5h-2zM134.18,232.18h2v2.5h-2zM134.62,233.26h2v2.5h-2zM135.06,230.31h2v2.5h-2zM135.5,232.85h2v2.5h-2zM135.94,231.62h2v2.5h-2zM136.38,231.6h2v2.5h-2zM136.82,231.05h2v2.5h-2zM137.26,230.33h2v2.5h-2zM137.7,231.52h2v2.5h-2zM138.14,231.28h2v2.5h-2zM138.58,232.22h2v2.5h-2zM139.02,230.65h2v2.5h-2zM139.46,232.97h2v2.5h-2zM139.9,232.04h2v2.5h-2zM140.34,231.62h2v2.5h-2zM140.78,231.25h2v2.5h-2zM141.22,231.19h2v2.5h-2zM141.66,230.91h2v2.5h-2zM142.1,231.38h2v2.5h-2zM142.54,231.82h2v2.5h-2zM142.98,231.67h2v2.5h-2zM143.42,230.68h2v2.5h-2zM143.86,231.6h2v2.5h-2zM144.3,231.09h2v2.5h-2zM144.74,231.94h2v2.5h-2zM145.18,233.3h2v2.5h-2zM145.62,232.3h2v2.5h-2zM146.06,231.55h2v2.5h-2zM146.5,230.5h2v2.5h-2zM146.94,230.67h2v2.5h-2zM147.38,230.45h2v2.5h-2zM147.82,232.37h2v2.5h-2zM148.26,231.18h2v2.5h-2zM148.7,231.84h2v2.5h-2zM149.14,231.29h2v2.5h-2zM149.58,231.85h2v2.5h-2zM150.02,232.9h2v2.5h-2zM150.46,231.23h2v2.5h-2zM150.9,231.5h2v2.5h-2zM151.34,231.12h2v2.5h-2zM151.78,232.46h2v2.5h-2zM152.22,230.94h2v2.5h-2zM152.66,230.85h2v2.5h-2zM153.1,230.64h2v2.5h-2zM153.54,230.62h2v2.5h-2zM153.98,232.11h2v2.5h-2zM154.42,233.79h2v2.5h-2zM154.86,230.93h2v2.5h-2zM155.3,232.48h2v2.5h-2zM155.74,231.91h2v2.5h-2zM156.18,230.83h2v2.5h-2zM156.62,232.08h2v2.5h-2zM157.06,231.51h2v2.5h-2zM157.5,231.13h2v2.5h-2zM157.94,233.22h2v2.5h-2zM158.38,230.14h2v2.5h-2zM158.82,231.96h2v2.5h-2zM159.26,231.91h2v2.5h-2zM159.7,231.17h2v2.5h-2zM160.14,231.74h2v2.5h-2zM160.58,233.34h2v2.5h-2zM161.02,231.72h2v2.5h-2zM161.46,231.92h2v2.5h-2zM161.9,232.12h2v2.5h-2zM162.34,229.92h2v2.5h-2zM162.78,232.71h2v2.5h-2zM163.22,234.71h2v2.5h-2zM163.66,232.28h2v2.5h-2zM164.1,232.28h2v2.5h-2zM164.54,230.32h2v2.5h-2zM164.98,231.32h2v2.5h-2zM165.42,230.73h2v2.5h-2zM165.86,230.88h2v2.5h-2zM166.3,232.08h2v2.5h-2zM166.74,230.61h2v2.5h-2zM167.18,231.09h2v2.5h-2zM167.62,229.6h2v2.5h-2zM168.06,230.91h2v2.5h-2zM168.5,231.01h2v2.5h-2zM168.94,230.76h2v2.5h-2zM169.38,227.81h2v2.5h-2zM169.82,231.99h2v2.5h-2zM170.26,229.28h2v2.5h-2zM170.7,229.13h2v2.5h-2zM171.14,228.99h2v2.5h-2zM171.58,230.2h2v2.5h-2zM172.02,230.45h2v2.5h-2zM172.46,227.43h2v2.5h-2zM172.9,227.01h2v2.5h-2zM173.34,226.5h2v2.5h-2zM173.78,226.87h2v2.5h-2zM174.22,224.36h2v2.5h-2zM174.66,225.24h2v2.5h-2zM175.1,224.11h2v2.5h-2zM175.54,222.72h2v2.5h-2zM175.98,221.09h2v2.5h-2zM176.42,219.92h2v2.5h-2zM176.86,219.3h2v2.5h-2zM177.3,215.99h2v2.5h-2zM177.74,216.62h2v2.5h-2zM178.18,214.33h2v2.5h-2zM178.62,213.08h2v2.5h-2zM179.06,213.14h2v2.5h-2zM179.5,212.44h2v2.5h-2zM179.94,210.39h2v2.5h-2zM180.38,211.25h2v2.5h-2zM180.82,212.12h2v2.5h-2zM181.26,214.61h2v2.5h-2zM181.7,215.79h2v2.5h-2zM182.14,215.68h2v2.5h-2zM182.58,217.17h2v2.5h-2zM183.02,216.95h2v2.5h-2zM183.46,218.5h2v2.5h-2zM183.9,220h2v2.5h-2zM184.34,221.4h2v2.5h-2zM184.78,221.34h2v2.5h-2zM185.22,223.32h2v2.5h-2zM185.66,224.02h2v2.5h-2zM186.1,224.39h2v2.5h-2zM186.54,226.42h2v2.5h-2zM186.98,226.69h2v2.5h-2zM187.42,228.42h2v2.5h-2zM187.86,228.21h2v2.5h-2zM188.3,228.51h2v2.5h-2zM188.74,229.77h2v2.5h-2zM189.18,229.46h2v2.5h-2zM189.62,229.39h2v2.5h-2zM190.06,229.88h2v2.5h-2zM190.5,231.03h2v2.5h-2zM190.94,231.13h2v2.5h-2zM191.38,231.8h2v2.5h-2zM191.82,229.55h2v2.5h-2zM192.26,230.69h2v2.5h-2zM192.7,230.77h2v2.5h-2zM193.14,231.31h2v2.5h-2zM193.58,230.87h2v2.5h-2zM194.02,230.87h2v2.5h-2zM194.46,231.96h2v2.5h-2zM194.9,231.51h2v2.5h-2zM195.34,230.47h2v2.5h-2zM195.78,232.5h2v2.5h-2zM196.22,232.26h2v2.5h-2zM196.66,231.4h2v2.5h-2zM197.1,232.17h2v2.5h-2zM197.54,230.94h2v2.5h-2zM197.98,232.45h2v2.5h-2zM198.42,231.39h2v2.5h-2zM198.86,230.94h2v2.5h-2z" fill="#f51d1d"/>
<path d="M47.5,259.39h2v2.4h-2zM47.94,261.07h2v2.4h-2zM48.38,260.78h2v2.4h-2zM48.82,260.59h2v2.4h-2zM49.26,261.06h2v2.4h-2zM49.7,261.33h2v2.4h-2zM50.14,258.89h2v2.4h-2zM50.58,260.5h2v2.4h-2zM51.02,260.02h2v2.4h-2zM51.46,259.64h2v2.4h-2zM51.9,260.25h2v2.4h-2zM52.34,260.62h2v2.4h-2zM52.78,261.73h2v2.4h-2zM53.22,259.39h2v2.4h-2zM53.66,260.25h2v2.4h-2zM54.1,262.48h2v2.4h-2zM54.54,259.71h2v2.4h-2zM54.98,259.12h2v2.4h-2zM55.42,260.87h2v2.4h-2zM55.86,261.14h2v2.4h-2zM56.3,260.95h2v2.4h-2zM56.74,264.17h2v2.4h-2zM57.18,261.43h2v2.4h-2zM57.62,259.8h2v2.4h-2zM58.06,259.46h2v2.4h-2zM58.5,259.91h2v2.4h-2zM58.94,259.24h2v2.4h-2zM59.38,261.04h2v2.4h-2zM59.82,260.92h2v2.4h-2zM60.26,260.3h2v2.4h-2zM60.7,261.12h2v2.4h-2zM61.14,260.31h2v2.4h-2zM61.58,260.99h2v2.4h-2zM62.02,258.86h2v2.4h-2zM62.46,258.65h2v2.4h-2zM62.9,260.69h2v2.4h-2zM63.34,258.65h2v2.4h-2zM63.78,259.53h2v2.4h-2zM64.22,259.6h2v2.4h-2zM64.66,259.11h2v2.4h-2zM65.1,258.97h2v2.4h-2zM65.54,260.42h2v2.4h-2zM65.98,256.63h2v2.4h-2zM66.42,259.39h2v2.4h-2zM66.86,260.28h2v2.4h-2zM67.3,257.78h2v2.4h-2zM67.74,257.18h2v2.4h-2zM68.18,257.18h2v2.4h-2zM68.62,258.77h2v2.4h-2zM69.06,253.71h2v2.4h-2zM69.5,253.77h2v2.4h-2zM69.94,252.25h2v2.4h-2zM70.38,251.49h2v2.4h-2zM70.82,252.02h2v2.4h-2zM71.26,248.18h2v2.4h-2zM71.7,245.26h2v2.4h-2zM72.14,243.59h2v2.4h-2zM72.58,240.74h2v2.4h-2zM73.02,238.47h2v2.4h-2zM73.46,236.63h2v2.4h-2zM73.9,234.34h2v2.4h-2zM74.34,231.22h2v2.4h-2zM74.78,231.67h2v2.4h-2zM75.22,228.36h2v2.4h-2zM75.66,225.8h2v2.4h-2zM76.1,227h2v2.4h-2zM76.54,224.77h2v2.4h-2zM76.98,227.35h2v2.4h-2zM77.42,222.9h2v2.4h-2zM77.86,226.85h2v2.4h-2zM78.3,228.01h2v2.4h-2zM78.74,228.9h2v2.4h-2zM79.18,231.28h2v2.4h-2zM79.62,235.08h2v2.4h-2zM80.06,233.37h2v2.4h-2zM80.5,237.62h2v2.4h-2zM80.94,240.14h2v2.4h-2zM81.38,240.94h2v2.4h-2zM81.82,242.71h2v2.4h-2zM82.26,247.82h2v2.4h-2zM82.7,247.35h2v2.4h-2zM83.14,251.22h2v2.4h-2zM83.58,251.33h2v2.4h-2zM84.02,252.25h2v2.4h-2zM84.46,253.8h2v2.4h-2zM84.9,254.97h2v2.4h-2zM85.34,256.35h2v2.4h-2zM85.78,256.44h2v2.4h-2zM86.22,256.82h2v2.4h-2zM86.66,257.39h2v2.4h-2zM87.1,258.03h2v2.4h-2zM87.54,258.79h2v2.4h-2zM87.98,257.46h2v2.4h-2zM88.42,258.04h2v2.4h-2zM88.86,259.12h2v2.4h-2zM89.3,253.52h2v2.4h-2zM89.74,258.8h2v2.4h-2zM90.18,258.4h2v2.4h-2zM90.62,259.13h2v2.4h-2zM91.06,260.25h2v2.4h-2zM91.5,260.42h2v2.4h-2zM91.94,259.6h2v2.4h-2zM92.38,261.51h2v2.4h-2zM92.82,259.63h2v2.4h-2zM93.26,262.62h2v2.4h-2zM93.7,260.68h2v2.4h-2zM94.14,260.27h2v2.4h-2zM94.58,259.41h2v2.4h-2zM95.02,257.35h2v2.4h-2zM95.46,259.78h2v2.4h-2zM95.9,260.11h2v2.4h-2zM96.34,262.36h2v2.4h-2zM96.78,258.76h2v2.4h-2zM97.22,261.74h2v2.4h-2zM97.66,259.82h2v2.4h-2zM98.1,260.72h2v2.4h-2zM98.54,257.8h2v2.4h-2zM98.98,260.23h2v2.4h-2zM99.42,259.81h2v2.4h-2zM99.86,260.75h2v2.4h-2zM100.3,260.23h2v2.4h-2zM100.74,259.14h2v2.4h-2zM101.18,261.03h2v2.4h-2zM101.62,260.01h2v2.4h-2zM102.06,260.74h2v2.4h-2zM102.5,261.12h2v2.4h-2zM102.94,261.22h2v2.4h-2zM103.38,260.22h2v2.4h-2zM103.82,259.03h2v2.4h-2zM104.26,259.01h2v2.4h-2zM104.7,261.48h2v2.4h-2zM105.14,260.92h2v2.4h-2zM105.58,261.05h2v2.4h-2zM106.02,259.9h2v2.4h-2zM106.46,260.33h2v2.4h-2zM106.9,260.33h2v2.4h-2zM107.34,259.71h2v2.4h-2zM107.78,259.69h2v2.4h-2zM108.22,262.28h2v2.4h-2zM108.66,260.54h2v2.4h-2zM109.1,262.31h2v2.4h-2zM109.54,259.17h2v2.4h-2zM109.98,259.7h2v2.4h-2zM110.42,261h2v2.4h-2zM110.86,261.04h2v2.4h-2zM111.3,260.17h2v2.4h-2zM111.74,260.42h2v2.4h-2zM112.18,260.1h2v2.4h-2zM112.62,259.38h2v2.4h-2zM113.06,261.56h2v2.4h-2zM113.5,260.72h2v2.4h-2zM113.94,262.62h2v2.4h-2zM114.38,258.87h2v2.4h-2zM114.82,260.27h2v2.4h-2zM115.26,261.2h2v2.4h-2zM115.7,260.18h2v2.4h-2zM116.14,259.16h2v2.4h-2zM116.58,259.56h2v2.4h-2zM117.02,260.5h2v2.4h-2zM117.46,260.73h2v2.4h-2zM117.9,260.33h2v2.4h-2zM118.34,261.32h2v2.4h-2zM118.78,261.32h2v2.4h-2zM119.22,260.72h2v2.4h-2zM119.66,260.45h2v2.4h-2zM120.1,260.2h2v2.4h-2zM120.54,260.93h2v2.4h-2zM120.98,261.26h2v2.4h-2zM121.42,260.49h2v2.4h-2zM121.86,259.92h2v2.4h-2zM122.3,260.15h2v2.4h-2zM122.74,259.17h2v2.4h-2zM123.18,259.54h2v2.4h-2zM123.62,261.13h2v2.4h-2zM124.06,260.85h2v2.4h-2zM124.5,261.88h2v2.4h-2zM124.94,260.5h2v2.4h-2zM125.38,261.23h2v2.4h-2zM125.82,261.64h2v2.4h-2zM126.26,261.35h2v2.4h-2zM126.7,259.9h2v2.4h-2zM127.14,260.29h2v2.4h-2zM127.58,260.57h2v2.4h-2zM128.02,258.49h2v2.4h-2zM128.46,260.88h2v2.4h-2zM128.9,261.38h2v2.4h-2zM129.34,260.02h2v2.4h-2zM129.78,262.23h2v2.4h-2zM130.22,260.19h2v2.4h-2zM130.66,260.27h2v2.4h-2zM131.1,260.24h2v2.4h-2zM131.54,259.82h2v2.4h-2zM131.98,258.36h2v2.4h-2zM132.42,260.47h2v2.4h-2zM132.86,261.95h2v2.4h-2zM133.3,261.4h2v2.4h-2zM133.74,260.94h2v2.4h-2zM134.18,260.26h2v2.4h-2zM134.62,259.18h2v2.4h-2zM135.06,260.38h2v2.4h-2zM135.5,259.69h2v2.4h-2zM135.94,261.31h2v2.4h-2zM136.38,260.43h2v2.4h-2zM136.82,261.95h2v2.4h-2zM137.26,261.11h2v2.4h-2zM137.7,261.2h2v2.4h-2zM138.14,260.66h2v2.4h-2zM138.58,260.64h2v2.4h-2zM139.02,261.04h2v2.4h-2zM139.46,261.28h2v2.4h-2zM139.9,259.81h2v2.4h-2zM140.34,260.89h2v2.4h-2zM140.78,262.8h2v2.4h-2zM141.22,260.36h2v2.4h-2zM141.66,260.21h2v2.4h-2zM142.1,259.82h2v2.4h-2zM142.54,259.14h2v2.4h-2zM142.98,261.51h2v2.4h-2zM143.42,260.49h2v2.4h-2zM143.86,260.7h2v2.4h-2zM144.3,262.09h2v2.4h-2zM144.74,262.69h2v2.4h-2zM145.18,259.63h2v2.4h-2zM145.62,261.37h2v2.4h-2zM146.06,260.98h2v2.4h-2zM146.5,260.78h2v2.4h-2zM146.94,260.85h2v2.4h-2zM147.38,260.39h2v2.4h-2zM147.82,261.84h2v2.4h-2zM148.26,260.96h2v2.4h-2zM148.7,260.71h2v2.4h-2zM149.14,261.52h2v2.4h-2zM149.58,261.2h2v2.4h-2zM150.02,260.81h2v2.4h-2zM150.46,260.68h2v2.4h-2zM150.9,261.96h2v2.4h-2zM151.34,260.84h2v2.4h-2zM151.78,260.29h2v2.4h-2zM152.22,259.6h2v2.4h-2zM152.66,260.05h2v2.4h-2zM153.1,259.41h2v2.4h-2zM153.54,260.45h2v2.4h-2zM153.98,260.92h2v2.4h-2zM154.42,258.49h2v2.4h-2zM154.86,260.35h2v2.4h-2zM155.3,258.58h2v2.4h-2zM155.74,260.46h2v2.4h-2zM156.18,259.45h2v2.4h-2zM156.62,261.44h2v2.4h-2zM157.06,259.66h2v2.4h-2zM157.5,258.27h2v2.4h-2zM157.94,259.29h2v2.4h-2zM158.38,260.24h2v2.4h-2zM158.82,261.12h2v2.4h-2zM159.26,261.27h2v2.4h-2zM159.7,260.4h2v2.4h-2zM160.14,259.12h2v2.4h-2zM160.58,259.59h2v2.4h-2zM161.02,259.35h2v2.4h-2zM161.46,259.98h2v2.4h-2zM161.9,258.52h2v2.4h-2zM162.34,260.19h2v2.4h-2zM162.78,260.65h2v2.4h-2zM163.22,259.05h2v2.4h-2zM163.66,260.41h2v2.4h-2zM164.1,259.11h2v2.4h-2zM164.54,258.6h2v2.4h-2zM164.98,259.28h2v2.4h-2zM165.42,260.83h2v2.4h-2zM165.86,260.64h2v2.4h-2zM166.3,259.21h2v2.4h-2zM166.74,260.59h2v2.4h-2zM167.18,259.09h2v2.4h-2zM167.62,260.58h2v2.4h-2zM168.06,259.47h2v2.4h-2zM168.5,258.41h2v2.4h-2zM168.94,259.27h2v2.4h-2zM169.38,257.55h2v2.4h-2zM169.82,257.04h2v2.4h-2zM170.26,256.17h2v2.4h-2zM170.7,257.23h2v2.4h-2zM171.14,256.41h2v2.4h-2zM171.58,255.79h2v2.4h-2zM172.02,254.82h2v2.4h-2zM172.46,255.74h2v2.4h-2zM172.9,253.3h2v2.4h-2zM173.34,252.13h2v2.4h-2zM173.78,252.99h2v2.4h-2zM174.22,252.19h2v2.4h-2zM174.66,250.23h2v2.4h-2zM175.1,247.35h2v2.4h-2zM175.54,247.38h2v2.4h-2zM175.98,247.5h2v2.4h-2zM176.42,247.35h2v2.4h-2zM176.86,246.59h2v2.4h-2zM177.3,243.23h2v2.4h-2zM177.74,245.75h2v2.4h-2zM178.18,242.85h2v2.4h-2zM178.62,244.34h2v2.4h-2zM179.06,243.01h2v2.4h-2zM179.5,242.07h2v2.4h-2zM179.94,242.9h2v2.4h-2zM180.38,242.67h2v2.4h-2zM180.82,243.54h2v2.4h-2zM181.26,244.71h2v2.4h-2zM181.7,245.15h2v2.4h-2zM182.14,248.04h2v2.4h-2zM182.58,249.1h2v2.4h-2zM183.02,248.12h2v2.4h-2zM183.46,251.83h2v2.4h-2zM183.9,250.67h2v2.4h-2zM184.34,251.09h2v2.4h-2zM184.78,253.9h2v2.4h-2zM185.22,253.72h2v2.4h-2zM185.66,254.67h2v2.4h-2zM186.1,254.6h2v2.4h-2zM186.54,255.42h2v2.4h-2zM186.98,256.19h2v2.4h-2zM187.42,255.77h2v2.4h-2zM187.86,257.6h2v2.4h-2zM188.3,257.78h2v2.4h-2zM188.74,257.34h2v2.4h-2zM189.18,258.03h2v2.4h-2zM189.62,260.07h2v2.4h-2zM190.06,258.04h2v2.4h-2zM190.5,258.28h2v2.4h-2zM190.94,259.07h2v2.4h-2zM191.38,258.79h2v2.4h-2zM191.82,257.7h2v2.4h-2zM192.26,260.13h2v2.4h-2zM192.7,261.29h2v2.4h-2zM193.14,258.21h2v2.4h-2zM193.58,262.37h2v2.4h-2zM194.02,260.06h2v2.4h-2zM194.46,261.78h2v2.4h-2zM194.9,259.84h2v2.4h-2zM195.34,259.74h2v2.4h-2zM195.78,260.98h2v2.4h-2zM196.22,259.68h2v2.4h-2zM196.66,261.36h2v2.4h-2zM197.1,260.15h2v2.4h-2zM197.54,260.27h2v2.4h-2zM197.98,260.03h2v2.4h-2zM198.42,261.1h2v2.4h-2zM198.86,258.37h2v2.4h-2z" fill="#000"/>
<line x1="77.8" y1="153" x2="77.8" y2="262" stroke="#1a1a1a" stroke-width="1.1" stroke-dasharray="1.4 1.3"/>
<line x1="179.5" y1="175" x2="179.5" y2="262" stroke="#1a1a1a" stroke-width="1.1" stroke-dasharray="1.4 1.3"/>
<line x1="76.2" y1="153" x2="76.2" y2="160" stroke="#3b5bd0" stroke-width="0.9" stroke-dasharray="1.2 1.2"/>
<line x1="80" y1="193" x2="80" y2="201" stroke="#3b5bd0" stroke-width="0.9" stroke-dasharray="1.2 1.2"/>
<line x1="178" y1="176" x2="178" y2="183" stroke="#3b5bd0" stroke-width="0.9" stroke-dasharray="1.2 1.2"/>
<line x1="181.2" y1="212" x2="181.2" y2="219" stroke="#3b5bd0" stroke-width="0.9" stroke-dasharray="1.2 1.2"/>
<text transform="translate(51.4,161.2) scale(1,0.9)" font-size="13.5" text-anchor="start" fill="#000" font-family="'Liberation Serif', 'Times New Roman', serif" font-weight="bold" font-style="normal"  stroke="#000" stroke-width="0.25">(d)</text>
<text transform="translate(200,161.6) scale(1,1.12)" font-size="8.9" text-anchor="end" fill="#000" font-family="'Liberation Serif', 'Times New Roman', serif" font-weight="bold" font-style="normal"  stroke="#000" stroke-width="0.25">Zn 2p</text>
<text transform="translate(50.2,173.7) scale(1,1.12)" font-size="6.8" text-anchor="start" fill="#000" font-family="'Liberation Serif', 'Times New Roman', serif" font-weight="bold" font-style="normal"  stroke="#000" stroke-width="0.25">Zn 2p<tspan font-size="4.08" dy="2.04">3/2</tspan></text>
<text transform="translate(81.6,171.2) scale(1,1.12)" font-size="5.8" text-anchor="start" fill="#3a52bd" font-family="'Liberation Serif', 'Times New Roman', serif" font-weight="bold" font-style="normal"  stroke="#3a52bd" stroke-width="0.12">1021.6 eV</text>
<line x1="71.8" y1="176.2" x2="81.7" y2="173.2" stroke="#111" stroke-width="1.0" />
<text transform="translate(107.6,184.8) scale(1,1.12)" font-size="6.9" text-anchor="start" fill="#000" font-family="'Liberation Serif', 'Times New Roman', serif" font-weight="bold" font-style="normal"  stroke="#000" stroke-width="0.25">TiO<tspan font-size="4.14" dy="2.07">2</tspan><tspan dy="-2.07">@ZnIn</tspan><tspan font-size="4.14" dy="2.07">2</tspan><tspan dy="-2.07">S</tspan><tspan font-size="4.14" dy="2.07">4</tspan></text>
<text transform="translate(116.7,193.5) scale(1,1.12)" font-size="6.8" text-anchor="start" fill="#000" font-family="'Liberation Serif', 'Times New Roman', serif" font-weight="bold" font-style="normal"  stroke="#000" stroke-width="0.25">in light</text>
<text transform="translate(150.5,184.4) scale(1,1.12)" font-size="5.8" text-anchor="start" fill="#3a52bd" font-family="'Liberation Serif', 'Times New Roman', serif" font-weight="bold" font-style="normal"  stroke="#3a52bd" stroke-width="0.12">1044.7 eV</text>
<line x1="172" y1="184.5" x2="176.5" y2="190.5" stroke="#111" stroke-width="1.0" />
<text transform="translate(176.9,175.6) scale(1,1.12)" font-size="6.8" text-anchor="start" fill="#000" font-family="'Liberation Serif', 'Times New Roman', serif" font-weight="bold" font-style="normal"  stroke="#000" stroke-width="0.25">Zn 2p<tspan font-size="4.08" dy="2.04">1/2</tspan></text>
<text transform="translate(85.7,208.2) scale(1,1.12)" font-size="5.8" text-anchor="start" fill="#3a52bd" font-family="'Liberation Serif', 'Times New Roman', serif" font-weight="bold" font-style="normal"  stroke="#3a52bd" stroke-width="0.12">1022.4 eV</text>
<line x1="85.5" y1="207" x2="79.5" y2="212" stroke="#111" stroke-width="1.0" />
<text transform="translate(110,226) scale(1,1.12)" font-size="6.9" text-anchor="start" fill="#000" font-family="'Liberation Serif', 'Times New Roman', serif" font-weight="bold" font-style="normal"  stroke="#000" stroke-width="0.25">TiO<tspan font-size="4.14" dy="2.07">2</tspan><tspan dy="-2.07">@ZnIn</tspan><tspan font-size="4.14" dy="2.07">2</tspan><tspan dy="-2.07">S</tspan><tspan font-size="4.14" dy="2.07">4</tspan></text>
<text transform="translate(151.7,214.8) scale(1,1.12)" font-size="5.8" text-anchor="start" fill="#3a52bd" font-family="'Liberation Serif', 'Times New Roman', serif" font-weight="bold" font-style="normal"  stroke="#3a52bd" stroke-width="0.12">1045.5 eV</text>
<line x1="173" y1="214.5" x2="180" y2="219.5" stroke="#111" stroke-width="1.0" />
<text transform="translate(83.1,245.4) scale(1,1.12)" font-size="5.8" text-anchor="start" fill="#3a52bd" font-family="'Liberation Serif', 'Times New Roman', serif" font-weight="bold" font-style="normal"  stroke="#3a52bd" stroke-width="0.12">1022.0 eV</text>
<line x1="83" y1="246" x2="77" y2="250.5" stroke="#111" stroke-width="1.0" />
<text transform="translate(115.6,254.4) scale(1,1.12)" font-size="6.9" text-anchor="start" fill="#000" font-family="'Liberation Serif', 'Times New Roman', serif" font-weight="bold" font-style="normal"  stroke="#000" stroke-width="0.25">ZnIn<tspan font-size="4.14" dy="2.07">2</tspan><tspan dy="-2.07">S</tspan><tspan font-size="4.14" dy="2.07">4</tspan></text>
<text transform="translate(151.7,246.6) scale(1,1.12)" font-size="5.8" text-anchor="start" fill="#3a52bd" font-family="'Liberation Serif', 'Times New Roman', serif" font-weight="bold" font-style="normal"  stroke="#3a52bd" stroke-width="0.12">1045.1 eV</text>
<line x1="172" y1="246" x2="178.8" y2="251.5" stroke="#111" stroke-width="1.0" />
<rect x="216.5" y="150.6" width="155.5" height="121.2" fill="none" stroke="#1a1a1a" stroke-width="1.3"/>
<line x1="216.5" y1="271.8" x2="216.5" y2="274" stroke="#111" stroke-width="1" />
<line x1="262.25" y1="271.8" x2="262.25" y2="274" stroke="#111" stroke-width="1" />
<line x1="308" y1="271.8" x2="308" y2="274" stroke="#111" stroke-width="1" />
<line x1="353.75" y1="271.8" x2="353.75" y2="274" stroke="#111" stroke-width="1" />
<line x1="239.38" y1="271.8" x2="239.38" y2="273.4" stroke="#111" stroke-width="0.9" />
<line x1="285.12" y1="271.8" x2="285.12" y2="273.4" stroke="#111" stroke-width="0.9" />
<line x1="330.88" y1="271.8" x2="330.88" y2="273.4" stroke="#111" stroke-width="0.9" />
<line x1="376.62" y1="271.8" x2="376.62" y2="273.4" stroke="#111" stroke-width="0.9" />
<text transform="translate(216.5,280.8) scale(1,1.12)" font-size="6.3" text-anchor="middle" fill="#111" font-family="'Liberation Sans', Arial, sans-serif" font-weight="bold" font-style="normal"  stroke="#111" stroke-width="0.25">440</text>
<text transform="translate(262.25,280.8) scale(1,1.12)" font-size="6.3" text-anchor="middle" fill="#111" font-family="'Liberation Sans', Arial, sans-serif" font-weight="bold" font-style="normal"  stroke="#111" stroke-width="0.25">445</text>
<text transform="translate(308,280.8) scale(1,1.12)" font-size="6.3" text-anchor="middle" fill="#111" font-family="'Liberation Sans', Arial, sans-serif" font-weight="bold" font-style="normal"  stroke="#111" stroke-width="0.25">450</text>
<text transform="translate(353.75,280.8) scale(1,1.12)" font-size="6.3" text-anchor="middle" fill="#111" font-family="'Liberation Sans', Arial, sans-serif" font-weight="bold" font-style="normal"  stroke="#111" stroke-width="0.25">455</text>
<text transform="translate(294.5,289.2) scale(1,1.12)" font-size="8.9" text-anchor="middle" fill="#111" font-family="'Liberation Serif', 'Times New Roman', serif" font-weight="bold" font-style="normal"  stroke="#111" stroke-width="0.3">Binding energy (eV)</text>
<text x="0" y="0" font-size="9.5" text-anchor="middle" fill="#111" stroke="#111" stroke-width="0.25" font-family="'Liberation Serif', 'Times New Roman', serif" font-weight="bold" transform="translate(211.2,213.8) rotate(-90)">Intensity (a.u.)</text>
<polyline points="217.3,210.39 217.9,210.05 218.5,210.4 219.1,210.46 219.7,210.32 220.3,210.49 220.9,210.25 221.5,210.31 222.1,209.93 222.7,210.28 223.3,210.04 223.9,210.11 224.5,210.18 225.1,210.22 225.7,209.74 226.3,209.73 226.9,210.01 227.5,210.17 228.1,210.11 228.7,210.21 229.3,210.27 229.9,210.03 230.5,209.86 231.1,209.57 231.7,209.54 232.3,209.61 232.9,209.74 233.5,209.67 234.1,209.56 234.7,209.45 235.3,209.58 235.9,209.4 236.5,209.34 237.1,209.26 237.7,208.96 238.3,208.73 238.9,209.01 239.5,208.87 240.1,208.58 240.7,208.38 241.3,208.89 241.9,207.95 242.5,207.87 243.1,207.75 243.7,207.12 244.3,207.11 244.9,207.16 245.5,206.5 246.1,205.91 246.7,205.29 247.3,204.46 247.9,203.83 248.5,202.59 249.1,201.4 249.7,200.24 250.3,198.98 250.9,197.18 251.5,195.42 252.1,192.7 252.7,191.27 253.3,189.15 253.9,186.34 254.5,183.24 255.1,180.34 255.7,177.84 256.3,174.79 256.9,172.64 257.5,170 258.1,168.42 258.7,167.05 259.3,165.3 259.9,165.63 260.5,165.75 261.1,166.54 261.7,168.23 262.3,170.24 262.9,172.8 263.5,174.62 264.1,177.85 264.7,180.73 265.3,182.98 265.9,185.51 266.5,187.79 267.1,189.78 267.7,192.32 268.3,194.22 268.9,196.06 269.5,198.1 270.1,199.03 270.7,200.19 271.3,201.55 271.9,201.75 272.5,202.6 273.1,203.47 273.7,203.98 274.3,204.81 274.9,204.98 275.5,205.85 276.1,206.09 276.7,206.16 277.3,206.09 277.9,206.52 278.5,206.73 279.1,206.4 279.7,206.88 280.3,207.08 280.9,207.05 281.5,207.47 282.1,207.46 282.7,207.02 283.3,207.32 283.9,207.14 284.5,207.54 285.1,207.23 285.7,207.72 286.3,207.62 286.9,207.8 287.5,207.55 288.1,207.25 288.7,208.09 289.3,207.62 289.9,208.03 290.5,207.81 291.1,207.88 291.7,208.18 292.3,207.82 292.9,208.09 293.5,207.37 294.1,207.96 294.7,207.68 295.3,207.71 295.9,207.73 296.5,207.81 297.1,208.13 297.7,207.23 298.3,207.69 298.9,207.48 299.5,207.93 300.1,207.51 300.7,207.7 301.3,207.45 301.9,207.68 302.5,207.73 303.1,207.33 303.7,207.39 304.3,206.97 304.9,207.34 305.5,207.41 306.1,206.98 306.7,207.31 307.3,206.42 307.9,206.37 308.5,206.37 309.1,206.46 309.7,206.43 310.3,206.23 310.9,206.03 311.5,205.99 312.1,205.43 312.7,204.93 313.3,204.58 313.9,205.03 314.5,203.46 315.1,203.49 315.7,203.31 316.3,202.42 316.9,201.35 317.5,200.74 318.1,200.05 318.7,199.14 319.3,197.53 319.9,196.77 320.5,195.38 321.1,194.25 321.7,192.91 322.3,191 322.9,189.2 323.5,188.12 324.1,186.93 324.7,185.15 325.3,183.59 325.9,182.81 326.5,180.77 327.1,180.28 327.7,179.17 328.3,178.86 328.9,178.7 329.5,179.17 330.1,178.95 330.7,179.69 331.3,180.28 331.9,181.84 332.5,182.78 333.1,184.28 333.7,185.25 334.3,186.8 334.9,188.52 335.5,189.57 336.1,191.08 336.7,192.32 337.3,193.29 337.9,194.12 338.5,195.8 339.1,196.56 339.7,197.65 340.3,197.7 340.9,198.51 341.5,199.04 342.1,199.93 342.7,200.92 343.3,201.25 343.9,201.49 344.5,201.87 345.1,202.33 345.7,202.32 346.3,202.71 346.9,202.84 347.5,202.42 348.1,203.02 348.7,203.58 349.3,203.25 349.9,203.4 350.5,203.37 351.1,203.48 351.7,203.94 352.3,203.65 352.9,203.52 353.5,203.04 354.1,203.72 354.7,203.42 355.3,203.49 355.9,204.18 356.5,204.19 357.1,203.57 357.7,204.29 358.3,204.22 358.9,203.93 359.5,204.34 360.1,203.77 360.7,203.9 361.3,203.86 361.9,203.97 362.5,204.48 363.1,203.95 363.7,204.01 364.3,204.08 364.9,204.39 365.5,204.27 366.1,204.58 366.7,204.21 367.3,204.08 367.9,204.29 368.5,204.44 369.1,204.21 369.7,204.52 370.3,204.92 370.9,204.33" fill="none" stroke="#2ec52e" stroke-width="2.8" stroke-linejoin="round" stroke-linecap="round" />
<polyline points="217.3,237.29 217.9,237.6 218.5,237.09 219.1,237.02 219.7,236.95 220.3,237.3 220.9,237.32 221.5,237.13 222.1,237.17 222.7,237.46 223.3,237.34 223.9,236.75 224.5,237.08 225.1,237.09 225.7,237.22 226.3,236.96 226.9,236.83 227.5,236.85 228.1,236.49 228.7,236.91 229.3,236.73 229.9,236.97 230.5,236.57 231.1,236.68 231.7,236.51 232.3,236.45 232.9,236.85 233.5,236.52 234.1,236.71 234.7,236.27 235.3,236.52 235.9,236.03 236.5,236.27 237.1,236.21 237.7,236.42 238.3,236.25 238.9,236.09 239.5,236.26 240.1,236.02 240.7,236.01 241.3,235.96 241.9,235.64 242.5,235.46 243.1,235.47 243.7,235.13 244.3,235.15 244.9,235.13 245.5,234.84 246.1,234.26 246.7,233.73 247.3,233.69 247.9,233.28 248.5,233.13 249.1,232.23 249.7,231.68 250.3,231.24 250.9,230.17 251.5,229.4 252.1,228.9 252.7,227.78 253.3,226.39 253.9,225.01 254.5,223.31 255.1,222.18 255.7,220.45 256.3,218.79 256.9,216.82 257.5,215.11 258.1,213.19 258.7,211.43 259.3,209.86 259.9,207.81 260.5,205.65 261.1,204.35 261.7,202.95 262.3,202.19 262.9,201.91 263.5,201.61 264.1,201.47 264.7,202.15 265.3,202.69 265.9,203.61 266.5,204.94 267.1,206.6 267.7,208.83 268.3,209.9 268.9,212.35 269.5,214.19 270.1,215.62 270.7,217.41 271.3,218.96 271.9,220.73 272.5,222.42 273.1,223.69 273.7,225.25 274.3,226.52 274.9,227.42 275.5,228.42 276.1,229.23 276.7,230.15 277.3,230.51 277.9,231.53 278.5,232.04 279.1,232.27 279.7,233.46 280.3,233.06 280.9,233.41 281.5,233.98 282.1,233.68 282.7,234.19 283.3,234.19 283.9,234.5 284.5,234.85 285.1,235.09 285.7,235.4 286.3,235.43 286.9,235.62 287.5,235.55 288.1,235.36 288.7,235.82 289.3,235.48 289.9,235.5 290.5,236.08 291.1,235.94 291.7,235.84 292.3,236.01 292.9,236.07 293.5,235.54 294.1,235.89 294.7,235.64 295.3,235.98 295.9,235.8 296.5,236.32 297.1,236.13 297.7,235.8 298.3,236.01 298.9,235.72 299.5,236.03 300.1,236.15 300.7,236.08 301.3,235.53 301.9,235.91 302.5,236.11 303.1,236.05 303.7,236.24 304.3,235.61 304.9,236.04 305.5,235.72 306.1,235.9 306.7,235.91 307.3,235.94 307.9,235.58 308.5,235.72 309.1,235.33 309.7,235.2 310.3,235.62 310.9,235.39 311.5,234.91 312.1,235 312.7,235.1 313.3,235.36 313.9,235.08 314.5,234.85 315.1,234.01 315.7,234.21 316.3,234.1 316.9,233.79 317.5,233.46 318.1,232.93 318.7,233 319.3,232.44 319.9,231.51 320.5,230.68 321.1,230.76 321.7,229.36 322.3,228.97 322.9,228.25 323.5,226.56 324.1,225.82 324.7,224.55 325.3,223.59 325.9,222.31 326.5,221.45 327.1,219.82 327.7,218.38 328.3,217.39 328.9,215.82 329.5,214.67 330.1,214.3 330.7,212.68 331.3,212.1 331.9,211.79 332.5,211.31 333.1,211.09 333.7,212.14 334.3,212.16 334.9,212.88 335.5,213.74 336.1,214.53 336.7,215.53 337.3,216.93 337.9,218.6 338.5,219.3 339.1,220.41 339.7,220.93 340.3,222.33 340.9,223.03 341.5,224.45 342.1,225.06 342.7,225.93 343.3,226.63 343.9,227.17 344.5,227.54 345.1,228.6 345.7,228.59 346.3,229.06 346.9,229.66 347.5,229.88 348.1,230.41 348.7,230.84 349.3,230.86 349.9,231.03 350.5,231.15 351.1,231.5 351.7,230.94 352.3,231.6 352.9,231.36 353.5,231.36 354.1,231.74 354.7,231.7 355.3,232 355.9,232.18 356.5,231.37 357.1,231.97 357.7,232.51 358.3,232.27 358.9,232.45 359.5,232.14 360.1,231.79 360.7,231.89 361.3,232.37 361.9,232.46 362.5,232.06 363.1,232.19 363.7,232.35 364.3,231.86 364.9,232.23 365.5,232.74 366.1,232.9 366.7,232.34 367.3,232.84 367.9,232.27 368.5,232.21 369.1,231.87 369.7,232.68 370.3,232.36 370.9,233.05" fill="none" stroke="#f51d1d" stroke-width="2.8" stroke-linejoin="round" stroke-linecap="round" />
<polyline points="217.3,264.03 217.9,263.97 218.5,263.45 219.1,264.25 219.7,263.76 220.3,263.79 220.9,263.25 221.5,264 222.1,263.99 222.7,263.56 223.3,263.7 223.9,263.75 224.5,263.85 225.1,263.6 225.7,263.97 226.3,263.44 226.9,263.31 227.5,263.3 228.1,262.73 228.7,263.12 229.3,263.52 229.9,263.28 230.5,262.95 231.1,263.18 231.7,262.53 232.3,262.89 232.9,263.02 233.5,262.99 234.1,262.54 234.7,262.87 235.3,263.01 235.9,262.33 236.5,262.51 237.1,261.81 237.7,261.58 238.3,262.07 238.9,261.76 239.5,261.62 240.1,261.22 240.7,261.07 241.3,261.09 241.9,261.03 242.5,260.23 243.1,259.52 243.7,259.85 244.3,259.23 244.9,258.74 245.5,258.05 246.1,257.96 246.7,256.7 247.3,256.03 247.9,254.58 248.5,253.96 249.1,252.9 249.7,251.93 250.3,250.81 250.9,249.22 251.5,248.43 252.1,246.22 252.7,244.78 253.3,243.28 253.9,241.17 254.5,239.81 255.1,237.98 255.7,235.87 256.3,234.54 256.9,232.22 257.5,230.47 258.1,228.44 258.7,226.67 259.3,225.51 259.9,224.37 260.5,223.37 261.1,222.99 261.7,221.82 262.3,222.06 262.9,222.15 263.5,223.52 264.1,223.92 264.7,225.06 265.3,226.25 265.9,228.27 266.5,229.58 267.1,231.47 267.7,232.69 268.3,235.3 268.9,236.9 269.5,238.71 270.1,240.6 270.7,241.89 271.3,243.48 271.9,245.2 272.5,246.53 273.1,247.67 273.7,248.96 274.3,249.94 274.9,251.26 275.5,252.25 276.1,252.86 276.7,254.09 277.3,253.91 277.9,254.84 278.5,255.87 279.1,255.81 279.7,255.94 280.3,257.06 280.9,257.17 281.5,257.02 282.1,257.76 282.7,257.53 283.3,257.65 283.9,258.11 284.5,258.18 285.1,258.16 285.7,258.46 286.3,258.4 286.9,258.76 287.5,258.82 288.1,259.08 288.7,258.85 289.3,258.69 289.9,258.74 290.5,259.06 291.1,259.55 291.7,259.42 292.3,259.08 292.9,259.5 293.5,259 294.1,259.57 294.7,259.24 295.3,259.55 295.9,259.52 296.5,259.31 297.1,259.47 297.7,259.12 298.3,259.37 298.9,259.66 299.5,260.42 300.1,259.56 300.7,259.39 301.3,259.1 301.9,259.61 302.5,258.9 303.1,259.09 303.7,259.35 304.3,258.93 304.9,259.58 305.5,259.42 306.1,258.95 306.7,258.9 307.3,258.64 307.9,258.55 308.5,258.92 309.1,258.87 309.7,258.7 310.3,258.55 310.9,258.2 311.5,258.27 312.1,257.62 312.7,257.79 313.3,257.92 313.9,257.61 314.5,256.85 315.1,256.54 315.7,256.58 316.3,256.25 316.9,254.94 317.5,254.67 318.1,254.24 318.7,253.83 319.3,252.6 319.9,252.19 320.5,251.11 321.1,250.87 321.7,249.41 322.3,248.23 322.9,247.1 323.5,246.31 324.1,245.04 324.7,243.39 325.3,242.5 325.9,240.88 326.5,239.83 327.1,238.52 327.7,237.41 328.3,236.56 328.9,235.6 329.5,235.23 330.1,234.72 330.7,234.08 331.3,233.69 331.9,234.2 332.5,233.73 333.1,234.18 333.7,235.45 334.3,236.18 334.9,237.14 335.5,237.82 336.1,238.61 336.7,239.9 337.3,241.31 337.9,242.12 338.5,243.27 339.1,244.21 339.7,245.36 340.3,246.91 340.9,247.82 341.5,248.36 342.1,249.28 342.7,250.24 343.3,251.3 343.9,251.59 344.5,252.5 345.1,252.61 345.7,253.38 346.3,254.3 346.9,254.87 347.5,254.75 348.1,255.21 348.7,255.92 349.3,255.91 349.9,256.13 350.5,256.62 351.1,256.74 351.7,257.14 352.3,257.22 352.9,257.01 353.5,257.25 354.1,257.38 354.7,257.15 355.3,257.34 355.9,257.9 356.5,257.33 357.1,258.05 357.7,257.93 358.3,257.88 358.9,258.1 359.5,258.14 360.1,258.36 360.7,258 361.3,258.08 361.9,258.12 362.5,258.69 363.1,258.49 363.7,258.05 364.3,258.23 364.9,258.16 365.5,258.37 366.1,258.44 366.7,258.99 367.3,257.98 367.9,258.72 368.5,258.59 369.1,258.33 369.7,258.49 370.3,258.42 370.9,258.58" fill="none" stroke="#000" stroke-width="2.9" stroke-linejoin="round" stroke-linecap="round" />
<line x1="261.6" y1="160" x2="261.6" y2="232" stroke="#1a1a1a" stroke-width="1.1" stroke-dasharray="1.4 1.3"/>
<line x1="331.7" y1="172" x2="331.7" y2="240" stroke="#1a1a1a" stroke-width="1.1" stroke-dasharray="1.4 1.3"/>
<line x1="259.6" y1="159" x2="259.6" y2="166" stroke="#3b5bd0" stroke-width="0.9" stroke-dasharray="1.2 1.2"/>
<line x1="264.2" y1="196" x2="264.2" y2="203" stroke="#3b5bd0" stroke-width="0.9" stroke-dasharray="1.2 1.2"/>
<line x1="262" y1="217" x2="262" y2="224" stroke="#3b5bd0" stroke-width="0.9" stroke-dasharray="1.2 1.2"/>
<line x1="329" y1="170" x2="329" y2="178" stroke="#3b5bd0" stroke-width="0.9" stroke-dasharray="1.2 1.2"/>
<line x1="333.6" y1="203" x2="333.6" y2="210" stroke="#3b5bd0" stroke-width="0.9" stroke-dasharray="1.2 1.2"/>
<line x1="330.9" y1="228" x2="330.9" y2="235" stroke="#3b5bd0" stroke-width="0.9" stroke-dasharray="1.2 1.2"/>
<text transform="translate(219.7,162.3) scale(1,0.9)" font-size="13.5" text-anchor="start" fill="#000" font-family="'Liberation Serif', 'Times New Roman', serif" font-weight="bold" font-style="normal"  stroke="#000" stroke-width="0.25">(e)</text>
<text transform="translate(370.2,161.6) scale(1,1.12)" font-size="8.7" text-anchor="end" fill="#000" font-family="'Liberation Serif', 'Times New Roman', serif" font-weight="bold" font-style="normal"  stroke="#000" stroke-width="0.25">In 3d</text>
<text transform="translate(265,164.7) scale(1,1.12)" font-size="6.8" text-anchor="start" fill="#000" font-family="'Liberation Serif', 'Times New Roman', serif" font-weight="bold" font-style="normal"  stroke="#000" stroke-width="0.25">In 3d<tspan font-size="4.08" dy="2.04">5/2</tspan></text>
<text transform="translate(233.3,170.4) scale(1,1.12)" font-size="5.8" text-anchor="start" fill="#3a52bd" font-family="'Liberation Serif', 'Times New Roman', serif" font-weight="bold" font-style="normal"  stroke="#3a52bd" stroke-width="0.12">444.7 eV</text>
<line x1="254.5" y1="169" x2="259" y2="166.5" stroke="#111" stroke-width="1.0" />
<text transform="translate(305.5,174.4) scale(1,1.12)" font-size="6.8" text-anchor="start" fill="#000" font-family="'Liberation Serif', 'Times New Roman', serif" font-weight="bold" font-style="normal"  stroke="#000" stroke-width="0.25">In 3d<tspan font-size="4.08" dy="2.04">3/2</tspan></text>
<text transform="translate(335.8,178.2) scale(1,1.12)" font-size="5.8" text-anchor="start" fill="#3a52bd" font-family="'Liberation Serif', 'Times New Roman', serif" font-weight="bold" font-style="normal"  stroke="#3a52bd" stroke-width="0.12">452.3 eV</text>
<line x1="329.5" y1="182.8" x2="336" y2="179.8" stroke="#111" stroke-width="1.0" />
<text transform="translate(275.5,196.8) scale(1,1.12)" font-size="6.9" text-anchor="start" fill="#000" font-family="'Liberation Serif', 'Times New Roman', serif" font-weight="bold" font-style="normal"  stroke="#000" stroke-width="0.25">TiO<tspan font-size="4.14" dy="2.07">2</tspan><tspan dy="-2.07">@ZnIn</tspan><tspan font-size="4.14" dy="2.07">2</tspan><tspan dy="-2.07">S</tspan><tspan font-size="4.14" dy="2.07">4</tspan></text>
<text transform="translate(285.8,205.7) scale(1,1.12)" font-size="6.8" text-anchor="start" fill="#000" font-family="'Liberation Serif', 'Times New Roman', serif" font-weight="bold" font-style="normal"  stroke="#000" stroke-width="0.25">in light</text>
<text transform="translate(235.3,214.6) scale(1,1.12)" font-size="5.8" text-anchor="start" fill="#3a52bd" font-family="'Liberation Serif', 'Times New Roman', serif" font-weight="bold" font-style="normal"  stroke="#3a52bd" stroke-width="0.12">445.2 eV</text>
<line x1="255.5" y1="212.5" x2="264.2" y2="197.5" stroke="#111" stroke-width="1.0" />
<text transform="translate(339.5,215.2) scale(1,1.12)" font-size="5.8" text-anchor="start" fill="#3a52bd" font-family="'Liberation Serif', 'Times New Roman', serif" font-weight="bold" font-style="normal"  stroke="#3a52bd" stroke-width="0.12">452.8 eV</text>
<line x1="331.8" y1="209.2" x2="338.6" y2="210.6" stroke="#111" stroke-width="1.0" />
<text transform="translate(276.6,228.2) scale(1,1.12)" font-size="6.9" text-anchor="start" fill="#000" font-family="'Liberation Serif', 'Times New Roman', serif" font-weight="bold" font-style="normal"  stroke="#000" stroke-width="0.25">TiO<tspan font-size="4.14" dy="2.07">2</tspan><tspan dy="-2.07">@ZnIn</tspan><tspan font-size="4.14" dy="2.07">2</tspan><tspan dy="-2.07">S</tspan><tspan font-size="4.14" dy="2.07">4</tspan></text>
<text transform="translate(230.2,246.6) scale(1,1.12)" font-size="5.8" text-anchor="start" fill="#3a52bd" font-family="'Liberation Serif', 'Times New Roman', serif" font-weight="bold" font-style="normal"  stroke="#3a52bd" stroke-width="0.12">444.9 eV</text>
<line x1="251.5" y1="237.5" x2="260.5" y2="228.5" stroke="#111" stroke-width="1.0" />
<text transform="translate(343.3,248.6) scale(1,1.12)" font-size="5.8" text-anchor="start" fill="#3a52bd" font-family="'Liberation Serif', 'Times New Roman', serif" font-weight="bold" font-style="normal"  stroke="#3a52bd" stroke-width="0.12">452.5 eV</text>
<line x1="333.8" y1="236.4" x2="341.5" y2="242" stroke="#111" stroke-width="1.0" />
<text transform="translate(287,253.8) scale(1,1.12)" font-size="6.9" text-anchor="start" fill="#000" font-family="'Liberation Serif', 'Times New Roman', serif" font-weight="bold" font-style="normal"  stroke="#000" stroke-width="0.25">ZnIn<tspan font-size="4.14" dy="2.07">2</tspan><tspan dy="-2.07">S</tspan><tspan font-size="4.14" dy="2.07">4</tspan></text>
<rect x="387.5" y="147.6" width="154.8" height="120.7" fill="none" stroke="#1a1a1a" stroke-width="1.3"/>
<line x1="387.5" y1="268.3" x2="387.5" y2="270.5" stroke="#111" stroke-width="1" />
<line x1="418.46" y1="268.3" x2="418.46" y2="270.5" stroke="#111" stroke-width="1" />
<line x1="449.42" y1="268.3" x2="449.42" y2="270.5" stroke="#111" stroke-width="1" />
<line x1="480.38" y1="268.3" x2="480.38" y2="270.5" stroke="#111" stroke-width="1" />
<line x1="511.34" y1="268.3" x2="511.34" y2="270.5" stroke="#111" stroke-width="1" />
<line x1="542.3" y1="268.3" x2="542.3" y2="270.5" stroke="#111" stroke-width="1" />
<line x1="402.98" y1="268.3" x2="402.98" y2="269.9" stroke="#111" stroke-width="0.9" />
<line x1="433.94" y1="268.3" x2="433.94" y2="269.9" stroke="#111" stroke-width="0.9" />
<line x1="464.9" y1="268.3" x2="464.9" y2="269.9" stroke="#111" stroke-width="0.9" />
<line x1="495.86" y1="268.3" x2="495.86" y2="269.9" stroke="#111" stroke-width="0.9" />
<line x1="526.82" y1="268.3" x2="526.82" y2="269.9" stroke="#111" stroke-width="0.9" />
<text transform="translate(387.5,277.3) scale(1,1.12)" font-size="6.3" text-anchor="middle" fill="#111" font-family="'Liberation Sans', Arial, sans-serif" font-weight="bold" font-style="normal"  stroke="#111" stroke-width="0.25">158</text>
<text transform="translate(418.46,277.3) scale(1,1.12)" font-size="6.3" text-anchor="middle" fill="#111" font-family="'Liberation Sans', Arial, sans-serif" font-weight="bold" font-style="normal"  stroke="#111" stroke-width="0.25">160</text>
<text transform="translate(449.42,277.3) scale(1,1.12)" font-size="6.3" text-anchor="middle" fill="#111" font-family="'Liberation Sans', Arial, sans-serif" font-weight="bold" font-style="normal"  stroke="#111" stroke-width="0.25">162</text>
<text transform="translate(480.38,277.3) scale(1,1.12)" font-size="6.3" text-anchor="middle" fill="#111" font-family="'Liberation Sans', Arial, sans-serif" font-weight="bold" font-style="normal"  stroke="#111" stroke-width="0.25">164</text>
<text transform="translate(511.34,277.3) scale(1,1.12)" font-size="6.3" text-anchor="middle" fill="#111" font-family="'Liberation Sans', Arial, sans-serif" font-weight="bold" font-style="normal"  stroke="#111" stroke-width="0.25">166</text>
<text transform="translate(542.3,277.3) scale(1,1.12)" font-size="6.3" text-anchor="middle" fill="#111" font-family="'Liberation Sans', Arial, sans-serif" font-weight="bold" font-style="normal"  stroke="#111" stroke-width="0.25">168</text>
<text transform="translate(464.8,286.2) scale(1,1.12)" font-size="8.9" text-anchor="middle" fill="#111" font-family="'Liberation Serif', 'Times New Roman', serif" font-weight="bold" font-style="normal"  stroke="#111" stroke-width="0.3">Binding energy (eV)</text>
<text x="0" y="0" font-size="9.5" text-anchor="middle" fill="#111" stroke="#111" stroke-width="0.25" font-family="'Liberation Serif', 'Times New Roman', serif" font-weight="bold" transform="translate(381.7,208.4) rotate(-90)">Intensity (a.u.)</text>
<polyline points="387.8,196.7 388.4,196.69 389,196.69 389.6,196.69 390.2,196.69 390.8,196.69 391.4,196.69 392,196.69 392.6,196.69 393.2,196.68 393.8,196.68 394.4,196.68 395,196.67 395.6,196.67 396.2,196.66 396.8,196.66 397.4,196.65 398,196.64 398.6,196.63 399.2,196.61 399.8,196.6 400.4,196.58 401,196.56 401.6,196.54 402.2,196.51 402.8,196.48 403.4,196.44 404,196.39 404.6,196.34 405.2,196.29 405.8,196.22 406.4,196.15 407,196.07 407.6,195.97 408.2,195.86 408.8,195.74 409.4,195.61 410,195.45 410.6,195.28 411.2,195.1 411.8,194.89 412.4,194.65 413,194.4 413.6,194.11 414.2,193.8 414.8,193.47 415.4,193.1 416,192.69 416.6,192.26 417.2,191.79 417.8,191.28 418.4,190.74 419,190.15 419.6,189.53 420.2,188.87 420.8,188.16 421.4,187.42 422,186.64 422.6,185.82 423.2,184.96 423.8,184.07 424.4,183.14 425,182.17 425.6,181.18 426.2,180.16 426.8,179.12 427.4,178.06 428,176.98 428.6,175.89 429.2,174.79 429.8,173.69 430.4,172.6 431,171.51 431.6,170.44 432.2,169.39 432.8,168.36 433.4,167.36 434,166.4 434.6,165.48 435.2,164.6 435.8,163.78 436.4,163 437,162.29 437.6,161.63 438.2,161.03 438.8,160.5 439.4,160.03 440,159.63 440.6,159.28 441.2,159.03 441.8,158.94 442.4,158.99 443,159.17 443.6,159.49 444.2,159.92 444.8,160.44 445.4,161.04 446,161.7 446.6,162.41 447.2,163.13 447.8,163.86 448.4,164.58 449,165.27 449.6,165.93 450.2,166.54 450.8,167.09 451.4,167.58 452,168.02 452.6,168.4 453.2,168.73 453.8,169.02 454.4,169.27 455,169.5 455.6,169.71 456.2,169.93 456.8,170.17 457.4,170.44 458,170.75 458.6,171.11 459.2,171.53 459.8,172.02 460.4,172.54 461,173.07 461.6,173.62 462.2,174.18 462.8,174.77 463.4,175.37 464,175.99 464.6,176.64 465.2,177.3 465.8,177.98 466.4,178.67 467,179.38 467.6,180.1 468.2,180.82 468.8,181.55 469.4,182.27 470,183 470.6,183.71 471.2,184.42 471.8,185.12 472.4,185.8 473,186.46 473.6,187.1 474.2,187.72 474.8,188.31 475.4,188.88 476,189.42 476.6,189.94 477.2,190.42 477.8,190.88 478.4,191.31 479,191.71 479.6,192.08 480.2,192.43 480.8,192.75 481.4,193.04 482,193.31 482.6,193.56 483.2,193.78 483.8,193.98 484.4,194.17 485,194.33 485.6,194.48 486.2,194.61 486.8,194.73 487.4,194.83 488,194.93 488.6,195.01 489.2,195.08 489.8,195.14 490.4,195.19 491,195.24 491.6,195.28 492.2,195.32 492.8,195.35 493.4,195.37 494,195.39 494.6,195.41 495.2,195.43 495.8,195.44 496.4,195.45 497,195.46 497.6,195.47 498.2,195.48 498.8,195.48 499.4,195.49 500,195.49 500.6,195.49 501.2,195.49 501.8,195.5 502.4,195.5 503,195.5 503.6,195.5 504.2,195.5 504.8,195.5 505.4,195.5 506,195.5 506.6,195.5 507.2,195.5 507.8,195.5 508.4,195.5 509,195.5 509.6,195.5 510.2,195.5 510.8,195.5 511.4,195.5 512,195.5 512.6,195.5 513.2,195.5 513.8,195.5 514.4,195.5 515,195.5 515.6,195.5 516.2,195.5 516.8,195.5 517.4,195.5 518,195.5 518.6,195.5 519.2,195.5 519.8,195.5 520.4,195.5 521,195.5 521.6,195.5 522.2,195.5 522.8,195.5 523.4,195.5 524,195.5 524.6,195.5 525.2,195.5 525.8,195.5 526.4,195.5 527,195.5 527.6,195.5 528.2,195.5 528.8,195.5 529.4,195.5 530,195.5 530.6,195.5 531.2,195.5 531.8,195.5 532.4,195.5 533,195.5 533.6,195.5 534.2,195.5 534.8,195.5 535.4,195.5 536,195.5 536.6,195.5 537.2,195.5 537.8,195.5 538.4,195.5 539,195.5 539.6,195.5 540.2,195.5 540.8,195.5" fill="none" stroke="#f51d1d" stroke-width="2.8" stroke-linejoin="round" stroke-linecap="round" />
<polyline points="388.3,197 388.9,197 389.5,197 390.1,197 390.7,196.99 391.3,196.99 391.9,196.99 392.5,196.99 393.1,196.98 393.7,196.98 394.3,196.98 394.9,196.98 395.5,196.97 396.1,196.97 396.7,196.97 397.3,196.96 397.9,196.96 398.5,196.96 399.1,196.95 399.7,196.95 400.3,196.95 400.9,196.94 401.5,196.94 402.1,196.94 402.7,196.93 403.3,196.93 403.9,196.92 404.5,196.92 405.1,196.91 405.7,196.91 406.3,196.91 406.9,196.9 407.5,196.9 408.1,196.89 408.7,196.89 409.3,196.88 409.9,196.88 410.5,196.87 411.1,196.86 411.7,196.86 412.3,196.85 412.9,196.85 413.5,196.84 414.1,196.83 414.7,196.83 415.3,196.82 415.9,196.81 416.5,196.81 417.1,196.8 417.7,196.79 418.3,196.78 418.9,196.78 419.5,196.77 420.1,196.76 420.7,196.75 421.3,196.74 421.9,196.73 422.5,196.72 423.1,196.71 423.7,196.7 424.3,196.69 424.9,196.68 425.5,196.67 426.1,196.66 426.7,196.65 427.3,196.63 427.9,196.62 428.5,196.61 429.1,196.6 429.7,196.58 430.3,196.57 430.9,196.55 431.5,196.54 432.1,196.52 432.7,196.51 433.3,196.49 433.9,196.47 434.5,196.46 435.1,196.44 435.7,196.42 436.3,196.4 436.9,196.38 437.5,196.36 438.1,196.34 438.7,196.32 439.3,196.3 439.9,196.28 440.5,196.26 441.1,196.24 441.7,196.21 442.3,196.19 442.9,196.17 443.5,196.14 444.1,196.12 444.7,196.1 445.3,196.07 445.9,196.05 446.5,196.02 447.1,196 447.7,195.97 448.3,195.95 448.9,195.92 449.5,195.9 450.1,195.87 450.7,195.85 451.3,195.82 451.9,195.8 452.5,195.77 453.1,195.75 453.7,195.72 454.3,195.7 454.9,195.67 455.5,195.65 456.1,195.63 456.7,195.61 457.3,195.58 457.9,195.56 458.5,195.54 459.1,195.52 459.7,195.5 460.3,195.48 460.9,195.46 461.5,195.44 462.1,195.42 462.7,195.4 463.3,195.38 463.9,195.36 464.5,195.34 465.1,195.33 465.7,195.31 466.3,195.29 466.9,195.28 467.5,195.26 468.1,195.25 468.7,195.23 469.3,195.22 469.9,195.21 470.5,195.19 471.1,195.18 471.7,195.17 472.3,195.16 472.9,195.15 473.5,195.13 474.1,195.12 474.7,195.11 475.3,195.1 475.9,195.09 476.5,195.08 477.1,195.07 477.7,195.06 478.3,195.05 478.9,195.05 479.5,195.04 480.1,195.03 480.7,195.02 481.3,195.01 481.9,195.01 482.5,195 483.1,194.99 483.7,194.98 484.3,194.98 484.9,194.97 485.5,194.96 486.1,194.96 486.7,194.95 487.3,194.95 487.9,194.94 488.5,194.93 489.1,194.93 489.7,194.92 490.3,194.92 490.9,194.91 491.5,194.91 492.1,194.9 492.7,194.9 493.3,194.89 493.9,194.89 494.5,194.89 495.1,194.88 495.7,194.88 496.3,194.87 496.9,194.87 497.5,194.87 498.1,194.86 498.7,194.86 499.3,194.85 499.9,194.85 500.5,194.85 501.1,194.84 501.7,194.84 502.3,194.84 502.9,194.83 503.5,194.83 504.1,194.83 504.7,194.83 505.3,194.82 505.9,194.82 506.5,194.82 507.1,194.81 507.7,194.81 508.3,194.81 508.9,194.81 509.5,194.8 510.1,194.8 510.7,194.8 511.3,194.8 511.9,194.8 512.5,194.79 513.1,194.79 513.7,194.79 514.3,194.79 514.9,194.78 515.5,194.78 516.1,194.78 516.7,194.78 517.3,194.78 517.9,194.78 518.5,194.77 519.1,194.77 519.7,194.77 520.3,194.77 520.9,194.77 521.5,194.77 522.1,194.76 522.7,194.76 523.3,194.76 523.9,194.76 524.5,194.76 525.1,194.76 525.7,194.76 526.3,194.75 526.9,194.75 527.5,194.75 528.1,194.75 528.7,194.75 529.3,194.75 529.9,194.75 530.5,194.75 531.1,194.75 531.7,194.74 532.3,194.74 532.9,194.74 533.5,194.74 534.1,194.74 534.7,194.74 535.3,194.74 535.9,194.74 536.5,194.74 537.1,194.74 537.7,194.74 538.3,194.73 538.9,194.73 539.5,194.73 540.1,194.73 540.7,194.73 541.3,194.73" fill="none" stroke="#3cc43c" stroke-width="1.5" stroke-linejoin="round" stroke-linecap="round" />
<polyline points="388.3,196.7 388.9,196.69 389.5,196.69 390.1,196.69 390.7,196.69 391.3,196.69 391.9,196.69 392.5,196.69 393.1,196.69 393.7,196.68 394.3,196.68 394.9,196.68 395.5,196.67 396.1,196.67 396.7,196.66 397.3,196.66 397.9,196.65 398.5,196.64 399.1,196.63 399.7,196.61 400.3,196.6 400.9,196.58 401.5,196.56 402.1,196.54 402.7,196.51 403.3,196.48 403.9,196.44 404.5,196.39 405.1,196.34 405.7,196.29 406.3,196.22 406.9,196.15 407.5,196.07 408.1,195.97 408.7,195.86 409.3,195.74 409.9,195.61 410.5,195.46 411.1,195.29 411.7,195.1 412.3,194.89 412.9,194.66 413.5,194.4 414.1,194.12 414.7,193.81 415.3,193.47 415.9,193.1 416.5,192.7 417.1,192.27 417.7,191.8 418.3,191.29 418.9,190.75 419.5,190.17 420.1,189.55 420.7,188.9 421.3,188.2 421.9,187.47 422.5,186.69 423.1,185.88 423.7,185.03 424.3,184.15 424.9,183.24 425.5,182.29 426.1,181.32 426.7,180.33 427.3,179.31 427.9,178.28 428.5,177.23 429.1,176.18 429.7,175.13 430.3,174.08 430.9,173.03 431.5,172.01 432.1,171 432.7,170.02 433.3,169.07 433.9,168.16 434.5,167.3 435.1,166.48 435.7,165.72 436.3,165.03 436.9,164.39 437.5,163.83 438.1,163.35 438.7,162.94 439.3,162.61 439.9,162.36 440.5,162.2 441.1,162.13 441.7,162.18 442.3,162.41 442.9,162.82 443.5,163.4 444.1,164.15 444.7,165.04 445.3,166.08 445.9,167.23 446.5,168.49 447.1,169.84 447.7,171.26 448.3,172.72 448.9,174.21 449.5,175.72 450.1,177.22 450.7,178.71 451.3,180.16 451.9,181.56 452.5,182.91 453.1,184.2 453.7,185.41 454.3,186.54 454.9,187.6 455.5,188.57 456.1,189.46 456.7,190.27 457.3,191 457.9,191.66 458.5,192.24 459.1,192.75 459.7,193.2 460.3,193.6 460.9,193.94 461.5,194.23 462.1,194.48 462.7,194.69 463.3,194.87 463.9,195.01 464.5,195.14 465.1,195.24 465.7,195.32 466.3,195.38 466.9,195.44 467.5,195.48 468.1,195.51 468.7,195.53 469.3,195.55 469.9,195.56 470.5,195.57 471.1,195.58 471.7,195.58 472.3,195.58 472.9,195.58 473.5,195.58 474.1,195.58 474.7,195.58 475.3,195.58 475.9,195.57 476.5,195.57 477.1,195.57 477.7,195.56 478.3,195.56 478.9,195.56 479.5,195.55 480.1,195.55 480.7,195.55 481.3,195.55 481.9,195.54 482.5,195.54 483.1,195.54 483.7,195.54 484.3,195.53 484.9,195.53 485.5,195.53 486.1,195.53 486.7,195.53 487.3,195.53 487.9,195.52 488.5,195.52 489.1,195.52 489.7,195.52 490.3,195.52 490.9,195.52 491.5,195.52 492.1,195.52 492.7,195.52 493.3,195.51 493.9,195.51 494.5,195.51 495.1,195.51 495.7,195.51 496.3,195.51 496.9,195.51 497.5,195.51 498.1,195.51 498.7,195.51 499.3,195.51 499.9,195.51 500.5,195.51 501.1,195.51 501.7,195.51 502.3,195.51 502.9,195.51 503.5,195.51 504.1,195.5 504.7,195.5 505.3,195.5 505.9,195.5 506.5,195.5 507.1,195.5 507.7,195.5 508.3,195.5 508.9,195.5 509.5,195.5 510.1,195.5 510.7,195.5 511.3,195.5 511.9,195.5 512.5,195.5 513.1,195.5 513.7,195.5 514.3,195.5 514.9,195.5 515.5,195.5 516.1,195.5 516.7,195.5 517.3,195.5 517.9,195.5 518.5,195.5 519.1,195.5 519.7,195.5 520.3,195.5 520.9,195.5 521.5,195.5 522.1,195.5 522.7,195.5 523.3,195.5 523.9,195.5 524.5,195.5 525.1,195.5 525.7,195.5 526.3,195.5 526.9,195.5 527.5,195.5 528.1,195.5 528.7,195.5 529.3,195.5 529.9,195.5 530.5,195.5 531.1,195.5 531.7,195.5 532.3,195.5 532.9,195.5 533.5,195.5 534.1,195.5 534.7,195.5 535.3,195.5 535.9,195.5 536.5,195.5 537.1,195.5 537.7,195.5 538.3,195.5 538.9,195.5 539.5,195.5 540.1,195.5 540.7,195.5 541.3,195.5" fill="none" stroke="#179a3a" stroke-width="2.8" stroke-linejoin="round" stroke-linecap="round" />
<polyline points="388.3,196.7 388.9,196.7 389.5,196.7 390.1,196.7 390.7,196.7 391.3,196.7 391.9,196.7 392.5,196.7 393.1,196.7 393.7,196.7 394.3,196.7 394.9,196.69 395.5,196.69 396.1,196.69 396.7,196.69 397.3,196.69 397.9,196.69 398.5,196.69 399.1,196.69 399.7,196.69 400.3,196.69 400.9,196.69 401.5,196.69 402.1,196.69 402.7,196.69 403.3,196.69 403.9,196.69 404.5,196.69 405.1,196.69 405.7,196.68 406.3,196.68 406.9,196.68 407.5,196.68 408.1,196.68 408.7,196.68 409.3,196.68 409.9,196.68 410.5,196.68 411.1,196.67 411.7,196.67 412.3,196.67 412.9,196.67 413.5,196.67 414.1,196.67 414.7,196.66 415.3,196.66 415.9,196.66 416.5,196.66 417.1,196.65 417.7,196.65 418.3,196.65 418.9,196.64 419.5,196.64 420.1,196.64 420.7,196.63 421.3,196.63 421.9,196.63 422.5,196.62 423.1,196.62 423.7,196.61 424.3,196.61 424.9,196.6 425.5,196.6 426.1,196.59 426.7,196.58 427.3,196.58 427.9,196.57 428.5,196.56 429.1,196.56 429.7,196.55 430.3,196.54 430.9,196.53 431.5,196.52 432.1,196.5 432.7,196.49 433.3,196.47 433.9,196.45 434.5,196.43 435.1,196.41 435.7,196.38 436.3,196.34 436.9,196.3 437.5,196.25 438.1,196.19 438.7,196.12 439.3,196.04 439.9,195.94 440.5,195.82 441.1,195.68 441.7,195.51 442.3,195.32 442.9,195.1 443.5,194.84 444.1,194.54 444.7,194.19 445.3,193.81 445.9,193.37 446.5,192.88 447.1,192.34 447.7,191.75 448.3,191.1 448.9,190.39 449.5,189.64 450.1,188.84 450.7,188 451.3,187.13 451.9,186.23 452.5,185.31 453.1,184.39 453.7,183.47 454.3,182.57 454.9,181.71 455.5,180.89 456.1,180.13 456.7,179.44 457.3,178.83 457.9,178.32 458.5,177.92 459.1,177.63 459.7,177.45 460.3,177.4 460.9,177.42 461.5,177.5 462.1,177.64 462.7,177.83 463.3,178.08 463.9,178.38 464.5,178.72 465.1,179.11 465.7,179.54 466.3,180 466.9,180.5 467.5,181.03 468.1,181.59 468.7,182.16 469.3,182.75 469.9,183.35 470.5,183.96 471.1,184.58 471.7,185.19 472.3,185.8 472.9,186.4 473.5,186.99 474.1,187.57 474.7,188.13 475.3,188.68 475.9,189.2 476.5,189.7 477.1,190.18 477.7,190.63 478.3,191.06 478.9,191.46 479.5,191.84 480.1,192.2 480.7,192.53 481.3,192.83 481.9,193.11 482.5,193.37 483.1,193.61 483.7,193.82 484.3,194.02 484.9,194.2 485.5,194.36 486.1,194.5 486.7,194.63 487.3,194.74 487.9,194.84 488.5,194.93 489.1,195.01 489.7,195.08 490.3,195.14 490.9,195.2 491.5,195.24 492.1,195.28 492.7,195.32 493.3,195.35 493.9,195.37 494.5,195.4 495.1,195.41 495.7,195.43 496.3,195.44 496.9,195.45 497.5,195.46 498.1,195.47 498.7,195.48 499.3,195.48 499.9,195.49 500.5,195.49 501.1,195.49 501.7,195.5 502.3,195.5 502.9,195.5 503.5,195.5 504.1,195.5 504.7,195.5 505.3,195.5 505.9,195.5 506.5,195.5 507.1,195.5 507.7,195.5 508.3,195.5 508.9,195.5 509.5,195.5 510.1,195.5 510.7,195.5 511.3,195.5 511.9,195.5 512.5,195.5 513.1,195.5 513.7,195.5 514.3,195.5 514.9,195.5 515.5,195.5 516.1,195.5 516.7,195.5 517.3,195.5 517.9,195.5 518.5,195.5 519.1,195.5 519.7,195.5 520.3,195.5 520.9,195.5 521.5,195.5 522.1,195.5 522.7,195.5 523.3,195.5 523.9,195.5 524.5,195.5 525.1,195.5 525.7,195.5 526.3,195.5 526.9,195.5 527.5,195.5 528.1,195.5 528.7,195.5 529.3,195.5 529.9,195.5 530.5,195.5 531.1,195.5 531.7,195.5 532.3,195.5 532.9,195.5 533.5,195.5 534.1,195.5 534.7,195.5 535.3,195.5 535.9,195.5 536.5,195.5 537.1,195.5 537.7,195.5 538.3,195.5 538.9,195.5 539.5,195.5 540.1,195.5 540.7,195.5 541.3,195.5" fill="none" stroke="#24c6e0" stroke-width="2.6" stroke-linejoin="round" stroke-linecap="round" />
<g fill="#333"><circle cx="388.3" cy="196.28" r="0.4"/><circle cx="390.1" cy="194.76" r="0.4"/><circle cx="391.9" cy="196.46" r="0.4"/><circle cx="393.7" cy="195.44" r="0.4"/><circle cx="395.5" cy="196.55" r="0.4"/><circle cx="397.3" cy="195.88" r="0.4"/><circle cx="399.1" cy="196.35" r="0.4"/><circle cx="400.9" cy="195.9" r="0.4"/><circle cx="402.7" cy="196.14" r="0.4"/><circle cx="404.5" cy="195.41" r="0.4"/><circle cx="406.3" cy="194.7" r="0.4"/><circle cx="408.1" cy="195.35" r="0.4"/><circle cx="409.9" cy="195.01" r="0.4"/><circle cx="411.7" cy="195.34" r="0.4"/><circle cx="413.5" cy="192.17" r="0.4"/><circle cx="415.3" cy="192.33" r="0.4"/><circle cx="417.1" cy="191.88" r="0.4"/><circle cx="418.9" cy="188.96" r="0.4"/><circle cx="420.7" cy="187.71" r="0.4"/><circle cx="422.5" cy="186.89" r="0.4"/><circle cx="424.3" cy="183.9" r="0.4"/><circle cx="426.1" cy="179.63" r="0.4"/><circle cx="427.9" cy="177.9" r="0.4"/><circle cx="429.7" cy="174.49" r="0.4"/><circle cx="431.5" cy="170.96" r="0.4"/><circle cx="433.3" cy="167.57" r="0.4"/><circle cx="435.1" cy="164.6" r="0.4"/><circle cx="436.9" cy="161.46" r="0.4"/><circle cx="438.7" cy="159.71" r="0.4"/><circle cx="440.5" cy="159.05" r="0.4"/><circle cx="442.3" cy="158" r="0.4"/><circle cx="444.1" cy="159.58" r="0.4"/><circle cx="445.9" cy="159.82" r="0.4"/><circle cx="447.7" cy="160.67" r="0.4"/><circle cx="449.5" cy="164.05" r="0.4"/><circle cx="451.3" cy="166.24" r="0.4"/><circle cx="453.1" cy="167.61" r="0.4"/><circle cx="454.9" cy="168.29" r="0.4"/><circle cx="456.7" cy="168.42" r="0.4"/><circle cx="458.5" cy="170.63" r="0.4"/><circle cx="460.3" cy="170.6" r="0.4"/><circle cx="462.1" cy="173.03" r="0.4"/><circle cx="463.9" cy="174.18" r="0.4"/><circle cx="465.7" cy="175.56" r="0.4"/><circle cx="467.5" cy="179.21" r="0.4"/><circle cx="469.3" cy="179.02" r="0.4"/><circle cx="471.1" cy="182.19" r="0.4"/><circle cx="472.9" cy="185.04" r="0.4"/><circle cx="474.7" cy="186.49" r="0.4"/><circle cx="476.5" cy="188.86" r="0.4"/><circle cx="478.3" cy="189.8" r="0.4"/><circle cx="480.1" cy="190.8" r="0.4"/><circle cx="481.9" cy="193.33" r="0.4"/><circle cx="483.7" cy="192.63" r="0.4"/><circle cx="485.5" cy="193.22" r="0.4"/><circle cx="487.3" cy="193.06" r="0.4"/><circle cx="489.1" cy="193.54" r="0.4"/><circle cx="490.9" cy="194.57" r="0.4"/><circle cx="492.7" cy="194.64" r="0.4"/><circle cx="494.5" cy="194.38" r="0.4"/><circle cx="496.3" cy="194.01" r="0.4"/><circle cx="498.1" cy="194.87" r="0.4"/><circle cx="499.9" cy="193.45" r="0.4"/><circle cx="501.7" cy="194.28" r="0.4"/><circle cx="503.5" cy="194.34" r="0.4"/><circle cx="505.3" cy="193.98" r="0.4"/><circle cx="507.1" cy="194.58" r="0.4"/><circle cx="508.9" cy="194.09" r="0.4"/><circle cx="510.7" cy="194.01" r="0.4"/><circle cx="512.5" cy="195.57" r="0.4"/><circle cx="514.3" cy="194.94" r="0.4"/><circle cx="516.1" cy="195.21" r="0.4"/><circle cx="517.9" cy="194.52" r="0.4"/><circle cx="519.7" cy="195.07" r="0.4"/><circle cx="521.5" cy="194.96" r="0.4"/><circle cx="523.3" cy="195.22" r="0.4"/><circle cx="525.1" cy="195.91" r="0.4"/><circle cx="526.9" cy="194.36" r="0.4"/><circle cx="528.7" cy="194.65" r="0.4"/><circle cx="530.5" cy="194.46" r="0.4"/><circle cx="532.3" cy="192.38" r="0.4"/><circle cx="534.1" cy="193.66" r="0.4"/><circle cx="535.9" cy="194.51" r="0.4"/><circle cx="537.7" cy="194.87" r="0.4"/><circle cx="539.5" cy="194.15" r="0.4"/><circle cx="541.3" cy="195.18" r="0.4"/></g>
<polyline points="387.8,233.6 388.4,233.6 389,233.6 389.6,233.6 390.2,233.6 390.8,233.6 391.4,233.59 392,233.59 392.6,233.59 393.2,233.59 393.8,233.59 394.4,233.59 395,233.59 395.6,233.59 396.2,233.59 396.8,233.59 397.4,233.59 398,233.59 398.6,233.58 399.2,233.58 399.8,233.58 400.4,233.58 401,233.57 401.6,233.57 402.2,233.56 402.8,233.56 403.4,233.55 404,233.54 404.6,233.53 405.2,233.52 405.8,233.51 406.4,233.49 407,233.47 407.6,233.45 408.2,233.43 408.8,233.4 409.4,233.37 410,233.33 410.6,233.29 411.2,233.24 411.8,233.18 412.4,233.11 413,233.04 413.6,232.95 414.2,232.86 414.8,232.75 415.4,232.62 416,232.49 416.6,232.33 417.2,232.16 417.8,231.97 418.4,231.76 419,231.52 419.6,231.26 420.2,230.97 420.8,230.66 421.4,230.32 422,229.94 422.6,229.54 423.2,229.1 423.8,228.63 424.4,228.12 425,227.57 425.6,226.99 426.2,226.37 426.8,225.71 427.4,225.02 428,224.28 428.6,223.51 429.2,222.71 429.8,221.87 430.4,221 431,220.1 431.6,219.17 432.2,218.22 432.8,217.25 433.4,216.26 434,215.26 434.6,214.25 435.2,213.23 435.8,212.22 436.4,211.21 437,210.22 437.6,209.24 438.2,208.28 438.8,207.35 439.4,206.44 440,205.58 440.6,204.75 441.2,203.97 441.8,203.23 442.4,202.55 443,201.92 443.6,201.34 444.2,200.82 444.8,200.36 445.4,199.95 446,199.6 446.6,199.34 447.2,199.19 447.8,199.13 448.4,199.17 449,199.3 449.6,199.5 450.2,199.78 450.8,200.12 451.4,200.5 452,200.93 452.6,201.38 453.2,201.85 453.8,202.34 454.4,202.82 455,203.3 455.6,203.77 456.2,204.22 456.8,204.65 457.4,205.07 458,205.47 458.6,205.85 459.2,206.22 459.8,206.57 460.4,206.93 461,207.29 461.6,207.65 462.2,208.03 462.8,208.43 463.4,208.86 464,209.32 464.6,209.81 465.2,210.35 465.8,210.89 466.4,211.44 467,211.99 467.6,212.55 468.2,213.11 468.8,213.67 469.4,214.24 470,214.82 470.6,215.4 471.2,215.99 471.8,216.58 472.4,217.18 473,217.78 473.6,218.38 474.2,218.98 474.8,219.58 475.4,220.17 476,220.75 476.6,221.33 477.2,221.9 477.8,222.46 478.4,223 479,223.53 479.6,224.04 480.2,224.54 480.8,225.01 481.4,225.47 482,225.91 482.6,226.32 483.2,226.72 483.8,227.09 484.4,227.45 485,227.78 485.6,228.09 486.2,228.38 486.8,228.65 487.4,228.9 488,229.14 488.6,229.35 489.2,229.55 489.8,229.72 490.4,229.89 491,230.04 491.6,230.17 492.2,230.3 492.8,230.41 493.4,230.5 494,230.59 494.6,230.67 495.2,230.74 495.8,230.81 496.4,230.86 497,230.91 497.6,230.95 498.2,230.99 498.8,231.02 499.4,231.05 500,231.07 500.6,231.09 501.2,231.11 501.8,231.13 502.4,231.14 503,231.15 503.6,231.16 504.2,231.17 504.8,231.18 505.4,231.18 506,231.19 506.6,231.19 507.2,231.19 507.8,231.2 508.4,231.2 509,231.2 509.6,231.2 510.2,231.2 510.8,231.2 511.4,231.2 512,231.2 512.6,231.2 513.2,231.2 513.8,231.2 514.4,231.2 515,231.2 515.6,231.2 516.2,231.2 516.8,231.2 517.4,231.2 518,231.2 518.6,231.2 519.2,231.2 519.8,231.2 520.4,231.2 521,231.2 521.6,231.2 522.2,231.2 522.8,231.2 523.4,231.2 524,231.2 524.6,231.2 525.2,231.2 525.8,231.2 526.4,231.2 527,231.2 527.6,231.2 528.2,231.2 528.8,231.2 529.4,231.2 530,231.2 530.6,231.2 531.2,231.2 531.8,231.2 532.4,231.2 533,231.2 533.6,231.2 534.2,231.2 534.8,231.2 535.4,231.2 536,231.2 536.6,231.2 537.2,231.2 537.8,231.2 538.4,231.2 539,231.2 539.6,231.2 540.2,231.2 540.8,231.2" fill="none" stroke="#f51d1d" stroke-width="2.8" stroke-linejoin="round" stroke-linecap="round" />
<polyline points="388.3,233.9 388.9,233.9 389.5,233.9 390.1,233.9 390.7,233.89 391.3,233.89 391.9,233.89 392.5,233.89 393.1,233.88 393.7,233.88 394.3,233.88 394.9,233.87 395.5,233.87 396.1,233.87 396.7,233.87 397.3,233.86 397.9,233.86 398.5,233.86 399.1,233.85 399.7,233.85 400.3,233.84 400.9,233.84 401.5,233.84 402.1,233.83 402.7,233.83 403.3,233.83 403.9,233.82 404.5,233.82 405.1,233.81 405.7,233.81 406.3,233.8 406.9,233.8 407.5,233.79 408.1,233.79 408.7,233.78 409.3,233.78 409.9,233.77 410.5,233.77 411.1,233.76 411.7,233.75 412.3,233.75 412.9,233.74 413.5,233.73 414.1,233.73 414.7,233.72 415.3,233.71 415.9,233.71 416.5,233.7 417.1,233.69 417.7,233.68 418.3,233.67 418.9,233.66 419.5,233.66 420.1,233.65 420.7,233.64 421.3,233.63 421.9,233.62 422.5,233.61 423.1,233.59 423.7,233.58 424.3,233.57 424.9,233.56 425.5,233.55 426.1,233.53 426.7,233.52 427.3,233.51 427.9,233.49 428.5,233.48 429.1,233.46 429.7,233.44 430.3,233.43 430.9,233.41 431.5,233.39 432.1,233.37 432.7,233.35 433.3,233.33 433.9,233.31 434.5,233.29 435.1,233.27 435.7,233.25 436.3,233.22 436.9,233.2 437.5,233.17 438.1,233.15 438.7,233.12 439.3,233.09 439.9,233.06 440.5,233.03 441.1,233 441.7,232.97 442.3,232.94 442.9,232.91 443.5,232.87 444.1,232.84 444.7,232.8 445.3,232.77 445.9,232.73 446.5,232.69 447.1,232.65 447.7,232.62 448.3,232.58 448.9,232.54 449.5,232.49 450.1,232.45 450.7,232.41 451.3,232.37 451.9,232.33 452.5,232.28 453.1,232.24 453.7,232.2 454.3,232.15 454.9,232.11 455.5,232.07 456.1,232.03 456.7,231.98 457.3,231.94 457.9,231.9 458.5,231.86 459.1,231.82 459.7,231.77 460.3,231.73 460.9,231.69 461.5,231.66 462.1,231.62 462.7,231.58 463.3,231.54 463.9,231.51 464.5,231.47 465.1,231.44 465.7,231.4 466.3,231.37 466.9,231.34 467.5,231.31 468.1,231.28 468.7,231.25 469.3,231.22 469.9,231.19 470.5,231.17 471.1,231.14 471.7,231.12 472.3,231.09 472.9,231.07 473.5,231.05 474.1,231.03 474.7,231 475.3,230.98 475.9,230.96 476.5,230.95 477.1,230.93 477.7,230.91 478.3,230.89 478.9,230.88 479.5,230.86 480.1,230.85 480.7,230.83 481.3,230.82 481.9,230.81 482.5,230.79 483.1,230.78 483.7,230.77 484.3,230.76 484.9,230.75 485.5,230.74 486.1,230.73 486.7,230.72 487.3,230.71 487.9,230.7 488.5,230.69 489.1,230.68 489.7,230.67 490.3,230.66 490.9,230.66 491.5,230.65 492.1,230.64 492.7,230.64 493.3,230.63 493.9,230.62 494.5,230.62 495.1,230.61 495.7,230.6 496.3,230.6 496.9,230.59 497.5,230.59 498.1,230.58 498.7,230.58 499.3,230.57 499.9,230.57 500.5,230.56 501.1,230.56 501.7,230.56 502.3,230.55 502.9,230.55 503.5,230.54 504.1,230.54 504.7,230.54 505.3,230.53 505.9,230.53 506.5,230.53 507.1,230.52 507.7,230.52 508.3,230.52 508.9,230.51 509.5,230.51 510.1,230.51 510.7,230.51 511.3,230.5 511.9,230.5 512.5,230.5 513.1,230.5 513.7,230.49 514.3,230.49 514.9,230.49 515.5,230.49 516.1,230.48 516.7,230.48 517.3,230.48 517.9,230.48 518.5,230.48 519.1,230.47 519.7,230.47 520.3,230.47 520.9,230.47 521.5,230.47 522.1,230.47 522.7,230.46 523.3,230.46 523.9,230.46 524.5,230.46 525.1,230.46 525.7,230.46 526.3,230.46 526.9,230.45 527.5,230.45 528.1,230.45 528.7,230.45 529.3,230.45 529.9,230.45 530.5,230.45 531.1,230.45 531.7,230.45 532.3,230.44 532.9,230.44 533.5,230.44 534.1,230.44 534.7,230.44 535.3,230.44 535.9,230.44 536.5,230.44 537.1,230.44 537.7,230.44 538.3,230.43 538.9,230.43 539.5,230.43 540.1,230.43 540.7,230.43 541.3,230.43" fill="none" stroke="#3cc43c" stroke-width="1.5" stroke-linejoin="round" stroke-linecap="round" />
<polyline points="388.3,233.6 388.9,233.6 389.5,233.6 390.1,233.6 390.7,233.6 391.3,233.6 391.9,233.59 392.5,233.59 393.1,233.59 393.7,233.59 394.3,233.59 394.9,233.59 395.5,233.59 396.1,233.59 396.7,233.59 397.3,233.59 397.9,233.59 398.5,233.59 399.1,233.58 399.7,233.58 400.3,233.58 400.9,233.58 401.5,233.57 402.1,233.57 402.7,233.56 403.3,233.56 403.9,233.55 404.5,233.54 405.1,233.53 405.7,233.52 406.3,233.51 406.9,233.49 407.5,233.47 408.1,233.45 408.7,233.43 409.3,233.4 409.9,233.37 410.5,233.33 411.1,233.29 411.7,233.24 412.3,233.18 412.9,233.11 413.5,233.04 414.1,232.95 414.7,232.86 415.3,232.75 415.9,232.63 416.5,232.49 417.1,232.33 417.7,232.16 418.3,231.97 418.9,231.76 419.5,231.52 420.1,231.26 420.7,230.98 421.3,230.67 421.9,230.33 422.5,229.95 423.1,229.55 423.7,229.11 424.3,228.64 424.9,228.14 425.5,227.6 426.1,227.02 426.7,226.41 427.3,225.75 427.9,225.07 428.5,224.34 429.1,223.59 429.7,222.79 430.3,221.97 430.9,221.12 431.5,220.24 432.1,219.33 432.7,218.41 433.3,217.47 433.9,216.51 434.5,215.55 435.1,214.58 435.7,213.62 436.3,212.66 436.9,211.71 437.5,210.78 438.1,209.88 438.7,209 439.3,208.16 439.9,207.37 440.5,206.61 441.1,205.92 441.7,205.27 442.3,204.69 442.9,204.18 443.5,203.73 444.1,203.36 444.7,203.07 445.3,202.85 445.9,202.71 446.5,202.65 447.1,202.71 447.7,202.9 448.3,203.22 448.9,203.66 449.5,204.23 450.1,204.9 450.7,205.68 451.3,206.54 451.9,207.49 452.5,208.51 453.1,209.58 453.7,210.7 454.3,211.86 454.9,213.03 455.5,214.21 456.1,215.4 456.7,216.57 457.3,217.72 457.9,218.84 458.5,219.92 459.1,220.96 459.7,221.95 460.3,222.89 460.9,223.77 461.5,224.59 462.1,225.36 462.7,226.06 463.3,226.71 463.9,227.3 464.5,227.84 465.1,228.32 465.7,228.75 466.3,229.14 466.9,229.47 467.5,229.77 468.1,230.03 468.7,230.26 469.3,230.45 469.9,230.62 470.5,230.76 471.1,230.88 471.7,230.98 472.3,231.06 472.9,231.13 473.5,231.18 474.1,231.23 474.7,231.26 475.3,231.29 475.9,231.31 476.5,231.32 477.1,231.33 477.7,231.34 478.3,231.34 478.9,231.35 479.5,231.35 480.1,231.34 480.7,231.34 481.3,231.34 481.9,231.33 482.5,231.33 483.1,231.32 483.7,231.32 484.3,231.31 484.9,231.31 485.5,231.3 486.1,231.29 486.7,231.29 487.3,231.29 487.9,231.28 488.5,231.28 489.1,231.27 489.7,231.27 490.3,231.26 490.9,231.26 491.5,231.26 492.1,231.25 492.7,231.25 493.3,231.25 493.9,231.25 494.5,231.24 495.1,231.24 495.7,231.24 496.3,231.24 496.9,231.23 497.5,231.23 498.1,231.23 498.7,231.23 499.3,231.23 499.9,231.23 500.5,231.22 501.1,231.22 501.7,231.22 502.3,231.22 502.9,231.22 503.5,231.22 504.1,231.22 504.7,231.22 505.3,231.21 505.9,231.21 506.5,231.21 507.1,231.21 507.7,231.21 508.3,231.21 508.9,231.21 509.5,231.21 510.1,231.21 510.7,231.21 511.3,231.21 511.9,231.21 512.5,231.21 513.1,231.21 513.7,231.21 514.3,231.21 514.9,231.21 515.5,231.21 516.1,231.21 516.7,231.2 517.3,231.2 517.9,231.2 518.5,231.2 519.1,231.2 519.7,231.2 520.3,231.2 520.9,231.2 521.5,231.2 522.1,231.2 522.7,231.2 523.3,231.2 523.9,231.2 524.5,231.2 525.1,231.2 525.7,231.2 526.3,231.2 526.9,231.2 527.5,231.2 528.1,231.2 528.7,231.2 529.3,231.2 529.9,231.2 530.5,231.2 531.1,231.2 531.7,231.2 532.3,231.2 532.9,231.2 533.5,231.2 534.1,231.2 534.7,231.2 535.3,231.2 535.9,231.2 536.5,231.2 537.1,231.2 537.7,231.2 538.3,231.2 538.9,231.2 539.5,231.2 540.1,231.2 540.7,231.2 541.3,231.2" fill="none" stroke="#179a3a" stroke-width="2.8" stroke-linejoin="round" stroke-linecap="round" />
<polyline points="388.3,233.6 388.9,233.6 389.5,233.6 390.1,233.6 390.7,233.6 391.3,233.6 391.9,233.6 392.5,233.6 393.1,233.59 393.7,233.59 394.3,233.59 394.9,233.59 395.5,233.59 396.1,233.59 396.7,233.59 397.3,233.59 397.9,233.59 398.5,233.59 399.1,233.59 399.7,233.59 400.3,233.59 400.9,233.59 401.5,233.59 402.1,233.59 402.7,233.59 403.3,233.59 403.9,233.58 404.5,233.58 405.1,233.58 405.7,233.58 406.3,233.58 406.9,233.58 407.5,233.58 408.1,233.58 408.7,233.58 409.3,233.57 409.9,233.57 410.5,233.57 411.1,233.57 411.7,233.57 412.3,233.56 412.9,233.56 413.5,233.56 414.1,233.56 414.7,233.56 415.3,233.55 415.9,233.55 416.5,233.55 417.1,233.54 417.7,233.54 418.3,233.54 418.9,233.53 419.5,233.53 420.1,233.52 420.7,233.52 421.3,233.52 421.9,233.51 422.5,233.51 423.1,233.5 423.7,233.49 424.3,233.49 424.9,233.48 425.5,233.47 426.1,233.47 426.7,233.46 427.3,233.45 427.9,233.44 428.5,233.43 429.1,233.42 429.7,233.41 430.3,233.4 430.9,233.39 431.5,233.38 432.1,233.36 432.7,233.35 433.3,233.34 433.9,233.32 434.5,233.3 435.1,233.28 435.7,233.26 436.3,233.24 436.9,233.22 437.5,233.19 438.1,233.16 438.7,233.13 439.3,233.09 439.9,233.05 440.5,233 441.1,232.94 441.7,232.88 442.3,232.81 442.9,232.73 443.5,232.63 444.1,232.53 444.7,232.4 445.3,232.26 445.9,232.1 446.5,231.92 447.1,231.71 447.7,231.47 448.3,231.21 448.9,230.91 449.5,230.58 450.1,230.22 450.7,229.82 451.3,229.38 451.9,228.91 452.5,228.39 453.1,227.84 453.7,227.25 454.3,226.63 454.9,225.98 455.5,225.3 456.1,224.6 456.7,223.88 457.3,223.15 457.9,222.43 458.5,221.7 459.1,220.99 459.7,220.3 460.3,219.64 460.9,219.03 461.5,218.46 462.1,217.94 462.7,217.49 463.3,217.11 463.9,216.81 464.5,216.58 465.1,216.44 465.7,216.39 466.3,216.39 466.9,216.43 467.5,216.52 468.1,216.65 468.7,216.82 469.3,217.02 469.9,217.27 470.5,217.54 471.1,217.85 471.7,218.19 472.3,218.56 472.9,218.95 473.5,219.36 474.1,219.79 474.7,220.24 475.3,220.7 475.9,221.16 476.5,221.64 477.1,222.11 477.7,222.59 478.3,223.06 478.9,223.53 479.5,223.99 480.1,224.45 480.7,224.89 481.3,225.32 481.9,225.74 482.5,226.14 483.1,226.52 483.7,226.89 484.3,227.24 484.9,227.57 485.5,227.89 486.1,228.18 486.7,228.46 487.3,228.72 487.9,228.96 488.5,229.18 489.1,229.39 489.7,229.58 490.3,229.75 490.9,229.91 491.5,230.06 492.1,230.19 492.7,230.31 493.3,230.42 493.9,230.51 494.5,230.6 495.1,230.68 495.7,230.75 496.3,230.81 496.9,230.86 497.5,230.91 498.1,230.95 498.7,230.99 499.3,231.02 499.9,231.05 500.5,231.07 501.1,231.09 501.7,231.11 502.3,231.13 502.9,231.14 503.5,231.15 504.1,231.16 504.7,231.17 505.3,231.18 505.9,231.18 506.5,231.19 507.1,231.19 507.7,231.19 508.3,231.2 508.9,231.2 509.5,231.2 510.1,231.2 510.7,231.2 511.3,231.2 511.9,231.2 512.5,231.2 513.1,231.2 513.7,231.2 514.3,231.2 514.9,231.2 515.5,231.2 516.1,231.2 516.7,231.2 517.3,231.2 517.9,231.2 518.5,231.2 519.1,231.2 519.7,231.2 520.3,231.2 520.9,231.2 521.5,231.2 522.1,231.2 522.7,231.2 523.3,231.2 523.9,231.2 524.5,231.2 525.1,231.2 525.7,231.2 526.3,231.2 526.9,231.2 527.5,231.2 528.1,231.2 528.7,231.2 529.3,231.2 529.9,231.2 530.5,231.2 531.1,231.2 531.7,231.2 532.3,231.2 532.9,231.2 533.5,231.2 534.1,231.2 534.7,231.2 535.3,231.2 535.9,231.2 536.5,231.2 537.1,231.2 537.7,231.2 538.3,231.2 538.9,231.2 539.5,231.2 540.1,231.2 540.7,231.2 541.3,231.2" fill="none" stroke="#24c6e0" stroke-width="2.6" stroke-linejoin="round" stroke-linecap="round" />
<g fill="#333"><circle cx="388.3" cy="233.36" r="0.4"/><circle cx="390.1" cy="232.34" r="0.4"/><circle cx="391.9" cy="233.45" r="0.4"/><circle cx="393.7" cy="233.64" r="0.4"/><circle cx="395.5" cy="232.87" r="0.4"/><circle cx="397.3" cy="232" r="0.4"/><circle cx="399.1" cy="233.46" r="0.4"/><circle cx="400.9" cy="232.48" r="0.4"/><circle cx="402.7" cy="232.33" r="0.4"/><circle cx="404.5" cy="232.61" r="0.4"/><circle cx="406.3" cy="232.18" r="0.4"/><circle cx="408.1" cy="233.1" r="0.4"/><circle cx="409.9" cy="232.83" r="0.4"/><circle cx="411.7" cy="232.97" r="0.4"/><circle cx="413.5" cy="232.39" r="0.4"/><circle cx="415.3" cy="231.27" r="0.4"/><circle cx="417.1" cy="231.24" r="0.4"/><circle cx="418.9" cy="231.28" r="0.4"/><circle cx="420.7" cy="229.73" r="0.4"/><circle cx="422.5" cy="230.7" r="0.4"/><circle cx="424.3" cy="227.48" r="0.4"/><circle cx="426.1" cy="225.64" r="0.4"/><circle cx="427.9" cy="224.7" r="0.4"/><circle cx="429.7" cy="222.16" r="0.4"/><circle cx="431.5" cy="219.08" r="0.4"/><circle cx="433.3" cy="216.11" r="0.4"/><circle cx="435.1" cy="213.5" r="0.4"/><circle cx="436.9" cy="210.72" r="0.4"/><circle cx="438.7" cy="207.74" r="0.4"/><circle cx="440.5" cy="204.4" r="0.4"/><circle cx="442.3" cy="202.49" r="0.4"/><circle cx="444.1" cy="200.85" r="0.4"/><circle cx="445.9" cy="199.41" r="0.4"/><circle cx="447.7" cy="196.33" r="0.4"/><circle cx="449.5" cy="197.76" r="0.4"/><circle cx="451.3" cy="198.65" r="0.4"/><circle cx="453.1" cy="200.24" r="0.4"/><circle cx="454.9" cy="201.93" r="0.4"/><circle cx="456.7" cy="203.77" r="0.4"/><circle cx="458.5" cy="204.84" r="0.4"/><circle cx="460.3" cy="205.5" r="0.4"/><circle cx="462.1" cy="206.67" r="0.4"/><circle cx="463.9" cy="208.91" r="0.4"/><circle cx="465.7" cy="208.98" r="0.4"/><circle cx="467.5" cy="211.17" r="0.4"/><circle cx="469.3" cy="213.61" r="0.4"/><circle cx="471.1" cy="214.61" r="0.4"/><circle cx="472.9" cy="214.95" r="0.4"/><circle cx="474.7" cy="218.2" r="0.4"/><circle cx="476.5" cy="219.52" r="0.4"/><circle cx="478.3" cy="221.39" r="0.4"/><circle cx="480.1" cy="223.67" r="0.4"/><circle cx="481.9" cy="224.75" r="0.4"/><circle cx="483.7" cy="225.56" r="0.4"/><circle cx="485.5" cy="227.32" r="0.4"/><circle cx="487.3" cy="227.91" r="0.4"/><circle cx="489.1" cy="228.41" r="0.4"/><circle cx="490.9" cy="229.07" r="0.4"/><circle cx="492.7" cy="229.45" r="0.4"/><circle cx="494.5" cy="229.39" r="0.4"/><circle cx="496.3" cy="229.53" r="0.4"/><circle cx="498.1" cy="229.97" r="0.4"/><circle cx="499.9" cy="229.48" r="0.4"/><circle cx="501.7" cy="229.36" r="0.4"/><circle cx="503.5" cy="230.93" r="0.4"/><circle cx="505.3" cy="230.03" r="0.4"/><circle cx="507.1" cy="230.18" r="0.4"/><circle cx="508.9" cy="230.12" r="0.4"/><circle cx="510.7" cy="230.22" r="0.4"/><circle cx="512.5" cy="230.22" r="0.4"/><circle cx="514.3" cy="230.24" r="0.4"/><circle cx="516.1" cy="229.72" r="0.4"/><circle cx="517.9" cy="230.76" r="0.4"/><circle cx="519.7" cy="229.79" r="0.4"/><circle cx="521.5" cy="230.82" r="0.4"/><circle cx="523.3" cy="229.05" r="0.4"/><circle cx="525.1" cy="229.57" r="0.4"/><circle cx="526.9" cy="230.8" r="0.4"/><circle cx="528.7" cy="230.11" r="0.4"/><circle cx="530.5" cy="229.8" r="0.4"/><circle cx="532.3" cy="230.43" r="0.4"/><circle cx="534.1" cy="229.57" r="0.4"/><circle cx="535.9" cy="230.25" r="0.4"/><circle cx="537.7" cy="228.87" r="0.4"/><circle cx="539.5" cy="229.93" r="0.4"/><circle cx="541.3" cy="229.81" r="0.4"/></g>
<polyline points="387.8,260.5 388.4,260.5 389,260.5 389.6,260.5 390.2,260.49 390.8,260.49 391.4,260.49 392,260.49 392.6,260.49 393.2,260.49 393.8,260.49 394.4,260.49 395,260.49 395.6,260.49 396.2,260.49 396.8,260.49 397.4,260.49 398,260.48 398.6,260.48 399.2,260.48 399.8,260.48 400.4,260.47 401,260.47 401.6,260.46 402.2,260.46 402.8,260.45 403.4,260.44 404,260.43 404.6,260.42 405.2,260.41 405.8,260.4 406.4,260.38 407,260.36 407.6,260.33 408.2,260.31 408.8,260.27 409.4,260.24 410,260.19 410.6,260.15 411.2,260.09 411.8,260.03 412.4,259.95 413,259.87 413.6,259.78 414.2,259.67 414.8,259.56 415.4,259.43 416,259.28 416.6,259.11 417.2,258.93 417.8,258.73 418.4,258.51 419,258.27 419.6,258 420.2,257.71 420.8,257.4 421.4,257.05 422,256.68 422.6,256.29 423.2,255.86 423.8,255.41 424.4,254.93 425,254.42 425.6,253.88 426.2,253.31 426.8,252.71 427.4,252.09 428,251.45 428.6,250.78 429.2,250.1 429.8,249.39 430.4,248.67 431,247.94 431.6,247.2 432.2,246.46 432.8,245.71 433.4,244.96 434,244.22 434.6,243.49 435.2,242.76 435.8,242.06 436.4,241.38 437,240.71 437.6,240.08 438.2,239.47 438.8,238.89 439.4,238.35 440,237.83 440.6,237.36 441.2,236.91 441.8,236.51 442.4,236.13 443,235.81 443.6,235.55 444.2,235.37 444.8,235.25 445.4,235.19 446,235.19 446.6,235.23 447.2,235.31 447.8,235.43 448.4,235.57 449,235.72 449.6,235.89 450.2,236.07 450.8,236.24 451.4,236.41 452,236.58 452.6,236.74 453.2,236.89 453.8,237.04 454.4,237.18 455,237.33 455.6,237.48 456.2,237.64 456.8,237.82 457.4,238.03 458,238.25 458.6,238.52 459.2,238.82 459.8,239.16 460.4,239.54 461,239.97 461.6,240.4 462.2,240.84 462.8,241.3 463.4,241.78 464,242.26 464.6,242.76 465.2,243.28 465.8,243.81 466.4,244.35 467,244.89 467.6,245.45 468.2,246.02 468.8,246.58 469.4,247.15 470,247.72 470.6,248.29 471.2,248.86 471.8,249.41 472.4,249.96 473,250.49 473.6,251.02 474.2,251.53 474.8,252.02 475.4,252.49 476,252.95 476.6,253.38 477.2,253.8 477.8,254.19 478.4,254.56 479,254.91 479.6,255.24 480.2,255.55 480.8,255.84 481.4,256.1 482,256.35 482.6,256.57 483.2,256.78 483.8,256.97 484.4,257.15 485,257.3 485.6,257.45 486.2,257.57 486.8,257.69 487.4,257.79 488,257.89 488.6,257.97 489.2,258.04 489.8,258.11 490.4,258.16 491,258.21 491.6,258.26 492.2,258.29 492.8,258.33 493.4,258.36 494,258.38 494.6,258.4 495.2,258.42 495.8,258.43 496.4,258.45 497,258.46 497.6,258.47 498.2,258.47 498.8,258.48 499.4,258.49 500,258.49 500.6,258.49 501.2,258.5 501.8,258.5 502.4,258.5 503,258.5 503.6,258.5 504.2,258.5 504.8,258.5 505.4,258.5 506,258.5 506.6,258.5 507.2,258.5 507.8,258.5 508.4,258.5 509,258.5 509.6,258.5 510.2,258.5 510.8,258.5 511.4,258.5 512,258.5 512.6,258.5 513.2,258.5 513.8,258.5 514.4,258.5 515,258.5 515.6,258.5 516.2,258.5 516.8,258.5 517.4,258.5 518,258.5 518.6,258.5 519.2,258.5 519.8,258.5 520.4,258.5 521,258.5 521.6,258.5 522.2,258.5 522.8,258.5 523.4,258.5 524,258.5 524.6,258.5 525.2,258.5 525.8,258.5 526.4,258.5 527,258.5 527.6,258.5 528.2,258.5 528.8,258.5 529.4,258.5 530,258.5 530.6,258.5 531.2,258.5 531.8,258.5 532.4,258.5 533,258.5 533.6,258.5 534.2,258.5 534.8,258.5 535.4,258.5 536,258.5 536.6,258.5 537.2,258.5 537.8,258.5 538.4,258.5 539,258.5 539.6,258.5 540.2,258.5 540.8,258.5" fill="none" stroke="#f51d1d" stroke-width="2.8" stroke-linejoin="round" stroke-linecap="round" />
<polyline points="388.3,260.8 388.9,260.8 389.5,260.8 390.1,260.8 390.7,260.79 391.3,260.79 391.9,260.79 392.5,260.78 393.1,260.78 393.7,260.78 394.3,260.78 394.9,260.77 395.5,260.77 396.1,260.77 396.7,260.76 397.3,260.76 397.9,260.76 398.5,260.75 399.1,260.75 399.7,260.75 400.3,260.74 400.9,260.74 401.5,260.74 402.1,260.73 402.7,260.73 403.3,260.72 403.9,260.72 404.5,260.71 405.1,260.71 405.7,260.7 406.3,260.7 406.9,260.69 407.5,260.69 408.1,260.68 408.7,260.68 409.3,260.67 409.9,260.67 410.5,260.66 411.1,260.65 411.7,260.65 412.3,260.64 412.9,260.63 413.5,260.63 414.1,260.62 414.7,260.61 415.3,260.61 415.9,260.6 416.5,260.59 417.1,260.58 417.7,260.57 418.3,260.56 418.9,260.55 419.5,260.54 420.1,260.53 420.7,260.52 421.3,260.51 421.9,260.5 422.5,260.49 423.1,260.48 423.7,260.47 424.3,260.45 424.9,260.44 425.5,260.43 426.1,260.41 426.7,260.4 427.3,260.38 427.9,260.37 428.5,260.35 429.1,260.34 429.7,260.32 430.3,260.3 430.9,260.28 431.5,260.26 432.1,260.24 432.7,260.22 433.3,260.2 433.9,260.18 434.5,260.16 435.1,260.13 435.7,260.11 436.3,260.09 436.9,260.06 437.5,260.04 438.1,260.01 438.7,259.98 439.3,259.95 439.9,259.92 440.5,259.89 441.1,259.86 441.7,259.83 442.3,259.8 442.9,259.77 443.5,259.74 444.1,259.7 444.7,259.67 445.3,259.63 445.9,259.6 446.5,259.56 447.1,259.53 447.7,259.49 448.3,259.45 448.9,259.42 449.5,259.38 450.1,259.34 450.7,259.31 451.3,259.27 451.9,259.23 452.5,259.2 453.1,259.16 453.7,259.12 454.3,259.09 454.9,259.05 455.5,259.01 456.1,258.98 456.7,258.94 457.3,258.91 457.9,258.87 458.5,258.84 459.1,258.81 459.7,258.78 460.3,258.74 460.9,258.71 461.5,258.68 462.1,258.65 462.7,258.62 463.3,258.6 463.9,258.57 464.5,258.54 465.1,258.52 465.7,258.49 466.3,258.47 466.9,258.44 467.5,258.42 468.1,258.4 468.7,258.38 469.3,258.36 469.9,258.34 470.5,258.32 471.1,258.3 471.7,258.28 472.3,258.26 472.9,258.24 473.5,258.23 474.1,258.21 474.7,258.2 475.3,258.18 475.9,258.17 476.5,258.15 477.1,258.14 477.7,258.13 478.3,258.12 478.9,258.1 479.5,258.09 480.1,258.08 480.7,258.07 481.3,258.06 481.9,258.05 482.5,258.04 483.1,258.03 483.7,258.02 484.3,258.01 484.9,258 485.5,258 486.1,257.99 486.7,257.98 487.3,257.97 487.9,257.96 488.5,257.96 489.1,257.95 489.7,257.94 490.3,257.94 490.9,257.93 491.5,257.93 492.1,257.92 492.7,257.91 493.3,257.91 493.9,257.9 494.5,257.9 495.1,257.89 495.7,257.89 496.3,257.88 496.9,257.88 497.5,257.88 498.1,257.87 498.7,257.87 499.3,257.86 499.9,257.86 500.5,257.85 501.1,257.85 501.7,257.85 502.3,257.84 502.9,257.84 503.5,257.84 504.1,257.83 504.7,257.83 505.3,257.83 505.9,257.82 506.5,257.82 507.1,257.82 507.7,257.82 508.3,257.81 508.9,257.81 509.5,257.81 510.1,257.8 510.7,257.8 511.3,257.8 511.9,257.8 512.5,257.8 513.1,257.79 513.7,257.79 514.3,257.79 514.9,257.79 515.5,257.78 516.1,257.78 516.7,257.78 517.3,257.78 517.9,257.78 518.5,257.78 519.1,257.77 519.7,257.77 520.3,257.77 520.9,257.77 521.5,257.77 522.1,257.77 522.7,257.76 523.3,257.76 523.9,257.76 524.5,257.76 525.1,257.76 525.7,257.76 526.3,257.76 526.9,257.75 527.5,257.75 528.1,257.75 528.7,257.75 529.3,257.75 529.9,257.75 530.5,257.75 531.1,257.75 531.7,257.74 532.3,257.74 532.9,257.74 533.5,257.74 534.1,257.74 534.7,257.74 535.3,257.74 535.9,257.74 536.5,257.74 537.1,257.74 537.7,257.74 538.3,257.73 538.9,257.73 539.5,257.73 540.1,257.73 540.7,257.73 541.3,257.73" fill="none" stroke="#3cc43c" stroke-width="1.5" stroke-linejoin="round" stroke-linecap="round" />
<polyline points="388.3,260.5 388.9,260.5 389.5,260.5 390.1,260.5 390.7,260.49 391.3,260.49 391.9,260.49 392.5,260.49 393.1,260.49 393.7,260.49 394.3,260.49 394.9,260.49 395.5,260.49 396.1,260.49 396.7,260.49 397.3,260.49 397.9,260.49 398.5,260.48 399.1,260.48 399.7,260.48 400.3,260.48 400.9,260.47 401.5,260.47 402.1,260.46 402.7,260.46 403.3,260.45 403.9,260.44 404.5,260.43 405.1,260.42 405.7,260.41 406.3,260.4 406.9,260.38 407.5,260.36 408.1,260.33 408.7,260.31 409.3,260.27 409.9,260.24 410.5,260.2 411.1,260.15 411.7,260.09 412.3,260.03 412.9,259.96 413.5,259.87 414.1,259.78 414.7,259.68 415.3,259.56 415.9,259.43 416.5,259.28 417.1,259.12 417.7,258.94 418.3,258.74 418.9,258.52 419.5,258.28 420.1,258.02 420.7,257.73 421.3,257.42 421.9,257.08 422.5,256.72 423.1,256.32 423.7,255.91 424.3,255.46 424.9,254.99 425.5,254.49 426.1,253.96 426.7,253.41 427.3,252.83 427.9,252.23 428.5,251.61 429.1,250.97 429.7,250.32 430.3,249.64 430.9,248.96 431.5,248.28 432.1,247.58 432.7,246.89 433.3,246.2 433.9,245.53 434.5,244.86 435.1,244.21 435.7,243.59 436.3,242.99 436.9,242.42 437.5,241.89 438.1,241.4 438.7,240.95 439.3,240.55 439.9,240.2 440.5,239.9 441.1,239.66 441.7,239.48 442.3,239.35 442.9,239.29 443.5,239.29 444.1,239.4 444.7,239.61 445.3,239.92 445.9,240.32 446.5,240.8 447.1,241.36 447.7,241.99 448.3,242.68 448.9,243.42 449.5,244.2 450.1,245.02 450.7,245.86 451.3,246.71 451.9,247.56 452.5,248.4 453.1,249.24 453.7,250.05 454.3,250.84 454.9,251.59 455.5,252.3 456.1,252.98 456.7,253.61 457.3,254.2 457.9,254.75 458.5,255.25 459.1,255.7 459.7,256.11 460.3,256.48 460.9,256.81 461.5,257.1 462.1,257.35 462.7,257.58 463.3,257.77 463.9,257.93 464.5,258.08 465.1,258.19 465.7,258.29 466.3,258.38 466.9,258.45 467.5,258.5 468.1,258.54 468.7,258.58 469.3,258.61 469.9,258.63 470.5,258.64 471.1,258.65 471.7,258.66 472.3,258.66 472.9,258.66 473.5,258.66 474.1,258.66 474.7,258.65 475.3,258.65 475.9,258.64 476.5,258.64 477.1,258.63 477.7,258.62 478.3,258.62 478.9,258.61 479.5,258.61 480.1,258.6 480.7,258.6 481.3,258.59 481.9,258.59 482.5,258.58 483.1,258.58 483.7,258.57 484.3,258.57 484.9,258.57 485.5,258.56 486.1,258.56 486.7,258.55 487.3,258.55 487.9,258.55 488.5,258.55 489.1,258.54 489.7,258.54 490.3,258.54 490.9,258.54 491.5,258.53 492.1,258.53 492.7,258.53 493.3,258.53 493.9,258.53 494.5,258.53 495.1,258.52 495.7,258.52 496.3,258.52 496.9,258.52 497.5,258.52 498.1,258.52 498.7,258.52 499.3,258.52 499.9,258.51 500.5,258.51 501.1,258.51 501.7,258.51 502.3,258.51 502.9,258.51 503.5,258.51 504.1,258.51 504.7,258.51 505.3,258.51 505.9,258.51 506.5,258.51 507.1,258.51 507.7,258.51 508.3,258.51 508.9,258.51 509.5,258.51 510.1,258.51 510.7,258.51 511.3,258.5 511.9,258.5 512.5,258.5 513.1,258.5 513.7,258.5 514.3,258.5 514.9,258.5 515.5,258.5 516.1,258.5 516.7,258.5 517.3,258.5 517.9,258.5 518.5,258.5 519.1,258.5 519.7,258.5 520.3,258.5 520.9,258.5 521.5,258.5 522.1,258.5 522.7,258.5 523.3,258.5 523.9,258.5 524.5,258.5 525.1,258.5 525.7,258.5 526.3,258.5 526.9,258.5 527.5,258.5 528.1,258.5 528.7,258.5 529.3,258.5 529.9,258.5 530.5,258.5 531.1,258.5 531.7,258.5 532.3,258.5 532.9,258.5 533.5,258.5 534.1,258.5 534.7,258.5 535.3,258.5 535.9,258.5 536.5,258.5 537.1,258.5 537.7,258.5 538.3,258.5 538.9,258.5 539.5,258.5 540.1,258.5 540.7,258.5 541.3,258.5" fill="none" stroke="#179a3a" stroke-width="2.8" stroke-linejoin="round" stroke-linecap="round" />
<polyline points="388.3,260.5 388.9,260.5 389.5,260.5 390.1,260.5 390.7,260.5 391.3,260.49 391.9,260.49 392.5,260.49 393.1,260.49 393.7,260.49 394.3,260.49 394.9,260.49 395.5,260.49 396.1,260.49 396.7,260.49 397.3,260.49 397.9,260.49 398.5,260.49 399.1,260.49 399.7,260.49 400.3,260.49 400.9,260.49 401.5,260.49 402.1,260.49 402.7,260.48 403.3,260.48 403.9,260.48 404.5,260.48 405.1,260.48 405.7,260.48 406.3,260.48 406.9,260.48 407.5,260.47 408.1,260.47 408.7,260.47 409.3,260.47 409.9,260.47 410.5,260.47 411.1,260.46 411.7,260.46 412.3,260.46 412.9,260.46 413.5,260.45 414.1,260.45 414.7,260.45 415.3,260.45 415.9,260.44 416.5,260.44 417.1,260.43 417.7,260.43 418.3,260.43 418.9,260.42 419.5,260.42 420.1,260.41 420.7,260.41 421.3,260.4 421.9,260.4 422.5,260.39 423.1,260.38 423.7,260.38 424.3,260.37 424.9,260.36 425.5,260.35 426.1,260.35 426.7,260.34 427.3,260.33 427.9,260.32 428.5,260.3 429.1,260.29 429.7,260.28 430.3,260.27 430.9,260.25 431.5,260.23 432.1,260.21 432.7,260.19 433.3,260.17 433.9,260.14 434.5,260.11 435.1,260.08 435.7,260.04 436.3,259.99 436.9,259.94 437.5,259.88 438.1,259.81 438.7,259.73 439.3,259.64 439.9,259.53 440.5,259.41 441.1,259.27 441.7,259.11 442.3,258.93 442.9,258.72 443.5,258.49 444.1,258.23 444.7,257.93 445.3,257.61 445.9,257.25 446.5,256.86 447.1,256.43 447.7,255.96 448.3,255.46 448.9,254.93 449.5,254.36 450.1,253.76 450.7,253.14 451.3,252.49 451.9,251.83 452.5,251.16 453.1,250.48 453.7,249.8 454.3,249.14 454.9,248.49 455.5,247.86 456.1,247.28 456.7,246.73 457.3,246.23 457.9,245.79 458.5,245.42 459.1,245.11 459.7,244.88 460.3,244.72 460.9,244.64 461.5,244.63 462.1,244.67 462.7,244.74 463.3,244.86 463.9,245.02 464.5,245.22 465.1,245.45 465.7,245.72 466.3,246.02 466.9,246.35 467.5,246.71 468.1,247.1 468.7,247.5 469.3,247.92 469.9,248.36 470.5,248.8 471.1,249.26 471.7,249.72 472.3,250.18 472.9,250.65 473.5,251.1 474.1,251.56 474.7,252 475.3,252.44 475.9,252.86 476.5,253.27 477.1,253.66 477.7,254.04 478.3,254.4 478.9,254.75 479.5,255.07 480.1,255.38 480.7,255.67 481.3,255.94 481.9,256.19 482.5,256.42 483.1,256.63 483.7,256.83 484.3,257.02 484.9,257.18 485.5,257.33 486.1,257.47 486.7,257.6 487.3,257.71 487.9,257.81 488.5,257.9 489.1,257.98 489.7,258.05 490.3,258.11 490.9,258.17 491.5,258.22 492.1,258.26 492.7,258.3 493.3,258.33 493.9,258.36 494.5,258.38 495.1,258.4 495.7,258.42 496.3,258.43 496.9,258.45 497.5,258.46 498.1,258.47 498.7,258.47 499.3,258.48 499.9,258.49 500.5,258.49 501.1,258.49 501.7,258.5 502.3,258.5 502.9,258.5 503.5,258.5 504.1,258.5 504.7,258.5 505.3,258.5 505.9,258.5 506.5,258.5 507.1,258.5 507.7,258.5 508.3,258.5 508.9,258.5 509.5,258.5 510.1,258.5 510.7,258.5 511.3,258.5 511.9,258.5 512.5,258.5 513.1,258.5 513.7,258.5 514.3,258.5 514.9,258.5 515.5,258.5 516.1,258.5 516.7,258.5 517.3,258.5 517.9,258.5 518.5,258.5 519.1,258.5 519.7,258.5 520.3,258.5 520.9,258.5 521.5,258.5 522.1,258.5 522.7,258.5 523.3,258.5 523.9,258.5 524.5,258.5 525.1,258.5 525.7,258.5 526.3,258.5 526.9,258.5 527.5,258.5 528.1,258.5 528.7,258.5 529.3,258.5 529.9,258.5 530.5,258.5 531.1,258.5 531.7,258.5 532.3,258.5 532.9,258.5 533.5,258.5 534.1,258.5 534.7,258.5 535.3,258.5 535.9,258.5 536.5,258.5 537.1,258.5 537.7,258.5 538.3,258.5 538.9,258.5 539.5,258.5 540.1,258.5 540.7,258.5 541.3,258.5" fill="none" stroke="#24c6e0" stroke-width="2.6" stroke-linejoin="round" stroke-linecap="round" />
<g fill="#333"><circle cx="388.3" cy="259.82" r="0.4"/><circle cx="390.1" cy="260.02" r="0.4"/><circle cx="391.9" cy="258.98" r="0.4"/><circle cx="393.7" cy="260.46" r="0.4"/><circle cx="395.5" cy="259.14" r="0.4"/><circle cx="397.3" cy="258.25" r="0.4"/><circle cx="399.1" cy="258.05" r="0.4"/><circle cx="400.9" cy="260.4" r="0.4"/><circle cx="402.7" cy="259.41" r="0.4"/><circle cx="404.5" cy="259.05" r="0.4"/><circle cx="406.3" cy="258.95" r="0.4"/><circle cx="408.1" cy="258.68" r="0.4"/><circle cx="409.9" cy="260.05" r="0.4"/><circle cx="411.7" cy="259.04" r="0.4"/><circle cx="413.5" cy="259.95" r="0.4"/><circle cx="415.3" cy="258.44" r="0.4"/><circle cx="417.1" cy="256.7" r="0.4"/><circle cx="418.9" cy="258.02" r="0.4"/><circle cx="420.7" cy="256.49" r="0.4"/><circle cx="422.5" cy="255.54" r="0.4"/><circle cx="424.3" cy="255.35" r="0.4"/><circle cx="426.1" cy="252.72" r="0.4"/><circle cx="427.9" cy="251.79" r="0.4"/><circle cx="429.7" cy="249.09" r="0.4"/><circle cx="431.5" cy="246.49" r="0.4"/><circle cx="433.3" cy="245.01" r="0.4"/><circle cx="435.1" cy="242.12" r="0.4"/><circle cx="436.9" cy="241.11" r="0.4"/><circle cx="438.7" cy="239.05" r="0.4"/><circle cx="440.5" cy="236.87" r="0.4"/><circle cx="442.3" cy="235.87" r="0.4"/><circle cx="444.1" cy="234.89" r="0.4"/><circle cx="445.9" cy="234.03" r="0.4"/><circle cx="447.7" cy="234.85" r="0.4"/><circle cx="449.5" cy="234.59" r="0.4"/><circle cx="451.3" cy="235.61" r="0.4"/><circle cx="453.1" cy="235.17" r="0.4"/><circle cx="454.9" cy="236.24" r="0.4"/><circle cx="456.7" cy="236.89" r="0.4"/><circle cx="458.5" cy="236.78" r="0.4"/><circle cx="460.3" cy="237.91" r="0.4"/><circle cx="462.1" cy="239.08" r="0.4"/><circle cx="463.9" cy="241.21" r="0.4"/><circle cx="465.7" cy="241.85" r="0.4"/><circle cx="467.5" cy="244.16" r="0.4"/><circle cx="469.3" cy="246.5" r="0.4"/><circle cx="471.1" cy="247.51" r="0.4"/><circle cx="472.9" cy="247.99" r="0.4"/><circle cx="474.7" cy="250.6" r="0.4"/><circle cx="476.5" cy="252.57" r="0.4"/><circle cx="478.3" cy="253.02" r="0.4"/><circle cx="480.1" cy="254.91" r="0.4"/><circle cx="481.9" cy="255.48" r="0.4"/><circle cx="483.7" cy="256.04" r="0.4"/><circle cx="485.5" cy="256.15" r="0.4"/><circle cx="487.3" cy="256.39" r="0.4"/><circle cx="489.1" cy="256.82" r="0.4"/><circle cx="490.9" cy="257.21" r="0.4"/><circle cx="492.7" cy="257.61" r="0.4"/><circle cx="494.5" cy="257.64" r="0.4"/><circle cx="496.3" cy="257.26" r="0.4"/><circle cx="498.1" cy="257.51" r="0.4"/><circle cx="499.9" cy="257.72" r="0.4"/><circle cx="501.7" cy="256.53" r="0.4"/><circle cx="503.5" cy="257.05" r="0.4"/><circle cx="505.3" cy="257.03" r="0.4"/><circle cx="507.1" cy="257.39" r="0.4"/><circle cx="508.9" cy="257.35" r="0.4"/><circle cx="510.7" cy="257.36" r="0.4"/><circle cx="512.5" cy="256.99" r="0.4"/><circle cx="514.3" cy="257.92" r="0.4"/><circle cx="516.1" cy="257.68" r="0.4"/><circle cx="517.9" cy="256.53" r="0.4"/><circle cx="519.7" cy="257.52" r="0.4"/><circle cx="521.5" cy="256.83" r="0.4"/><circle cx="523.3" cy="258.53" r="0.4"/><circle cx="525.1" cy="257.24" r="0.4"/><circle cx="526.9" cy="257.27" r="0.4"/><circle cx="528.7" cy="257.56" r="0.4"/><circle cx="530.5" cy="257.39" r="0.4"/><circle cx="532.3" cy="257.48" r="0.4"/><circle cx="534.1" cy="258.44" r="0.4"/><circle cx="535.9" cy="257.65" r="0.4"/><circle cx="537.7" cy="258.01" r="0.4"/><circle cx="539.5" cy="258.19" r="0.4"/><circle cx="541.3" cy="256.93" r="0.4"/></g>
<line x1="442.2" y1="156" x2="442.2" y2="262" stroke="#1a1a1a" stroke-width="1.1" stroke-dasharray="1.4 1.3"/>
<line x1="462.4" y1="170" x2="462.4" y2="262" stroke="#1a1a1a" stroke-width="1.1" stroke-dasharray="1.4 1.3"/>
<line x1="441" y1="155" x2="441" y2="161" stroke="#3b5bd0" stroke-width="0.9" stroke-dasharray="1.2 1.2"/>
<line x1="459.5" y1="172" x2="459.5" y2="179" stroke="#3b5bd0" stroke-width="0.9" stroke-dasharray="1.2 1.2"/>
<line x1="446.5" y1="196" x2="446.5" y2="203" stroke="#3b5bd0" stroke-width="0.9" stroke-dasharray="1.2 1.2"/>
<line x1="465" y1="211" x2="465" y2="218" stroke="#3b5bd0" stroke-width="0.9" stroke-dasharray="1.2 1.2"/>
<text transform="translate(390.6,162) scale(1,0.9)" font-size="13.5" text-anchor="start" fill="#000" font-family="'Liberation Serif', 'Times New Roman', serif" font-weight="bold" font-style="normal"  stroke="#000" stroke-width="0.25">(f)</text>
<text transform="translate(540.4,158.6) scale(1,1.12)" font-size="9.1" text-anchor="end" fill="#000" font-family="'Liberation Serif', 'Times New Roman', serif" font-weight="bold" font-style="normal"  stroke="#000" stroke-width="0.25">S 2p</text>
<text transform="translate(411.5,160.3) scale(1,1.12)" font-size="7.0" text-anchor="start" fill="#000" font-family="'Liberation Serif', 'Times New Roman', serif" font-weight="bold" font-style="normal"  stroke="#000" stroke-width="0.25">S 2p<tspan font-size="4.2" dy="2.1">3/2</tspan></text>
<text transform="translate(408.4,170.4) scale(1,1.12)" font-size="5.8" text-anchor="start" fill="#3a52bd" font-family="'Liberation Serif', 'Times New Roman', serif" font-weight="bold" font-style="normal"  stroke="#3a52bd" stroke-width="0.12">161.4 eV</text>
<line x1="428" y1="160" x2="437.5" y2="163.5" stroke="#111" stroke-width="1.0" />
<text transform="translate(465,172.8) scale(1,1.12)" font-size="7.0" text-anchor="start" fill="#000" font-family="'Liberation Serif', 'Times New Roman', serif" font-weight="bold" font-style="normal"  stroke="#000" stroke-width="0.25">S 2p<tspan font-size="4.2" dy="2.1">1/2</tspan></text>
<text transform="translate(467,181.4) scale(1,1.12)" font-size="5.8" text-anchor="start" fill="#3a52bd" font-family="'Liberation Serif', 'Times New Roman', serif" font-weight="bold" font-style="normal"  stroke="#3a52bd" stroke-width="0.12">162.6 eV</text>
<line x1="466.5" y1="173" x2="459.5" y2="180" stroke="#111" stroke-width="1.0" />
<text transform="translate(495.6,183.8) scale(1,1.12)" font-size="6.9" text-anchor="start" fill="#000" font-family="'Liberation Serif', 'Times New Roman', serif" font-weight="bold" font-style="normal"  stroke="#000" stroke-width="0.25">TiO<tspan font-size="4.14" dy="2.07">2</tspan><tspan dy="-2.07">@ZnIn</tspan><tspan font-size="4.14" dy="2.07">2</tspan><tspan dy="-2.07">S</tspan><tspan font-size="4.14" dy="2.07">4</tspan></text>
<text transform="translate(506.8,193) scale(1,1.12)" font-size="7.2" text-anchor="start" fill="#000" font-family="'Liberation Serif', 'Times New Roman', serif" font-weight="bold" font-style="normal"  stroke="#000" stroke-width="0.25">in light</text>
<text transform="translate(413,207.4) scale(1,1.12)" font-size="7.0" text-anchor="start" fill="#000" font-family="'Liberation Serif', 'Times New Roman', serif" font-weight="bold" font-style="normal"  stroke="#000" stroke-width="0.25">S 2p<tspan font-size="4.2" dy="2.1">3/2</tspan></text>
<text transform="translate(411.7,215.4) scale(1,1.12)" font-size="5.8" text-anchor="start" fill="#3a52bd" font-family="'Liberation Serif', 'Times New Roman', serif" font-weight="bold" font-style="normal"  stroke="#3a52bd" stroke-width="0.12">161.8 eV</text>
<line x1="431" y1="206" x2="442" y2="209.5" stroke="#111" stroke-width="1.0" />
<text transform="translate(475.3,209.8) scale(1,1.12)" font-size="7.0" text-anchor="start" fill="#000" font-family="'Liberation Serif', 'Times New Roman', serif" font-weight="bold" font-style="normal"  stroke="#000" stroke-width="0.25">S 2p<tspan font-size="4.2" dy="2.1">1/2</tspan></text>
<text transform="translate(476.5,218.8) scale(1,1.12)" font-size="5.8" text-anchor="start" fill="#3a52bd" font-family="'Liberation Serif', 'Times New Roman', serif" font-weight="bold" font-style="normal"  stroke="#3a52bd" stroke-width="0.12">163.0 eV</text>
<line x1="476" y1="211.5" x2="466" y2="218" stroke="#111" stroke-width="1.0" />
<text transform="translate(497.2,227.2) scale(1,1.12)" font-size="6.9" text-anchor="start" fill="#000" font-family="'Liberation Serif', 'Times New Roman', serif" font-weight="bold" font-style="normal"  stroke="#000" stroke-width="0.25">TiO<tspan font-size="4.14" dy="2.07">2</tspan><tspan dy="-2.07">@ZnIn</tspan><tspan font-size="4.14" dy="2.07">2</tspan><tspan dy="-2.07">S</tspan><tspan font-size="4.14" dy="2.07">4</tspan></text>
<text transform="translate(414.2,241.8) scale(1,1.12)" font-size="7.0" text-anchor="start" fill="#000" font-family="'Liberation Serif', 'Times New Roman', serif" font-weight="bold" font-style="normal"  stroke="#000" stroke-width="0.25">S 2p<tspan font-size="4.2" dy="2.1">3/2</tspan></text>
<text transform="translate(409.1,250.8) scale(1,1.12)" font-size="5.8" text-anchor="start" fill="#3a52bd" font-family="'Liberation Serif', 'Times New Roman', serif" font-weight="bold" font-style="normal"  stroke="#3a52bd" stroke-width="0.12">161.6 eV</text>
<line x1="431.5" y1="242" x2="441" y2="246" stroke="#111" stroke-width="1.0" />
<text transform="translate(470.2,243.8) scale(1,1.12)" font-size="7.0" text-anchor="start" fill="#000" font-family="'Liberation Serif', 'Times New Roman', serif" font-weight="bold" font-style="normal"  stroke="#000" stroke-width="0.25">S 2p<tspan font-size="4.2" dy="2.1">1/2</tspan></text>
<text transform="translate(470.2,251.2) scale(1,1.12)" font-size="5.8" text-anchor="start" fill="#3a52bd" font-family="'Liberation Serif', 'Times New Roman', serif" font-weight="bold" font-style="normal"  stroke="#3a52bd" stroke-width="0.12">162.8 eV</text>
<line x1="470" y1="244" x2="463.5" y2="250.5" stroke="#111" stroke-width="1.0" />
<text transform="translate(506.6,254.2) scale(1,1.12)" font-size="6.9" text-anchor="start" fill="#000" font-family="'Liberation Serif', 'Times New Roman', serif" font-weight="bold" font-style="normal"  stroke="#000" stroke-width="0.25">ZnIn<tspan font-size="4.14" dy="2.07">2</tspan><tspan dy="-2.07">S</tspan><tspan font-size="4.14" dy="2.07">4</tspan></text>
</svg>
</body></html>
